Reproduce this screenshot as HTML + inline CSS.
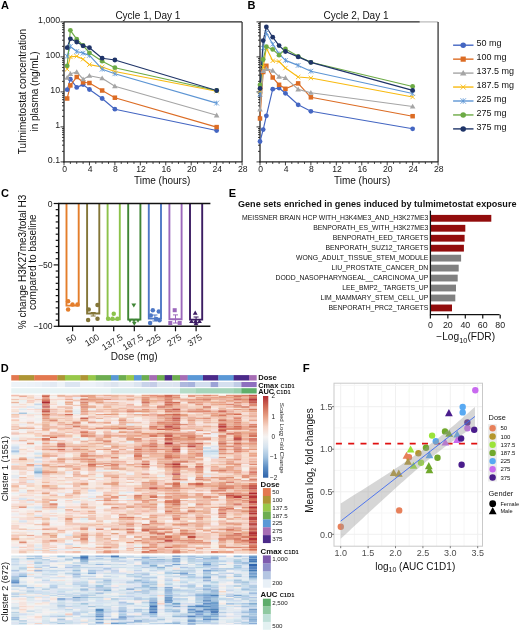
<!DOCTYPE html>
<html><head><meta charset="utf-8"><style>
html,body{margin:0;padding:0;background:#fff;overflow:hidden;}
svg{display:block;filter:blur(0.3px);}
text{font-family:"Liberation Sans",sans-serif;}
</style></head><body>
<svg width="520" height="631" viewBox="0 0 520 631" font-family="Liberation Sans, sans-serif">
<rect width="520" height="631" fill="#fff"/>
<text x="1.00" y="9.00" font-size="11" text-anchor="start" fill="#000" font-weight="bold" >A</text>
<text x="247.50" y="9.00" font-size="11" text-anchor="start" fill="#000" font-weight="bold" >B</text>
<line x1="64.00" y1="21.90" x2="64.00" y2="162.40" stroke="#262626" stroke-width="1.3" />
<line x1="63.40" y1="161.90" x2="242.08" y2="161.90" stroke="#262626" stroke-width="1.3" />
<line x1="64.00" y1="21.90" x2="242.08" y2="21.90" stroke="#262626" stroke-width="1.2" />
<line x1="242.08" y1="21.90" x2="242.08" y2="161.90" stroke="#262626" stroke-width="1.2" />
<line x1="60.50" y1="161.90" x2="64.00" y2="161.90" stroke="#262626" stroke-width="0.9" />
<line x1="62.00" y1="151.36" x2="64.00" y2="151.36" stroke="#262626" stroke-width="0.9" />
<line x1="62.00" y1="145.20" x2="64.00" y2="145.20" stroke="#262626" stroke-width="0.9" />
<line x1="62.00" y1="140.83" x2="64.00" y2="140.83" stroke="#262626" stroke-width="0.9" />
<line x1="62.00" y1="137.44" x2="64.00" y2="137.44" stroke="#262626" stroke-width="0.9" />
<line x1="62.00" y1="134.66" x2="64.00" y2="134.66" stroke="#262626" stroke-width="0.9" />
<line x1="62.00" y1="132.32" x2="64.00" y2="132.32" stroke="#262626" stroke-width="0.9" />
<line x1="62.00" y1="130.29" x2="64.00" y2="130.29" stroke="#262626" stroke-width="0.9" />
<line x1="62.00" y1="128.50" x2="64.00" y2="128.50" stroke="#262626" stroke-width="0.9" />
<line x1="60.50" y1="126.90" x2="64.00" y2="126.90" stroke="#262626" stroke-width="0.9" />
<line x1="62.00" y1="116.36" x2="64.00" y2="116.36" stroke="#262626" stroke-width="0.9" />
<line x1="62.00" y1="110.20" x2="64.00" y2="110.20" stroke="#262626" stroke-width="0.9" />
<line x1="62.00" y1="105.83" x2="64.00" y2="105.83" stroke="#262626" stroke-width="0.9" />
<line x1="62.00" y1="102.44" x2="64.00" y2="102.44" stroke="#262626" stroke-width="0.9" />
<line x1="62.00" y1="99.66" x2="64.00" y2="99.66" stroke="#262626" stroke-width="0.9" />
<line x1="62.00" y1="97.32" x2="64.00" y2="97.32" stroke="#262626" stroke-width="0.9" />
<line x1="62.00" y1="95.29" x2="64.00" y2="95.29" stroke="#262626" stroke-width="0.9" />
<line x1="62.00" y1="93.50" x2="64.00" y2="93.50" stroke="#262626" stroke-width="0.9" />
<line x1="60.50" y1="91.90" x2="64.00" y2="91.90" stroke="#262626" stroke-width="0.9" />
<line x1="62.00" y1="81.36" x2="64.00" y2="81.36" stroke="#262626" stroke-width="0.9" />
<line x1="62.00" y1="75.20" x2="64.00" y2="75.20" stroke="#262626" stroke-width="0.9" />
<line x1="62.00" y1="70.83" x2="64.00" y2="70.83" stroke="#262626" stroke-width="0.9" />
<line x1="62.00" y1="67.44" x2="64.00" y2="67.44" stroke="#262626" stroke-width="0.9" />
<line x1="62.00" y1="64.66" x2="64.00" y2="64.66" stroke="#262626" stroke-width="0.9" />
<line x1="62.00" y1="62.32" x2="64.00" y2="62.32" stroke="#262626" stroke-width="0.9" />
<line x1="62.00" y1="60.29" x2="64.00" y2="60.29" stroke="#262626" stroke-width="0.9" />
<line x1="62.00" y1="58.50" x2="64.00" y2="58.50" stroke="#262626" stroke-width="0.9" />
<line x1="60.50" y1="56.90" x2="64.00" y2="56.90" stroke="#262626" stroke-width="0.9" />
<line x1="62.00" y1="46.36" x2="64.00" y2="46.36" stroke="#262626" stroke-width="0.9" />
<line x1="62.00" y1="40.20" x2="64.00" y2="40.20" stroke="#262626" stroke-width="0.9" />
<line x1="62.00" y1="35.83" x2="64.00" y2="35.83" stroke="#262626" stroke-width="0.9" />
<line x1="62.00" y1="32.44" x2="64.00" y2="32.44" stroke="#262626" stroke-width="0.9" />
<line x1="62.00" y1="29.66" x2="64.00" y2="29.66" stroke="#262626" stroke-width="0.9" />
<line x1="62.00" y1="27.32" x2="64.00" y2="27.32" stroke="#262626" stroke-width="0.9" />
<line x1="62.00" y1="25.29" x2="64.00" y2="25.29" stroke="#262626" stroke-width="0.9" />
<line x1="62.00" y1="23.50" x2="64.00" y2="23.50" stroke="#262626" stroke-width="0.9" />
<line x1="60.50" y1="21.90" x2="64.00" y2="21.90" stroke="#262626" stroke-width="0.9" />
<line x1="64.00" y1="161.90" x2="64.00" y2="165.40" stroke="#262626" stroke-width="0.9" />
<line x1="70.36" y1="161.90" x2="70.36" y2="163.90" stroke="#262626" stroke-width="0.9" />
<line x1="76.72" y1="161.90" x2="76.72" y2="163.90" stroke="#262626" stroke-width="0.9" />
<line x1="83.08" y1="161.90" x2="83.08" y2="163.90" stroke="#262626" stroke-width="0.9" />
<line x1="89.44" y1="161.90" x2="89.44" y2="165.40" stroke="#262626" stroke-width="0.9" />
<line x1="95.80" y1="161.90" x2="95.80" y2="163.90" stroke="#262626" stroke-width="0.9" />
<line x1="102.16" y1="161.90" x2="102.16" y2="163.90" stroke="#262626" stroke-width="0.9" />
<line x1="108.52" y1="161.90" x2="108.52" y2="163.90" stroke="#262626" stroke-width="0.9" />
<line x1="114.88" y1="161.90" x2="114.88" y2="165.40" stroke="#262626" stroke-width="0.9" />
<line x1="121.24" y1="161.90" x2="121.24" y2="163.90" stroke="#262626" stroke-width="0.9" />
<line x1="127.60" y1="161.90" x2="127.60" y2="163.90" stroke="#262626" stroke-width="0.9" />
<line x1="133.96" y1="161.90" x2="133.96" y2="163.90" stroke="#262626" stroke-width="0.9" />
<line x1="140.32" y1="161.90" x2="140.32" y2="165.40" stroke="#262626" stroke-width="0.9" />
<line x1="146.68" y1="161.90" x2="146.68" y2="163.90" stroke="#262626" stroke-width="0.9" />
<line x1="153.04" y1="161.90" x2="153.04" y2="163.90" stroke="#262626" stroke-width="0.9" />
<line x1="159.40" y1="161.90" x2="159.40" y2="163.90" stroke="#262626" stroke-width="0.9" />
<line x1="165.76" y1="161.90" x2="165.76" y2="165.40" stroke="#262626" stroke-width="0.9" />
<line x1="172.12" y1="161.90" x2="172.12" y2="163.90" stroke="#262626" stroke-width="0.9" />
<line x1="178.48" y1="161.90" x2="178.48" y2="163.90" stroke="#262626" stroke-width="0.9" />
<line x1="184.84" y1="161.90" x2="184.84" y2="163.90" stroke="#262626" stroke-width="0.9" />
<line x1="191.20" y1="161.90" x2="191.20" y2="165.40" stroke="#262626" stroke-width="0.9" />
<line x1="197.56" y1="161.90" x2="197.56" y2="163.90" stroke="#262626" stroke-width="0.9" />
<line x1="203.92" y1="161.90" x2="203.92" y2="163.90" stroke="#262626" stroke-width="0.9" />
<line x1="210.28" y1="161.90" x2="210.28" y2="163.90" stroke="#262626" stroke-width="0.9" />
<line x1="216.64" y1="161.90" x2="216.64" y2="165.40" stroke="#262626" stroke-width="0.9" />
<line x1="223.00" y1="161.90" x2="223.00" y2="163.90" stroke="#262626" stroke-width="0.9" />
<line x1="229.36" y1="161.90" x2="229.36" y2="163.90" stroke="#262626" stroke-width="0.9" />
<line x1="235.72" y1="161.90" x2="235.72" y2="163.90" stroke="#262626" stroke-width="0.9" />
<line x1="242.08" y1="161.90" x2="242.08" y2="165.40" stroke="#262626" stroke-width="0.9" />
<text x="64.60" y="172.10" font-size="8.6" text-anchor="middle" fill="#222" >0</text>
<text x="90.04" y="172.10" font-size="8.6" text-anchor="middle" fill="#222" >4</text>
<text x="115.48" y="172.10" font-size="8.6" text-anchor="middle" fill="#222" >8</text>
<text x="140.92" y="172.10" font-size="8.6" text-anchor="middle" fill="#222" >12</text>
<text x="166.36" y="172.10" font-size="8.6" text-anchor="middle" fill="#222" >16</text>
<text x="191.80" y="172.10" font-size="8.6" text-anchor="middle" fill="#222" >20</text>
<text x="217.24" y="172.10" font-size="8.6" text-anchor="middle" fill="#222" >24</text>
<text x="242.68" y="172.10" font-size="8.6" text-anchor="middle" fill="#222" >28</text>
<text x="60.10" y="162.70" font-size="8.8" text-anchor="end" fill="#222" >0.1</text>
<text x="60.10" y="127.70" font-size="8.8" text-anchor="end" fill="#222" >1</text>
<text x="60.10" y="92.70" font-size="8.8" text-anchor="end" fill="#222" >10</text>
<text x="60.10" y="57.70" font-size="8.8" text-anchor="end" fill="#222" >100</text>
<text x="60.10" y="22.70" font-size="8.8" text-anchor="end" fill="#222" >1,000</text>
<text x="147.90" y="19.30" font-size="10" text-anchor="middle" fill="#111" >Cycle 1, Day 1</text>
<text x="162.10" y="184.00" font-size="10" text-anchor="middle" fill="#111" >Time (hours)</text>
<path d="M67.18 89.70L70.36 79.20L76.72 87.40L83.08 84.60L89.44 89.50L102.16 98.50L114.88 109.20L216.64 130.50" fill="none" stroke="#4466C2" stroke-width="1.15" stroke-linejoin="round"/>
<path d="M67.18 98.50L70.36 85.40L76.72 77.00L83.08 82.30L89.44 83.00L102.16 90.50L114.88 97.70L216.64 127.10" fill="none" stroke="#DC6C24" stroke-width="1.15" stroke-linejoin="round"/>
<path d="M67.18 77.70L70.36 73.80L76.72 72.00L83.08 79.20L89.44 75.70L102.16 78.20L114.88 86.20L216.64 115.30" fill="none" stroke="#A5A5A5" stroke-width="1.15" stroke-linejoin="round"/>
<path d="M67.18 69.20L70.36 56.90L76.72 56.20L83.08 59.20L89.44 64.60L102.16 67.00L114.88 71.50L216.64 91.20" fill="none" stroke="#F8BA10" stroke-width="1.15" stroke-linejoin="round"/>
<path d="M67.18 56.20L70.36 46.50L76.72 51.50L83.08 53.10L89.44 55.40L102.16 69.20L114.88 73.80L216.64 103.10" fill="none" stroke="#5D95D4" stroke-width="1.15" stroke-linejoin="round"/>
<path d="M67.18 65.80L70.36 30.30L76.72 39.20L83.08 45.50L89.44 52.80L102.16 61.20L114.88 67.70L216.64 90.50" fill="none" stroke="#6CAA45" stroke-width="1.15" stroke-linejoin="round"/>
<path d="M67.18 47.70L70.36 38.80L76.72 42.00L83.08 45.80L89.44 47.70L102.16 58.20L114.88 60.00L216.64 90.50" fill="none" stroke="#1F3468" stroke-width="1.15" stroke-linejoin="round"/>
<circle cx="67.18" cy="89.70" r="2.40" fill="#4466C2"/>
<circle cx="70.36" cy="79.20" r="2.40" fill="#4466C2"/>
<circle cx="76.72" cy="87.40" r="2.40" fill="#4466C2"/>
<circle cx="83.08" cy="84.60" r="2.40" fill="#4466C2"/>
<circle cx="89.44" cy="89.50" r="2.40" fill="#4466C2"/>
<circle cx="102.16" cy="98.50" r="2.40" fill="#4466C2"/>
<circle cx="114.88" cy="109.20" r="2.40" fill="#4466C2"/>
<circle cx="216.64" cy="130.50" r="2.40" fill="#4466C2"/>
<rect x="64.93" y="96.25" width="4.50" height="4.50" fill="#DC6C24"/>
<rect x="68.11" y="83.15" width="4.50" height="4.50" fill="#DC6C24"/>
<rect x="74.47" y="74.75" width="4.50" height="4.50" fill="#DC6C24"/>
<rect x="80.83" y="80.05" width="4.50" height="4.50" fill="#DC6C24"/>
<rect x="87.19" y="80.75" width="4.50" height="4.50" fill="#DC6C24"/>
<rect x="99.91" y="88.25" width="4.50" height="4.50" fill="#DC6C24"/>
<rect x="112.63" y="95.45" width="4.50" height="4.50" fill="#DC6C24"/>
<rect x="214.39" y="124.85" width="4.50" height="4.50" fill="#DC6C24"/>
<path d="M67.18 74.90L69.98 79.80L64.38 79.80Z" fill="#A5A5A5"/>
<path d="M70.36 71.00L73.16 75.90L67.56 75.90Z" fill="#A5A5A5"/>
<path d="M76.72 69.20L79.52 74.10L73.92 74.10Z" fill="#A5A5A5"/>
<path d="M83.08 76.40L85.88 81.30L80.28 81.30Z" fill="#A5A5A5"/>
<path d="M89.44 72.90L92.24 77.80L86.64 77.80Z" fill="#A5A5A5"/>
<path d="M102.16 75.40L104.96 80.30L99.36 80.30Z" fill="#A5A5A5"/>
<path d="M114.88 83.40L117.68 88.30L112.08 88.30Z" fill="#A5A5A5"/>
<path d="M216.64 112.50L219.44 117.40L213.84 117.40Z" fill="#A5A5A5"/>
<path d="M64.98 67.00L69.38 71.40M69.38 67.00L64.98 71.40" stroke="#F8BA10" stroke-width="0.9" fill="none"/>
<path d="M68.16 54.70L72.56 59.10M72.56 54.70L68.16 59.10" stroke="#F8BA10" stroke-width="0.9" fill="none"/>
<path d="M74.52 54.00L78.92 58.40M78.92 54.00L74.52 58.40" stroke="#F8BA10" stroke-width="0.9" fill="none"/>
<path d="M80.88 57.00L85.28 61.40M85.28 57.00L80.88 61.40" stroke="#F8BA10" stroke-width="0.9" fill="none"/>
<path d="M87.24 62.40L91.64 66.80M91.64 62.40L87.24 66.80" stroke="#F8BA10" stroke-width="0.9" fill="none"/>
<path d="M99.96 64.80L104.36 69.20M104.36 64.80L99.96 69.20" stroke="#F8BA10" stroke-width="0.9" fill="none"/>
<path d="M112.68 69.30L117.08 73.70M117.08 69.30L112.68 73.70" stroke="#F8BA10" stroke-width="0.9" fill="none"/>
<path d="M214.44 89.00L218.84 93.40M218.84 89.00L214.44 93.40" stroke="#F8BA10" stroke-width="0.9" fill="none"/>
<path d="M64.78 53.80L69.58 58.60M69.58 53.80L64.78 58.60M67.18 53.80L67.18 58.60" stroke="#5D95D4" stroke-width="0.8" fill="none"/>
<path d="M67.96 44.10L72.76 48.90M72.76 44.10L67.96 48.90M70.36 44.10L70.36 48.90" stroke="#5D95D4" stroke-width="0.8" fill="none"/>
<path d="M74.32 49.10L79.12 53.90M79.12 49.10L74.32 53.90M76.72 49.10L76.72 53.90" stroke="#5D95D4" stroke-width="0.8" fill="none"/>
<path d="M80.68 50.70L85.48 55.50M85.48 50.70L80.68 55.50M83.08 50.70L83.08 55.50" stroke="#5D95D4" stroke-width="0.8" fill="none"/>
<path d="M87.04 53.00L91.84 57.80M91.84 53.00L87.04 57.80M89.44 53.00L89.44 57.80" stroke="#5D95D4" stroke-width="0.8" fill="none"/>
<path d="M99.76 66.80L104.56 71.60M104.56 66.80L99.76 71.60M102.16 66.80L102.16 71.60" stroke="#5D95D4" stroke-width="0.8" fill="none"/>
<path d="M112.48 71.40L117.28 76.20M117.28 71.40L112.48 76.20M114.88 71.40L114.88 76.20" stroke="#5D95D4" stroke-width="0.8" fill="none"/>
<path d="M214.24 100.70L219.04 105.50M219.04 100.70L214.24 105.50M216.64 100.70L216.64 105.50" stroke="#5D95D4" stroke-width="0.8" fill="none"/>
<circle cx="67.18" cy="65.80" r="2.40" fill="#6CAA45"/>
<circle cx="70.36" cy="30.30" r="2.40" fill="#6CAA45"/>
<circle cx="76.72" cy="39.20" r="2.40" fill="#6CAA45"/>
<circle cx="83.08" cy="45.50" r="2.40" fill="#6CAA45"/>
<circle cx="89.44" cy="52.80" r="2.40" fill="#6CAA45"/>
<circle cx="102.16" cy="61.20" r="2.40" fill="#6CAA45"/>
<circle cx="114.88" cy="67.70" r="2.40" fill="#6CAA45"/>
<circle cx="216.64" cy="90.50" r="2.40" fill="#6CAA45"/>
<circle cx="67.18" cy="47.70" r="2.40" fill="#1F3468"/>
<circle cx="70.36" cy="38.80" r="2.40" fill="#1F3468"/>
<circle cx="76.72" cy="42.00" r="2.40" fill="#1F3468"/>
<circle cx="83.08" cy="45.80" r="2.40" fill="#1F3468"/>
<circle cx="89.44" cy="47.70" r="2.40" fill="#1F3468"/>
<circle cx="102.16" cy="58.20" r="2.40" fill="#1F3468"/>
<circle cx="114.88" cy="60.00" r="2.40" fill="#1F3468"/>
<circle cx="216.64" cy="90.50" r="2.40" fill="#1F3468"/>
<line x1="260.00" y1="21.90" x2="260.00" y2="162.40" stroke="#262626" stroke-width="1.3" />
<line x1="259.40" y1="161.90" x2="438.08" y2="161.90" stroke="#262626" stroke-width="1.3" />
<line x1="260.00" y1="21.90" x2="419.80" y2="21.90" stroke="#262626" stroke-width="1.2" />
<line x1="419.80" y1="21.90" x2="438.08" y2="21.90" stroke="#B8B8B8" stroke-width="1.2" />
<line x1="438.08" y1="21.90" x2="438.08" y2="161.90" stroke="#262626" stroke-width="1.2" />
<line x1="256.50" y1="161.90" x2="260.00" y2="161.90" stroke="#262626" stroke-width="0.9" />
<line x1="258.00" y1="151.36" x2="260.00" y2="151.36" stroke="#262626" stroke-width="0.9" />
<line x1="258.00" y1="145.20" x2="260.00" y2="145.20" stroke="#262626" stroke-width="0.9" />
<line x1="258.00" y1="140.83" x2="260.00" y2="140.83" stroke="#262626" stroke-width="0.9" />
<line x1="258.00" y1="137.44" x2="260.00" y2="137.44" stroke="#262626" stroke-width="0.9" />
<line x1="258.00" y1="134.66" x2="260.00" y2="134.66" stroke="#262626" stroke-width="0.9" />
<line x1="258.00" y1="132.32" x2="260.00" y2="132.32" stroke="#262626" stroke-width="0.9" />
<line x1="258.00" y1="130.29" x2="260.00" y2="130.29" stroke="#262626" stroke-width="0.9" />
<line x1="258.00" y1="128.50" x2="260.00" y2="128.50" stroke="#262626" stroke-width="0.9" />
<line x1="256.50" y1="126.90" x2="260.00" y2="126.90" stroke="#262626" stroke-width="0.9" />
<line x1="258.00" y1="116.36" x2="260.00" y2="116.36" stroke="#262626" stroke-width="0.9" />
<line x1="258.00" y1="110.20" x2="260.00" y2="110.20" stroke="#262626" stroke-width="0.9" />
<line x1="258.00" y1="105.83" x2="260.00" y2="105.83" stroke="#262626" stroke-width="0.9" />
<line x1="258.00" y1="102.44" x2="260.00" y2="102.44" stroke="#262626" stroke-width="0.9" />
<line x1="258.00" y1="99.66" x2="260.00" y2="99.66" stroke="#262626" stroke-width="0.9" />
<line x1="258.00" y1="97.32" x2="260.00" y2="97.32" stroke="#262626" stroke-width="0.9" />
<line x1="258.00" y1="95.29" x2="260.00" y2="95.29" stroke="#262626" stroke-width="0.9" />
<line x1="258.00" y1="93.50" x2="260.00" y2="93.50" stroke="#262626" stroke-width="0.9" />
<line x1="256.50" y1="91.90" x2="260.00" y2="91.90" stroke="#262626" stroke-width="0.9" />
<line x1="258.00" y1="81.36" x2="260.00" y2="81.36" stroke="#262626" stroke-width="0.9" />
<line x1="258.00" y1="75.20" x2="260.00" y2="75.20" stroke="#262626" stroke-width="0.9" />
<line x1="258.00" y1="70.83" x2="260.00" y2="70.83" stroke="#262626" stroke-width="0.9" />
<line x1="258.00" y1="67.44" x2="260.00" y2="67.44" stroke="#262626" stroke-width="0.9" />
<line x1="258.00" y1="64.66" x2="260.00" y2="64.66" stroke="#262626" stroke-width="0.9" />
<line x1="258.00" y1="62.32" x2="260.00" y2="62.32" stroke="#262626" stroke-width="0.9" />
<line x1="258.00" y1="60.29" x2="260.00" y2="60.29" stroke="#262626" stroke-width="0.9" />
<line x1="258.00" y1="58.50" x2="260.00" y2="58.50" stroke="#262626" stroke-width="0.9" />
<line x1="256.50" y1="56.90" x2="260.00" y2="56.90" stroke="#262626" stroke-width="0.9" />
<line x1="258.00" y1="46.36" x2="260.00" y2="46.36" stroke="#262626" stroke-width="0.9" />
<line x1="258.00" y1="40.20" x2="260.00" y2="40.20" stroke="#262626" stroke-width="0.9" />
<line x1="258.00" y1="35.83" x2="260.00" y2="35.83" stroke="#262626" stroke-width="0.9" />
<line x1="258.00" y1="32.44" x2="260.00" y2="32.44" stroke="#262626" stroke-width="0.9" />
<line x1="258.00" y1="29.66" x2="260.00" y2="29.66" stroke="#262626" stroke-width="0.9" />
<line x1="258.00" y1="27.32" x2="260.00" y2="27.32" stroke="#262626" stroke-width="0.9" />
<line x1="258.00" y1="25.29" x2="260.00" y2="25.29" stroke="#262626" stroke-width="0.9" />
<line x1="258.00" y1="23.50" x2="260.00" y2="23.50" stroke="#262626" stroke-width="0.9" />
<line x1="256.50" y1="21.90" x2="260.00" y2="21.90" stroke="#262626" stroke-width="0.9" />
<line x1="260.00" y1="161.90" x2="260.00" y2="165.40" stroke="#262626" stroke-width="0.9" />
<line x1="266.36" y1="161.90" x2="266.36" y2="163.90" stroke="#262626" stroke-width="0.9" />
<line x1="272.72" y1="161.90" x2="272.72" y2="163.90" stroke="#262626" stroke-width="0.9" />
<line x1="279.08" y1="161.90" x2="279.08" y2="163.90" stroke="#262626" stroke-width="0.9" />
<line x1="285.44" y1="161.90" x2="285.44" y2="165.40" stroke="#262626" stroke-width="0.9" />
<line x1="291.80" y1="161.90" x2="291.80" y2="163.90" stroke="#262626" stroke-width="0.9" />
<line x1="298.16" y1="161.90" x2="298.16" y2="163.90" stroke="#262626" stroke-width="0.9" />
<line x1="304.52" y1="161.90" x2="304.52" y2="163.90" stroke="#262626" stroke-width="0.9" />
<line x1="310.88" y1="161.90" x2="310.88" y2="165.40" stroke="#262626" stroke-width="0.9" />
<line x1="317.24" y1="161.90" x2="317.24" y2="163.90" stroke="#262626" stroke-width="0.9" />
<line x1="323.60" y1="161.90" x2="323.60" y2="163.90" stroke="#262626" stroke-width="0.9" />
<line x1="329.96" y1="161.90" x2="329.96" y2="163.90" stroke="#262626" stroke-width="0.9" />
<line x1="336.32" y1="161.90" x2="336.32" y2="165.40" stroke="#262626" stroke-width="0.9" />
<line x1="342.68" y1="161.90" x2="342.68" y2="163.90" stroke="#262626" stroke-width="0.9" />
<line x1="349.04" y1="161.90" x2="349.04" y2="163.90" stroke="#262626" stroke-width="0.9" />
<line x1="355.40" y1="161.90" x2="355.40" y2="163.90" stroke="#262626" stroke-width="0.9" />
<line x1="361.76" y1="161.90" x2="361.76" y2="165.40" stroke="#262626" stroke-width="0.9" />
<line x1="368.12" y1="161.90" x2="368.12" y2="163.90" stroke="#262626" stroke-width="0.9" />
<line x1="374.48" y1="161.90" x2="374.48" y2="163.90" stroke="#262626" stroke-width="0.9" />
<line x1="380.84" y1="161.90" x2="380.84" y2="163.90" stroke="#262626" stroke-width="0.9" />
<line x1="387.20" y1="161.90" x2="387.20" y2="165.40" stroke="#262626" stroke-width="0.9" />
<line x1="393.56" y1="161.90" x2="393.56" y2="163.90" stroke="#262626" stroke-width="0.9" />
<line x1="399.92" y1="161.90" x2="399.92" y2="163.90" stroke="#262626" stroke-width="0.9" />
<line x1="406.28" y1="161.90" x2="406.28" y2="163.90" stroke="#262626" stroke-width="0.9" />
<line x1="412.64" y1="161.90" x2="412.64" y2="165.40" stroke="#262626" stroke-width="0.9" />
<line x1="419.00" y1="161.90" x2="419.00" y2="163.90" stroke="#262626" stroke-width="0.9" />
<line x1="425.36" y1="161.90" x2="425.36" y2="163.90" stroke="#262626" stroke-width="0.9" />
<line x1="431.72" y1="161.90" x2="431.72" y2="163.90" stroke="#262626" stroke-width="0.9" />
<line x1="438.08" y1="161.90" x2="438.08" y2="165.40" stroke="#262626" stroke-width="0.9" />
<text x="260.60" y="172.10" font-size="8.6" text-anchor="middle" fill="#222" >0</text>
<text x="286.04" y="172.10" font-size="8.6" text-anchor="middle" fill="#222" >4</text>
<text x="311.48" y="172.10" font-size="8.6" text-anchor="middle" fill="#222" >8</text>
<text x="336.92" y="172.10" font-size="8.6" text-anchor="middle" fill="#222" >12</text>
<text x="362.36" y="172.10" font-size="8.6" text-anchor="middle" fill="#222" >16</text>
<text x="387.80" y="172.10" font-size="8.6" text-anchor="middle" fill="#222" >20</text>
<text x="413.24" y="172.10" font-size="8.6" text-anchor="middle" fill="#222" >24</text>
<text x="438.68" y="172.10" font-size="8.6" text-anchor="middle" fill="#222" >28</text>
<text x="356.00" y="19.30" font-size="10" text-anchor="middle" fill="#111" >Cycle 2, Day 1</text>
<text x="362.10" y="184.00" font-size="10" text-anchor="middle" fill="#111" >Time (hours)</text>
<path d="M260.00 141.50L263.18 129.60L266.36 115.80L272.72 89.20L279.08 88.00L285.44 93.30L298.16 104.80L310.88 111.30L412.64 128.80" fill="none" stroke="#4466C2" stroke-width="1.15" stroke-linejoin="round"/>
<path d="M260.00 118.50L263.18 72.00L266.36 65.80L272.72 77.50L279.08 84.80L285.44 88.80L298.16 83.40L310.88 97.30L412.64 116.20" fill="none" stroke="#DC6C24" stroke-width="1.15" stroke-linejoin="round"/>
<path d="M260.00 109.40L263.18 71.00L266.36 68.80L272.72 70.60L279.08 76.70L285.44 77.80L298.16 89.40L310.88 92.70L412.64 106.50" fill="none" stroke="#A5A5A5" stroke-width="1.15" stroke-linejoin="round"/>
<path d="M260.00 91.20L263.18 67.30L266.36 48.00L272.72 60.80L279.08 61.50L285.44 68.00L298.16 77.00L310.88 78.00L412.64 97.00" fill="none" stroke="#F8BA10" stroke-width="1.15" stroke-linejoin="round"/>
<path d="M260.00 94.60L263.18 48.00L266.36 32.70L272.72 44.20L279.08 53.80L285.44 60.40L298.16 65.40L310.88 71.20L412.64 93.50" fill="none" stroke="#5D95D4" stroke-width="1.15" stroke-linejoin="round"/>
<path d="M260.00 85.00L263.18 59.50L266.36 46.70L272.72 49.40L279.08 55.20L285.44 49.00L298.16 56.30L310.88 62.30L412.64 86.50" fill="none" stroke="#6CAA45" stroke-width="1.15" stroke-linejoin="round"/>
<path d="M260.00 88.50L263.18 40.60L266.36 27.00L272.72 37.20L279.08 45.60L285.44 51.50L298.16 56.90L310.88 62.40L412.64 90.40" fill="none" stroke="#1F3468" stroke-width="1.15" stroke-linejoin="round"/>
<circle cx="260.00" cy="141.50" r="2.40" fill="#4466C2"/>
<circle cx="263.18" cy="129.60" r="2.40" fill="#4466C2"/>
<circle cx="266.36" cy="115.80" r="2.40" fill="#4466C2"/>
<circle cx="272.72" cy="89.20" r="2.40" fill="#4466C2"/>
<circle cx="279.08" cy="88.00" r="2.40" fill="#4466C2"/>
<circle cx="285.44" cy="93.30" r="2.40" fill="#4466C2"/>
<circle cx="298.16" cy="104.80" r="2.40" fill="#4466C2"/>
<circle cx="310.88" cy="111.30" r="2.40" fill="#4466C2"/>
<circle cx="412.64" cy="128.80" r="2.40" fill="#4466C2"/>
<rect x="257.75" y="116.25" width="4.50" height="4.50" fill="#DC6C24"/>
<rect x="260.93" y="69.75" width="4.50" height="4.50" fill="#DC6C24"/>
<rect x="264.11" y="63.55" width="4.50" height="4.50" fill="#DC6C24"/>
<rect x="270.47" y="75.25" width="4.50" height="4.50" fill="#DC6C24"/>
<rect x="276.83" y="82.55" width="4.50" height="4.50" fill="#DC6C24"/>
<rect x="283.19" y="86.55" width="4.50" height="4.50" fill="#DC6C24"/>
<rect x="295.91" y="81.15" width="4.50" height="4.50" fill="#DC6C24"/>
<rect x="308.63" y="95.05" width="4.50" height="4.50" fill="#DC6C24"/>
<rect x="410.39" y="113.95" width="4.50" height="4.50" fill="#DC6C24"/>
<path d="M260.00 106.60L262.80 111.50L257.20 111.50Z" fill="#A5A5A5"/>
<path d="M263.18 68.20L265.98 73.10L260.38 73.10Z" fill="#A5A5A5"/>
<path d="M266.36 66.00L269.16 70.90L263.56 70.90Z" fill="#A5A5A5"/>
<path d="M272.72 67.80L275.52 72.70L269.92 72.70Z" fill="#A5A5A5"/>
<path d="M279.08 73.90L281.88 78.80L276.28 78.80Z" fill="#A5A5A5"/>
<path d="M285.44 75.00L288.24 79.90L282.64 79.90Z" fill="#A5A5A5"/>
<path d="M298.16 86.60L300.96 91.50L295.36 91.50Z" fill="#A5A5A5"/>
<path d="M310.88 89.90L313.68 94.80L308.08 94.80Z" fill="#A5A5A5"/>
<path d="M412.64 103.70L415.44 108.60L409.84 108.60Z" fill="#A5A5A5"/>
<path d="M257.80 89.00L262.20 93.40M262.20 89.00L257.80 93.40" stroke="#F8BA10" stroke-width="0.9" fill="none"/>
<path d="M260.98 65.10L265.38 69.50M265.38 65.10L260.98 69.50" stroke="#F8BA10" stroke-width="0.9" fill="none"/>
<path d="M264.16 45.80L268.56 50.20M268.56 45.80L264.16 50.20" stroke="#F8BA10" stroke-width="0.9" fill="none"/>
<path d="M270.52 58.60L274.92 63.00M274.92 58.60L270.52 63.00" stroke="#F8BA10" stroke-width="0.9" fill="none"/>
<path d="M276.88 59.30L281.28 63.70M281.28 59.30L276.88 63.70" stroke="#F8BA10" stroke-width="0.9" fill="none"/>
<path d="M283.24 65.80L287.64 70.20M287.64 65.80L283.24 70.20" stroke="#F8BA10" stroke-width="0.9" fill="none"/>
<path d="M295.96 74.80L300.36 79.20M300.36 74.80L295.96 79.20" stroke="#F8BA10" stroke-width="0.9" fill="none"/>
<path d="M308.68 75.80L313.08 80.20M313.08 75.80L308.68 80.20" stroke="#F8BA10" stroke-width="0.9" fill="none"/>
<path d="M410.44 94.80L414.84 99.20M414.84 94.80L410.44 99.20" stroke="#F8BA10" stroke-width="0.9" fill="none"/>
<path d="M257.60 92.20L262.40 97.00M262.40 92.20L257.60 97.00M260.00 92.20L260.00 97.00" stroke="#5D95D4" stroke-width="0.8" fill="none"/>
<path d="M260.78 45.60L265.58 50.40M265.58 45.60L260.78 50.40M263.18 45.60L263.18 50.40" stroke="#5D95D4" stroke-width="0.8" fill="none"/>
<path d="M263.96 30.30L268.76 35.10M268.76 30.30L263.96 35.10M266.36 30.30L266.36 35.10" stroke="#5D95D4" stroke-width="0.8" fill="none"/>
<path d="M270.32 41.80L275.12 46.60M275.12 41.80L270.32 46.60M272.72 41.80L272.72 46.60" stroke="#5D95D4" stroke-width="0.8" fill="none"/>
<path d="M276.68 51.40L281.48 56.20M281.48 51.40L276.68 56.20M279.08 51.40L279.08 56.20" stroke="#5D95D4" stroke-width="0.8" fill="none"/>
<path d="M283.04 58.00L287.84 62.80M287.84 58.00L283.04 62.80M285.44 58.00L285.44 62.80" stroke="#5D95D4" stroke-width="0.8" fill="none"/>
<path d="M295.76 63.00L300.56 67.80M300.56 63.00L295.76 67.80M298.16 63.00L298.16 67.80" stroke="#5D95D4" stroke-width="0.8" fill="none"/>
<path d="M308.48 68.80L313.28 73.60M313.28 68.80L308.48 73.60M310.88 68.80L310.88 73.60" stroke="#5D95D4" stroke-width="0.8" fill="none"/>
<path d="M410.24 91.10L415.04 95.90M415.04 91.10L410.24 95.90M412.64 91.10L412.64 95.90" stroke="#5D95D4" stroke-width="0.8" fill="none"/>
<circle cx="260.00" cy="85.00" r="2.40" fill="#6CAA45"/>
<circle cx="263.18" cy="59.50" r="2.40" fill="#6CAA45"/>
<circle cx="266.36" cy="46.70" r="2.40" fill="#6CAA45"/>
<circle cx="272.72" cy="49.40" r="2.40" fill="#6CAA45"/>
<circle cx="279.08" cy="55.20" r="2.40" fill="#6CAA45"/>
<circle cx="285.44" cy="49.00" r="2.40" fill="#6CAA45"/>
<circle cx="298.16" cy="56.30" r="2.40" fill="#6CAA45"/>
<circle cx="310.88" cy="62.30" r="2.40" fill="#6CAA45"/>
<circle cx="412.64" cy="86.50" r="2.40" fill="#6CAA45"/>
<circle cx="260.00" cy="88.50" r="2.40" fill="#1F3468"/>
<circle cx="263.18" cy="40.60" r="2.40" fill="#1F3468"/>
<circle cx="266.36" cy="27.00" r="2.40" fill="#1F3468"/>
<circle cx="272.72" cy="37.20" r="2.40" fill="#1F3468"/>
<circle cx="279.08" cy="45.60" r="2.40" fill="#1F3468"/>
<circle cx="285.44" cy="51.50" r="2.40" fill="#1F3468"/>
<circle cx="298.16" cy="56.90" r="2.40" fill="#1F3468"/>
<circle cx="310.88" cy="62.40" r="2.40" fill="#1F3468"/>
<circle cx="412.64" cy="90.40" r="2.40" fill="#1F3468"/>
<text transform="translate(25.6,91.5) rotate(-90)" font-size="10" text-anchor="middle" fill="#111">Tulmimetostat concentration</text>
<text transform="translate(37.7,91.5) rotate(-90)" font-size="10" text-anchor="middle" fill="#111">in plasma (ng/mL)</text>
<line x1="453.10" y1="45.20" x2="473.50" y2="45.20" stroke="#4466C2" stroke-width="1.4" />
<circle cx="463.20" cy="45.20" r="2.76" fill="#4466C2"/>
<text x="476.60" y="46.40" font-size="9" text-anchor="start" fill="#111" >50 mg</text>
<line x1="453.10" y1="59.15" x2="473.50" y2="59.15" stroke="#DC6C24" stroke-width="1.4" />
<rect x="460.61" y="56.56" width="5.17" height="5.17" fill="#DC6C24"/>
<text x="476.60" y="60.35" font-size="9" text-anchor="start" fill="#111" >100 mg</text>
<line x1="453.10" y1="73.10" x2="473.50" y2="73.10" stroke="#A5A5A5" stroke-width="1.4" />
<path d="M463.20 69.88L466.42 75.52L459.98 75.52Z" fill="#A5A5A5"/>
<text x="476.60" y="74.30" font-size="9" text-anchor="start" fill="#111" >137.5 mg</text>
<line x1="453.10" y1="87.05" x2="473.50" y2="87.05" stroke="#F8BA10" stroke-width="1.4" />
<path d="M460.67 84.52L465.73 89.58M465.73 84.52L460.67 89.58" stroke="#F8BA10" stroke-width="0.9" fill="none"/>
<text x="476.60" y="88.25" font-size="9" text-anchor="start" fill="#111" >187.5 mg</text>
<line x1="453.10" y1="101.00" x2="473.50" y2="101.00" stroke="#5D95D4" stroke-width="1.4" />
<path d="M460.44 98.24L465.96 103.76M465.96 98.24L460.44 103.76M463.20 98.24L463.20 103.76" stroke="#5D95D4" stroke-width="0.8" fill="none"/>
<text x="476.60" y="102.20" font-size="9" text-anchor="start" fill="#111" >225 mg</text>
<line x1="453.10" y1="114.95" x2="473.50" y2="114.95" stroke="#6CAA45" stroke-width="1.4" />
<circle cx="463.20" cy="114.95" r="2.76" fill="#6CAA45"/>
<text x="476.60" y="116.15" font-size="9" text-anchor="start" fill="#111" >275 mg</text>
<line x1="453.10" y1="128.90" x2="473.50" y2="128.90" stroke="#1F3468" stroke-width="1.4" />
<circle cx="463.20" cy="128.90" r="2.76" fill="#1F3468"/>
<text x="476.60" y="130.10" font-size="9" text-anchor="start" fill="#111" >375 mg</text>
<text x="0.90" y="197.00" font-size="11" text-anchor="start" fill="#000" font-weight="bold" >C</text>
<path d="M66.50 203.50V305.60H78.70V203.50" fill="none" stroke="#E47E2B" stroke-width="1.9"/>
<path d="M87.10 203.50V313.50H99.30V203.50" fill="none" stroke="#847638" stroke-width="1.9"/>
<path d="M107.60 203.50V319.40H119.80V203.50" fill="none" stroke="#8CC24A" stroke-width="1.9"/>
<path d="M128.20 203.50V319.60H140.40V203.50" fill="none" stroke="#3F8535" stroke-width="1.9"/>
<path d="M148.80 203.50V318.60H161.00V203.50" fill="none" stroke="#4E78C6" stroke-width="1.9"/>
<path d="M169.40 203.50V319.20H181.60V203.50" fill="none" stroke="#9C68BC" stroke-width="1.9"/>
<path d="M190.00 203.50V319.60H202.20V203.50" fill="none" stroke="#3C1D63" stroke-width="1.9"/>
<circle cx="68.1" cy="301.3" r="2.25" fill="#E47E2B"/>
<circle cx="72.5" cy="304.4" r="2.25" fill="#E47E2B"/>
<circle cx="77.5" cy="304.4" r="2.25" fill="#E47E2B"/>
<circle cx="68.1" cy="309.4" r="2.25" fill="#E47E2B"/>
<circle cx="97.5" cy="305" r="2.25" fill="#847638"/>
<circle cx="88.75" cy="309.4" r="2.25" fill="#847638"/>
<circle cx="88.1" cy="320" r="2.25" fill="#847638"/>
<circle cx="97.5" cy="318.75" r="2.25" fill="#847638"/>
<circle cx="113.75" cy="313.75" r="2.25" fill="#8CC24A"/>
<circle cx="108.1" cy="318.75" r="2.25" fill="#8CC24A"/>
<circle cx="117.5" cy="318.75" r="2.25" fill="#8CC24A"/>
<circle cx="112.5" cy="318.8" r="2.25" fill="#8CC24A"/>
<path d="M133.8 307.5L136.20000000000002 303.4L131.4 303.4Z" fill="#3F8535"/>
<path d="M130 322.8L132.4 318.7L127.6 318.7Z" fill="#3F8535"/>
<path d="M134 322.8L136.4 318.7L131.6 318.7Z" fill="#3F8535"/>
<path d="M138 322.8L140.4 318.7L135.6 318.7Z" fill="#3F8535"/>
<path d="M134.3 325.8L136.70000000000002 321.7L131.9 321.7Z" fill="#3F8535"/>
<circle cx="152.8" cy="310.2" r="2.25" fill="#4E78C6"/>
<circle cx="158.8" cy="311.5" r="2.25" fill="#4E78C6"/>
<circle cx="150.8" cy="315.6" r="2.25" fill="#4E78C6"/>
<circle cx="156.2" cy="318.9" r="2.25" fill="#4E78C6"/>
<circle cx="159.5" cy="320.3" r="2.25" fill="#4E78C6"/>
<circle cx="150.1" cy="323" r="2.25" fill="#4E78C6"/>
<rect x="172.7" y="308.2" width="4" height="4" fill="#9C68BC"/>
<rect x="168.3" y="321" width="4" height="4" fill="#9C68BC"/>
<rect x="177.7" y="321" width="4" height="4" fill="#9C68BC"/>
<path d="M195.2 310.59999999999997L197.6 314.7L192.79999999999998 314.7Z" fill="#3C1D63"/>
<path d="M191.5 318.9L193.9 323.0L189.1 323.0Z" fill="#3C1D63"/>
<path d="M195.5 318.9L197.9 323.0L193.1 323.0Z" fill="#3C1D63"/>
<path d="M199.5 318.9L201.9 323.0L197.1 323.0Z" fill="#3C1D63"/>
<path d="M196 321.2L198.4 325.3L193.6 325.3Z" fill="#3C1D63"/>
<line x1="93.20" y1="312.50" x2="93.20" y2="316.00" stroke="#847638" stroke-width="1.0" />
<line x1="90.70" y1="312.50" x2="95.70" y2="312.50" stroke="#847638" stroke-width="1.0" />
<line x1="90.70" y1="316.00" x2="95.70" y2="316.00" stroke="#847638" stroke-width="1.0" />
<line x1="154.90" y1="315.00" x2="154.90" y2="321.00" stroke="#4E78C6" stroke-width="1.0" />
<line x1="152.40" y1="315.00" x2="157.40" y2="315.00" stroke="#4E78C6" stroke-width="1.0" />
<line x1="152.40" y1="321.00" x2="157.40" y2="321.00" stroke="#4E78C6" stroke-width="1.0" />
<line x1="175.50" y1="314.90" x2="175.50" y2="323.00" stroke="#9C68BC" stroke-width="1.0" />
<line x1="173.00" y1="314.90" x2="178.00" y2="314.90" stroke="#9C68BC" stroke-width="1.0" />
<line x1="173.00" y1="323.00" x2="178.00" y2="323.00" stroke="#9C68BC" stroke-width="1.0" />
<line x1="196.10" y1="317.00" x2="196.10" y2="323.00" stroke="#3C1D63" stroke-width="1.0" />
<line x1="193.60" y1="317.00" x2="198.60" y2="317.00" stroke="#3C1D63" stroke-width="1.0" />
<line x1="193.60" y1="323.00" x2="198.60" y2="323.00" stroke="#3C1D63" stroke-width="1.0" />
<line x1="58.70" y1="203.50" x2="58.70" y2="327.05" stroke="#111" stroke-width="1.5" />
<line x1="57.95" y1="203.50" x2="210.40" y2="203.50" stroke="#111" stroke-width="1.5" />
<line x1="57.95" y1="326.30" x2="210.40" y2="326.30" stroke="#111" stroke-width="1.5" />
<line x1="53.70" y1="203.50" x2="58.70" y2="203.50" stroke="#111" stroke-width="1.2" />
<line x1="55.70" y1="209.64" x2="58.70" y2="209.64" stroke="#111" stroke-width="1.2" />
<line x1="55.70" y1="215.78" x2="58.70" y2="215.78" stroke="#111" stroke-width="1.2" />
<line x1="55.70" y1="221.92" x2="58.70" y2="221.92" stroke="#111" stroke-width="1.2" />
<line x1="55.70" y1="228.06" x2="58.70" y2="228.06" stroke="#111" stroke-width="1.2" />
<line x1="55.70" y1="234.20" x2="58.70" y2="234.20" stroke="#111" stroke-width="1.2" />
<line x1="55.70" y1="240.34" x2="58.70" y2="240.34" stroke="#111" stroke-width="1.2" />
<line x1="55.70" y1="246.48" x2="58.70" y2="246.48" stroke="#111" stroke-width="1.2" />
<line x1="55.70" y1="252.62" x2="58.70" y2="252.62" stroke="#111" stroke-width="1.2" />
<line x1="55.70" y1="258.76" x2="58.70" y2="258.76" stroke="#111" stroke-width="1.2" />
<line x1="53.70" y1="264.90" x2="58.70" y2="264.90" stroke="#111" stroke-width="1.2" />
<line x1="55.70" y1="271.04" x2="58.70" y2="271.04" stroke="#111" stroke-width="1.2" />
<line x1="55.70" y1="277.18" x2="58.70" y2="277.18" stroke="#111" stroke-width="1.2" />
<line x1="55.70" y1="283.32" x2="58.70" y2="283.32" stroke="#111" stroke-width="1.2" />
<line x1="55.70" y1="289.46" x2="58.70" y2="289.46" stroke="#111" stroke-width="1.2" />
<line x1="55.70" y1="295.60" x2="58.70" y2="295.60" stroke="#111" stroke-width="1.2" />
<line x1="55.70" y1="301.74" x2="58.70" y2="301.74" stroke="#111" stroke-width="1.2" />
<line x1="55.70" y1="307.88" x2="58.70" y2="307.88" stroke="#111" stroke-width="1.2" />
<line x1="55.70" y1="314.02" x2="58.70" y2="314.02" stroke="#111" stroke-width="1.2" />
<line x1="55.70" y1="320.16" x2="58.70" y2="320.16" stroke="#111" stroke-width="1.2" />
<line x1="53.70" y1="326.30" x2="58.70" y2="326.30" stroke="#111" stroke-width="1.2" />
<text x="52.60" y="206.50" font-size="8.6" text-anchor="end" fill="#222" >0</text>
<text x="52.60" y="267.90" font-size="8.6" text-anchor="end" fill="#222" >−50</text>
<text x="52.60" y="329.30" font-size="8.6" text-anchor="end" fill="#222" >−100</text>
<line x1="72.60" y1="326.30" x2="72.60" y2="331.30" stroke="#111" stroke-width="1.2" />
<text transform="translate(77.30,338.90) rotate(-32)" font-size="9" text-anchor="end" fill="#222">50</text>
<line x1="93.20" y1="326.30" x2="93.20" y2="331.30" stroke="#111" stroke-width="1.2" />
<text transform="translate(99.90,338.90) rotate(-32)" font-size="9" text-anchor="end" fill="#222">100</text>
<line x1="113.70" y1="326.30" x2="113.70" y2="331.30" stroke="#111" stroke-width="1.2" />
<text transform="translate(123.40,338.90) rotate(-32)" font-size="9" text-anchor="end" fill="#222">137.5</text>
<line x1="134.30" y1="326.30" x2="134.30" y2="331.30" stroke="#111" stroke-width="1.2" />
<text transform="translate(144.00,338.90) rotate(-32)" font-size="9" text-anchor="end" fill="#222">187.5</text>
<line x1="154.90" y1="326.30" x2="154.90" y2="331.30" stroke="#111" stroke-width="1.2" />
<text transform="translate(161.60,338.90) rotate(-32)" font-size="9" text-anchor="end" fill="#222">225</text>
<line x1="175.50" y1="326.30" x2="175.50" y2="331.30" stroke="#111" stroke-width="1.2" />
<text transform="translate(182.20,338.90) rotate(-32)" font-size="9" text-anchor="end" fill="#222">275</text>
<line x1="196.10" y1="326.30" x2="196.10" y2="331.30" stroke="#111" stroke-width="1.2" />
<text transform="translate(202.80,338.90) rotate(-32)" font-size="9" text-anchor="end" fill="#222">375</text>
<text x="134.20" y="360.00" font-size="10" text-anchor="middle" fill="#111" >Dose (mg)</text>
<text transform="translate(25.6,261.9) rotate(-90)" font-size="10" text-anchor="middle" fill="#111">% change H3K27me3/total H3</text>
<text transform="translate(35.7,262.2) rotate(-90)" font-size="10" text-anchor="middle" fill="#111">compared to baseline</text>
<text x="228.80" y="197.40" font-size="11" text-anchor="start" fill="#000" font-weight="bold" >E</text>
<text x="238.00" y="207.00" font-size="9.08" text-anchor="start" fill="#111" font-weight="bold" >Gene sets enriched in genes induced by tulmimetostat exposure</text>
<rect x="430.4" y="214.90" width="60.90" height="6.8" fill="#920C0C"/>
<text x="428.30" y="220.10" font-size="6.85" text-anchor="end" fill="#111" >MEISSNER BRAIN HCP WITH_H3K4ME3_AND_H3K27ME3</text>
<rect x="430.4" y="224.86" width="34.90" height="6.8" fill="#920C0C"/>
<text x="428.30" y="230.06" font-size="6.85" text-anchor="end" fill="#111" >BENPORATH_ES_WITH_H3K27ME3</text>
<rect x="430.4" y="234.82" width="34.20" height="6.8" fill="#920C0C"/>
<text x="428.30" y="240.02" font-size="6.85" text-anchor="end" fill="#111" >BENPORATH_EED_TARGETS</text>
<rect x="430.4" y="244.78" width="33.50" height="6.8" fill="#920C0C"/>
<text x="428.30" y="249.98" font-size="6.85" text-anchor="end" fill="#111" >BENPORATH_SUZ12_TARGETS</text>
<rect x="430.4" y="254.74" width="30.70" height="6.8" fill="#808080"/>
<text x="428.30" y="259.94" font-size="6.85" text-anchor="end" fill="#111" >WONG_ADULT_TISSUE_STEM_MODULE</text>
<rect x="430.4" y="264.70" width="28.30" height="6.8" fill="#808080"/>
<text x="428.30" y="269.90" font-size="6.85" text-anchor="end" fill="#111" >LIU_PROSTATE_CANCER_DN</text>
<rect x="430.4" y="274.66" width="27.30" height="6.8" fill="#808080"/>
<text x="428.30" y="279.86" font-size="6.85" text-anchor="end" fill="#111" >DODD_NASOPHARYNGEAL__CARCINOMA_UP</text>
<rect x="430.4" y="284.62" width="25.60" height="6.8" fill="#808080"/>
<text x="428.30" y="289.82" font-size="6.85" text-anchor="end" fill="#111" >LEE_BMP2_ TARGETS_UP</text>
<rect x="430.4" y="294.58" width="24.90" height="6.8" fill="#808080"/>
<text x="428.30" y="299.78" font-size="6.85" text-anchor="end" fill="#111" >LIM_MAMMARY_STEM_CELL_UP</text>
<rect x="430.4" y="304.54" width="21.60" height="6.8" fill="#920C0C"/>
<text x="428.30" y="309.74" font-size="6.85" text-anchor="end" fill="#111" >BENPORATH_PRC2_TARGETS</text>
<line x1="430.40" y1="210.60" x2="430.40" y2="315.40" stroke="#111" stroke-width="1.3" />
<line x1="430.40" y1="314.70" x2="499.60" y2="314.70" stroke="#111" stroke-width="1.3" />
<line x1="430.40" y1="314.70" x2="430.40" y2="318.40" stroke="#111" stroke-width="1.2" />
<text x="430.40" y="327.70" font-size="8.8" text-anchor="middle" fill="#222" >0</text>
<line x1="447.85" y1="314.70" x2="447.85" y2="318.40" stroke="#111" stroke-width="1.2" />
<text x="447.85" y="327.70" font-size="8.8" text-anchor="middle" fill="#222" >20</text>
<line x1="465.30" y1="314.70" x2="465.30" y2="318.40" stroke="#111" stroke-width="1.2" />
<text x="465.30" y="327.70" font-size="8.8" text-anchor="middle" fill="#222" >40</text>
<line x1="482.75" y1="314.70" x2="482.75" y2="318.40" stroke="#111" stroke-width="1.2" />
<text x="482.75" y="327.70" font-size="8.8" text-anchor="middle" fill="#222" >60</text>
<line x1="500.20" y1="314.70" x2="500.20" y2="318.40" stroke="#111" stroke-width="1.2" />
<text x="500.20" y="327.70" font-size="8.8" text-anchor="middle" fill="#222" >80</text>
<text x="436.2" y="339.6" font-size="10.2" fill="#111">−Log<tspan font-size="7.4" dy="3.0">10</tspan><tspan dy="-3.0">(FDR)</tspan></text>
<text x="302.80" y="372.00" font-size="11.4" text-anchor="start" fill="#000" font-weight="bold" >F</text>
<rect x="334.0" y="383.2" width="148.5" height="163.00000000000006" fill="#fff"/>
<line x1="340.70" y1="383.20" x2="340.70" y2="546.20" stroke="#EEEEEE" stroke-width="0.9" />
<line x1="354.40" y1="383.20" x2="354.40" y2="546.20" stroke="#F5F5F5" stroke-width="0.9" />
<line x1="368.10" y1="383.20" x2="368.10" y2="546.20" stroke="#EEEEEE" stroke-width="0.9" />
<line x1="381.80" y1="383.20" x2="381.80" y2="546.20" stroke="#F5F5F5" stroke-width="0.9" />
<line x1="395.50" y1="383.20" x2="395.50" y2="546.20" stroke="#EEEEEE" stroke-width="0.9" />
<line x1="409.20" y1="383.20" x2="409.20" y2="546.20" stroke="#F5F5F5" stroke-width="0.9" />
<line x1="422.90" y1="383.20" x2="422.90" y2="546.20" stroke="#EEEEEE" stroke-width="0.9" />
<line x1="436.60" y1="383.20" x2="436.60" y2="546.20" stroke="#F5F5F5" stroke-width="0.9" />
<line x1="450.30" y1="383.20" x2="450.30" y2="546.20" stroke="#EEEEEE" stroke-width="0.9" />
<line x1="464.00" y1="383.20" x2="464.00" y2="546.20" stroke="#F5F5F5" stroke-width="0.9" />
<line x1="477.70" y1="383.20" x2="477.70" y2="546.20" stroke="#EEEEEE" stroke-width="0.9" />
<line x1="334.00" y1="534.30" x2="482.50" y2="534.30" stroke="#EEEEEE" stroke-width="0.9" />
<line x1="334.00" y1="513.02" x2="482.50" y2="513.02" stroke="#F5F5F5" stroke-width="0.9" />
<line x1="334.00" y1="491.75" x2="482.50" y2="491.75" stroke="#EEEEEE" stroke-width="0.9" />
<line x1="334.00" y1="470.47" x2="482.50" y2="470.47" stroke="#F5F5F5" stroke-width="0.9" />
<line x1="334.00" y1="449.20" x2="482.50" y2="449.20" stroke="#EEEEEE" stroke-width="0.9" />
<line x1="334.00" y1="427.92" x2="482.50" y2="427.92" stroke="#F5F5F5" stroke-width="0.9" />
<line x1="334.00" y1="406.65" x2="482.50" y2="406.65" stroke="#EEEEEE" stroke-width="0.9" />
<line x1="334.00" y1="385.38" x2="482.50" y2="385.38" stroke="#F5F5F5" stroke-width="0.9" />
<line x1="335.5" y1="443.6" x2="482.5" y2="443.6" stroke="#E01010" stroke-width="1.7" stroke-dasharray="6 6.3" stroke-dashoffset="-0.4"/>
<circle cx="340.8" cy="526.7" r="3.2" fill="#E7805A"/>
<circle cx="399.2" cy="510.4" r="3.2" fill="#E7805A"/>
<path d="M393.70 469.00L397.60 476.10L389.80 476.10Z" fill="#B4962C"/>
<path d="M398.80 469.60L402.70 476.70L394.90 476.70Z" fill="#B4962C"/>
<path d="M406.50 451.70L410.40 458.80L402.60 458.80Z" fill="#E7805A"/>
<circle cx="409.0" cy="457.3" r="3.2" fill="#E7805A"/>
<path d="M408.00 457.70L411.90 464.80L404.10 464.80Z" fill="#B4962C"/>
<circle cx="418.4" cy="453.3" r="3.2" fill="#B4962C"/>
<path d="M410.60 445.50L414.50 452.60L406.70 452.60Z" fill="#9BE33A"/>
<path d="M413.50 461.70L417.40 468.80L409.60 468.80Z" fill="#9BE33A"/>
<circle cx="421.0" cy="462.8" r="3.2" fill="#9BE33A"/>
<circle cx="432.1" cy="435.6" r="3.2" fill="#9BE33A"/>
<circle cx="426.0" cy="447.7" r="3.2" fill="#70A82C"/>
<circle cx="437.5" cy="457.8" r="3.2" fill="#70A82C"/>
<path d="M428.80 462.10L432.70 469.20L424.90 469.20Z" fill="#70A82C"/>
<path d="M429.40 466.10L433.30 473.20L425.50 473.20Z" fill="#70A82C"/>
<circle cx="445.0" cy="431.4" r="3.2" fill="#70A82C"/>
<path d="M449.20 429.70L453.10 436.80L445.30 436.80Z" fill="#70A82C"/>
<path d="M429.40 451.10L433.30 458.20L425.50 458.20Z" fill="#58A9F2"/>
<circle cx="435.8" cy="441.3" r="3.2" fill="#58A9F2"/>
<path d="M457.20 430.50L461.10 437.60L453.30 437.60Z" fill="#58A9F2"/>
<circle cx="462.7" cy="406.9" r="3.2" fill="#58A9F2"/>
<circle cx="462.7" cy="412.4" r="3.2" fill="#58A9F2"/>
<path d="M445.30 438.50L449.20 445.60L441.40 445.60Z" fill="#C86AEF"/>
<path d="M457.00 435.90L460.90 443.00L453.10 443.00Z" fill="#C86AEF"/>
<circle cx="467.4" cy="428.3" r="3.2" fill="#C86AEF"/>
<circle cx="475.3" cy="390.3" r="3.2" fill="#C86AEF"/>
<path d="M448.90 409.10L452.80 416.20L445.00 416.20Z" fill="#4A1D8C"/>
<circle cx="467.4" cy="422.4" r="3.2" fill="#4A1D8C"/>
<circle cx="474.2" cy="429.8" r="3.2" fill="#4A1D8C"/>
<circle cx="461.1" cy="438.5" r="3.2" fill="#4A1D8C"/>
<circle cx="461.6" cy="464.7" r="3.2" fill="#4A1D8C"/>
<path d="M340.70 503.41L343.44 501.70L346.18 499.99L348.92 498.28L351.66 496.56L354.40 494.84L357.14 493.12L359.88 491.39L362.62 489.67L365.36 487.94L368.10 486.20L370.84 484.46L373.58 482.72L376.32 480.97L379.06 479.21L381.80 477.45L384.54 475.69L387.28 473.91L390.02 472.13L392.76 470.34L395.50 468.54L398.24 466.72L400.98 464.90L403.72 463.06L406.46 461.21L409.20 459.34L411.94 457.45L414.68 455.55L417.42 453.62L420.16 451.67L422.90 449.69L425.64 447.69L428.38 445.66L431.12 443.60L433.86 441.51L436.60 439.39L439.34 437.24L442.08 435.05L444.82 432.84L447.56 430.60L450.30 428.33L453.04 426.03L455.78 423.71L458.52 421.37L461.26 419.00L464.00 416.62L466.74 414.22L469.48 411.80L472.22 409.36L474.96 406.92L474.96 406.92L474.96 425.97L474.96 425.97L472.22 427.80L469.48 429.64L466.74 431.49L464.00 433.36L461.26 435.25L458.52 437.15L455.78 439.08L453.04 441.03L450.30 443.01L447.56 445.01L444.82 447.04L442.08 449.10L439.34 451.19L436.60 453.31L433.86 455.46L431.12 457.64L428.38 459.86L425.64 462.10L422.90 464.37L420.16 466.66L417.42 468.99L414.68 471.33L411.94 473.69L409.20 476.08L406.46 478.48L403.72 480.90L400.98 483.34L398.24 485.78L395.50 488.24L392.76 490.71L390.02 493.19L387.28 495.68L384.54 498.18L381.80 500.68L379.06 503.20L376.32 505.71L373.58 508.24L370.84 510.77L368.10 513.30L365.36 515.83L362.62 518.38L359.88 520.92L357.14 523.47L354.40 526.02L351.66 528.57L348.92 531.13L346.18 533.69L343.44 536.25L340.70 538.81Z" fill="#999999" fill-opacity="0.4"/>
<line x1="340.70" y1="521.11" x2="474.96" y2="416.45" stroke="#3F6BF0" stroke-width="0.9"/>
<rect x="334.0" y="383.2" width="148.5" height="163.00000000000006" fill="none" stroke="#C9C9C9" stroke-width="1"/>
<line x1="340.70" y1="546.20" x2="340.70" y2="548.20" stroke="#555" stroke-width="0.8" />
<text x="340.70" y="555.50" font-size="9" text-anchor="middle" fill="#4D4D4D" >1.0</text>
<line x1="368.10" y1="546.20" x2="368.10" y2="548.20" stroke="#555" stroke-width="0.8" />
<text x="368.10" y="555.50" font-size="9" text-anchor="middle" fill="#4D4D4D" >1.5</text>
<line x1="395.50" y1="546.20" x2="395.50" y2="548.20" stroke="#555" stroke-width="0.8" />
<text x="395.50" y="555.50" font-size="9" text-anchor="middle" fill="#4D4D4D" >2.0</text>
<line x1="422.90" y1="546.20" x2="422.90" y2="548.20" stroke="#555" stroke-width="0.8" />
<text x="422.90" y="555.50" font-size="9" text-anchor="middle" fill="#4D4D4D" >2.5</text>
<line x1="450.30" y1="546.20" x2="450.30" y2="548.20" stroke="#555" stroke-width="0.8" />
<text x="450.30" y="555.50" font-size="9" text-anchor="middle" fill="#4D4D4D" >3.0</text>
<line x1="477.70" y1="546.20" x2="477.70" y2="548.20" stroke="#555" stroke-width="0.8" />
<text x="477.70" y="555.50" font-size="9" text-anchor="middle" fill="#4D4D4D" >3.5</text>
<line x1="332.00" y1="534.30" x2="334.00" y2="534.30" stroke="#555" stroke-width="0.8" />
<text x="332.40" y="537.50" font-size="9" text-anchor="end" fill="#4D4D4D" >0.0</text>
<line x1="332.00" y1="491.75" x2="334.00" y2="491.75" stroke="#555" stroke-width="0.8" />
<text x="332.40" y="494.95" font-size="9" text-anchor="end" fill="#4D4D4D" >0.5</text>
<line x1="332.00" y1="449.20" x2="334.00" y2="449.20" stroke="#555" stroke-width="0.8" />
<text x="332.40" y="452.40" font-size="9" text-anchor="end" fill="#4D4D4D" >1.0</text>
<line x1="332.00" y1="406.65" x2="334.00" y2="406.65" stroke="#555" stroke-width="0.8" />
<text x="332.40" y="409.85" font-size="9" text-anchor="end" fill="#4D4D4D" >1.5</text>
<text x="415.2" y="569.6" font-size="10" text-anchor="middle" fill="#111">log<tspan font-size="7" dy="2.5">10</tspan><tspan dy="-2.5"> (AUC C1D1)</tspan></text>
<text transform="translate(313.3,460.6) rotate(-90)" font-size="10" text-anchor="middle" fill="#111">Mean log<tspan font-size="7" dy="2.5">2</tspan><tspan dy="-2.5"> fold changes</tspan></text>
<text x="488.60" y="420.00" font-size="7.4" text-anchor="start" fill="#111" >Dose</text>
<rect x="488.1" y="424.1" width="8.8" height="57.4" fill="#EBEBEB"/>
<circle cx="492.6" cy="428.30" r="3.2" fill="#E7805A"/>
<text x="500.40" y="430.40" font-size="6.0" text-anchor="start" fill="#111" >50</text>
<circle cx="492.6" cy="436.50" r="3.2" fill="#B4962C"/>
<text x="500.40" y="438.60" font-size="6.0" text-anchor="start" fill="#111" >100</text>
<circle cx="492.6" cy="444.70" r="3.2" fill="#9BE33A"/>
<text x="500.40" y="446.80" font-size="6.0" text-anchor="start" fill="#111" >137.5</text>
<circle cx="492.6" cy="452.90" r="3.2" fill="#70A82C"/>
<text x="500.40" y="455.00" font-size="6.0" text-anchor="start" fill="#111" >187.5</text>
<circle cx="492.6" cy="461.10" r="3.2" fill="#58A9F2"/>
<text x="500.40" y="463.20" font-size="6.0" text-anchor="start" fill="#111" >225</text>
<circle cx="492.6" cy="469.30" r="3.2" fill="#C86AEF"/>
<text x="500.40" y="471.40" font-size="6.0" text-anchor="start" fill="#111" >275</text>
<circle cx="492.6" cy="477.50" r="3.2" fill="#4A1D8C"/>
<text x="500.40" y="479.60" font-size="6.0" text-anchor="start" fill="#111" >375</text>
<text x="488.60" y="496.10" font-size="7.4" text-anchor="start" fill="#111" >Gender</text>
<circle cx="492.7" cy="503.7" r="3.4" fill="#000"/>
<path d="M492.7 507.0L496.6 514.2L488.8 514.2Z" fill="#000"/>
<text x="500.40" y="505.60" font-size="5.6" text-anchor="start" fill="#111" >Female</text>
<text x="500.40" y="513.40" font-size="5.6" text-anchor="start" fill="#111" >Male</text>
<text x="0.80" y="372.30" font-size="11" text-anchor="start" fill="#000" font-weight="bold" >D</text>
<rect x="11.25" y="375.1" width="7.92" height="5.4" fill="#E3784F"/>
<rect x="18.92" y="375.1" width="15.59" height="5.4" fill="#AE9535"/>
<rect x="34.26" y="375.1" width="23.26" height="5.4" fill="#E3784F"/>
<rect x="57.27" y="375.1" width="7.92" height="5.4" fill="#AE9535"/>
<rect x="64.94" y="375.1" width="15.59" height="5.4" fill="#98C84A"/>
<rect x="80.28" y="375.1" width="7.92" height="5.4" fill="#AE9535"/>
<rect x="87.95" y="375.1" width="7.92" height="5.4" fill="#98C84A"/>
<rect x="95.62" y="375.1" width="15.59" height="5.4" fill="#6DAD50"/>
<rect x="110.96" y="375.1" width="7.92" height="5.4" fill="#5A98D6"/>
<rect x="118.63" y="375.1" width="7.92" height="5.4" fill="#6DAD50"/>
<rect x="126.30" y="375.1" width="7.92" height="5.4" fill="#98C84A"/>
<rect x="133.97" y="375.1" width="7.92" height="5.4" fill="#5A98D6"/>
<rect x="141.64" y="375.1" width="7.92" height="5.4" fill="#6DAD50"/>
<rect x="149.31" y="375.1" width="7.92" height="5.4" fill="#A66DB4"/>
<rect x="156.98" y="375.1" width="7.92" height="5.4" fill="#6DAD50"/>
<rect x="164.65" y="375.1" width="7.92" height="5.4" fill="#4B2A89"/>
<rect x="172.32" y="375.1" width="7.92" height="5.4" fill="#6DAD50"/>
<rect x="179.99" y="375.1" width="7.92" height="5.4" fill="#A66DB4"/>
<rect x="187.66" y="375.1" width="15.59" height="5.4" fill="#5A98D6"/>
<rect x="203.00" y="375.1" width="15.59" height="5.4" fill="#4B2A89"/>
<rect x="218.34" y="375.1" width="15.59" height="5.4" fill="#5A98D6"/>
<rect x="233.68" y="375.1" width="15.59" height="5.4" fill="#4B2A89"/>
<rect x="249.02" y="375.1" width="7.67" height="5.4" fill="#A66DB4"/>
<rect x="11.25" y="382.0" width="15.59" height="5.1" fill="#EEF3F8"/>
<rect x="26.59" y="382.0" width="7.92" height="5.1" fill="#EDF2F8"/>
<rect x="34.26" y="382.0" width="7.92" height="5.1" fill="#EBF1F7"/>
<rect x="41.93" y="382.0" width="7.92" height="5.1" fill="#E6EDF5"/>
<rect x="49.60" y="382.0" width="7.92" height="5.1" fill="#E3EAF3"/>
<rect x="57.27" y="382.0" width="7.92" height="5.1" fill="#EEF3F8"/>
<rect x="64.94" y="382.0" width="15.59" height="5.1" fill="#DCE5F1"/>
<rect x="80.28" y="382.0" width="15.59" height="5.1" fill="#EDF2F8"/>
<rect x="95.62" y="382.0" width="7.92" height="5.1" fill="#E8EEF5"/>
<rect x="103.29" y="382.0" width="7.92" height="5.1" fill="#E2E9F2"/>
<rect x="110.96" y="382.0" width="7.92" height="5.1" fill="#DCE4EF"/>
<rect x="118.63" y="382.0" width="15.59" height="5.1" fill="#E6ECF4"/>
<rect x="133.97" y="382.0" width="7.92" height="5.1" fill="#DCE5F0"/>
<rect x="141.64" y="382.0" width="7.92" height="5.1" fill="#C8D3EA"/>
<rect x="149.31" y="382.0" width="7.92" height="5.1" fill="#C5CDE8"/>
<rect x="156.98" y="382.0" width="15.59" height="5.1" fill="#DDE5F0"/>
<rect x="172.32" y="382.0" width="7.92" height="5.1" fill="#DCE3F0"/>
<rect x="179.99" y="382.0" width="7.92" height="5.1" fill="#AEB8DE"/>
<rect x="187.66" y="382.0" width="7.92" height="5.1" fill="#A7B3DD"/>
<rect x="195.33" y="382.0" width="15.59" height="5.1" fill="#D3DEEE"/>
<rect x="210.67" y="382.0" width="7.92" height="5.1" fill="#9BA2D6"/>
<rect x="218.34" y="382.0" width="15.59" height="5.1" fill="#D5E0EF"/>
<rect x="233.68" y="382.0" width="7.92" height="5.1" fill="#C0CCE6"/>
<rect x="241.35" y="382.0" width="15.34" height="5.1" fill="#8E6FBF"/>
<rect x="11.25" y="388.2" width="99.96" height="5.3" fill="#E8F3F4"/>
<rect x="110.96" y="388.2" width="23.26" height="5.3" fill="#DAEDED"/>
<rect x="133.97" y="388.2" width="46.27" height="5.3" fill="#D8ECEC"/>
<rect x="179.99" y="388.2" width="15.59" height="5.3" fill="#B5DCC7"/>
<rect x="195.33" y="388.2" width="38.60" height="5.3" fill="#A5D5BA"/>
<rect x="233.68" y="388.2" width="7.92" height="5.3" fill="#98CFAC"/>
<rect x="241.35" y="388.2" width="15.34" height="5.3" fill="#5EAE6A"/>
<g transform="translate(11.25,0) scale(7.67,1)">
<path fill="#F0B4A2" d="M0 394.8h1.04v1.12h-1.04zM8 395.8h1.04v1.12h-1.04zM15 403.4h1.04v1.92h-1.04zM9 412.4h1.04v1.62h-1.04zM18 421.4h1.04v2.32h-1.04zM4 447.2h1.04v1.62h-1.04zM6 450.2h1.04v2.32h-1.04zM14 460.5h1.04v2.32h-1.04zM29 466.1h1.04v1.62h-1.04zM23 467.6h1.04v2.32h-1.04zM19 485.1h1.04v2.32h-1.04zM19 489.5h1.04v2.32h-1.04zM13 497.8h1.04v1.32h-1.04zM16 500.0h1.04v1.12h-1.04zM5 505.4h1.04v1.32h-1.04zM4 506.6h1.04v1.62h-1.04zM19 523.6h1.04v1.92h-1.04zM0 527.4h1.04v1.32h-1.04zM5 527.4h1.04v1.32h-1.04zM25 533.1h1.04v1.62h-1.04zM27 535.8h1.04v2.32h-1.04zM17 539.8h1.04v1.92h-1.04zM18 541.6h1.04v1.92h-1.04zM17 543.4h1.04v1.32h-1.04zM19 547.8h1.04v1.32h-1.04z"/>
<path fill="#F6DED2" d="M1 394.8h1.04v1.12h-1.04zM2 394.8h1.04v1.12h-1.04zM5 394.8h1.04v1.12h-1.04zM2 395.8h1.04v1.12h-1.04zM9 396.8h1.04v1.92h-1.04zM8 398.6h1.04v1.62h-1.04zM1 403.4h1.04v1.92h-1.04zM11 403.4h1.04v1.92h-1.04zM23 403.4h1.04v1.92h-1.04zM14 406.2h1.04v1.62h-1.04zM11 407.7h1.04v1.12h-1.04zM18 407.7h1.04v1.12h-1.04zM0 410.2h1.04v2.32h-1.04zM12 412.4h1.04v1.62h-1.04zM10 413.9h1.04v1.12h-1.04zM30 413.9h1.04v1.12h-1.04zM10 414.9h1.04v1.62h-1.04zM12 414.9h1.04v1.62h-1.04zM25 414.9h1.04v1.62h-1.04zM9 416.4h1.04v1.12h-1.04zM13 419.2h1.04v2.32h-1.04zM22 419.2h1.04v2.32h-1.04zM30 419.2h1.04v2.32h-1.04zM9 423.6h1.04v1.92h-1.04zM13 423.6h1.04v1.92h-1.04zM17 423.6h1.04v1.92h-1.04zM6 425.4h1.04v2.32h-1.04zM11 425.4h1.04v2.32h-1.04zM0 427.6h1.04v1.32h-1.04zM12 429.8h1.04v1.62h-1.04zM14 429.8h1.04v1.62h-1.04zM9 436.8h1.04v1.32h-1.04zM28 436.8h1.04v1.32h-1.04zM1 438.0h1.04v2.32h-1.04zM5 438.0h1.04v2.32h-1.04zM13 438.0h1.04v2.32h-1.04zM26 438.0h1.04v2.32h-1.04zM13 440.2h1.04v1.12h-1.04zM19 440.2h1.04v1.12h-1.04zM4 441.2h1.04v1.32h-1.04zM2 444.2h1.04v1.32h-1.04zM28 444.2h1.04v1.32h-1.04zM3 448.7h1.04v1.62h-1.04zM22 448.7h1.04v1.62h-1.04zM4 450.2h1.04v2.32h-1.04zM22 452.4h1.04v2.32h-1.04zM17 454.6h1.04v2.32h-1.04zM30 454.6h1.04v2.32h-1.04zM7 456.8h1.04v1.62h-1.04zM15 456.8h1.04v1.62h-1.04zM2 458.3h1.04v2.32h-1.04zM14 458.3h1.04v2.32h-1.04zM17 458.3h1.04v2.32h-1.04zM2 460.5h1.04v2.32h-1.04zM15 460.5h1.04v2.32h-1.04zM0 462.7h1.04v1.12h-1.04zM1 462.7h1.04v1.12h-1.04zM3 462.7h1.04v1.12h-1.04zM4 462.7h1.04v1.12h-1.04zM18 462.7h1.04v1.12h-1.04zM1 463.7h1.04v1.32h-1.04zM1 464.9h1.04v1.32h-1.04zM31 464.9h1.04v1.32h-1.04zM2 466.1h1.04v1.62h-1.04zM12 466.1h1.04v1.62h-1.04zM14 466.1h1.04v1.62h-1.04zM27 466.1h1.04v1.62h-1.04zM7 467.6h1.04v2.32h-1.04zM9 467.6h1.04v2.32h-1.04zM19 467.6h1.04v2.32h-1.04zM8 469.8h1.04v1.62h-1.04zM9 469.8h1.04v1.62h-1.04zM14 469.8h1.04v1.62h-1.04zM22 469.8h1.04v1.62h-1.04zM11 471.3h1.04v2.32h-1.04zM19 471.3h1.04v2.32h-1.04zM22 473.5h1.04v1.32h-1.04zM28 473.5h1.04v1.32h-1.04zM10 474.7h1.04v2.32h-1.04zM14 474.7h1.04v2.32h-1.04zM8 476.9h1.04v1.62h-1.04zM9 476.9h1.04v1.62h-1.04zM11 476.9h1.04v1.62h-1.04zM20 476.9h1.04v1.62h-1.04zM7 478.4h1.04v1.92h-1.04zM12 478.4h1.04v1.92h-1.04zM8 480.2h1.04v1.32h-1.04zM20 480.2h1.04v1.32h-1.04zM11 481.4h1.04v1.62h-1.04zM14 481.4h1.04v1.62h-1.04zM4 482.9h1.04v2.32h-1.04zM6 482.9h1.04v2.32h-1.04zM11 482.9h1.04v2.32h-1.04zM0 487.3h1.04v2.32h-1.04zM1 487.3h1.04v2.32h-1.04zM10 487.3h1.04v2.32h-1.04zM9 489.5h1.04v2.32h-1.04zM14 489.5h1.04v2.32h-1.04zM23 489.5h1.04v2.32h-1.04zM2 492.7h1.04v1.92h-1.04zM3 492.7h1.04v1.92h-1.04zM8 494.5h1.04v1.62h-1.04zM13 494.5h1.04v1.62h-1.04zM15 496.0h1.04v1.92h-1.04zM7 497.8h1.04v1.32h-1.04zM23 497.8h1.04v1.32h-1.04zM26 497.8h1.04v1.32h-1.04zM8 499.0h1.04v1.12h-1.04zM1 500.0h1.04v1.12h-1.04zM27 500.0h1.04v1.12h-1.04zM15 501.0h1.04v2.32h-1.04zM1 503.2h1.04v2.32h-1.04zM2 503.2h1.04v2.32h-1.04zM15 503.2h1.04v2.32h-1.04zM8 505.4h1.04v1.32h-1.04zM0 506.6h1.04v1.62h-1.04zM5 508.1h1.04v1.32h-1.04zM9 508.1h1.04v1.32h-1.04zM4 509.3h1.04v1.12h-1.04zM5 509.3h1.04v1.12h-1.04zM14 509.3h1.04v1.12h-1.04zM12 510.3h1.04v2.32h-1.04zM5 512.5h1.04v1.92h-1.04zM6 514.3h1.04v1.12h-1.04zM20 514.3h1.04v1.12h-1.04zM22 514.3h1.04v1.12h-1.04zM4 515.3h1.04v1.32h-1.04zM11 516.5h1.04v1.62h-1.04zM19 516.5h1.04v1.62h-1.04zM28 516.5h1.04v1.62h-1.04zM11 518.0h1.04v2.32h-1.04zM13 518.0h1.04v2.32h-1.04zM4 520.2h1.04v2.32h-1.04zM26 520.2h1.04v2.32h-1.04zM29 520.2h1.04v2.32h-1.04zM1 525.4h1.04v1.12h-1.04zM2 526.4h1.04v1.12h-1.04zM3 526.4h1.04v1.12h-1.04zM7 527.4h1.04v1.32h-1.04zM28 527.4h1.04v1.32h-1.04zM0 528.6h1.04v1.62h-1.04zM2 528.6h1.04v1.62h-1.04zM16 528.6h1.04v1.62h-1.04zM21 530.1h1.04v1.32h-1.04zM0 531.3h1.04v1.92h-1.04zM5 531.3h1.04v1.92h-1.04zM17 531.3h1.04v1.92h-1.04zM15 534.6h1.04v1.32h-1.04zM1 538.0h1.04v1.92h-1.04zM0 539.8h1.04v1.92h-1.04zM1 539.8h1.04v1.92h-1.04zM2 543.4h1.04v1.32h-1.04zM26 543.4h1.04v1.32h-1.04zM7 544.6h1.04v2.32h-1.04zM17 544.6h1.04v2.32h-1.04zM30 544.6h1.04v2.32h-1.04zM4 546.8h1.04v1.12h-1.04zM9 547.8h1.04v1.32h-1.04zM11 547.8h1.04v1.32h-1.04zM22 547.8h1.04v1.32h-1.04zM27 547.8h1.04v1.32h-1.04zM12 549.0h1.04v1.12h-1.04zM25 549.0h1.04v1.12h-1.04zM14 550.0h1.04v1.12h-1.04zM17 550.0h1.04v1.12h-1.04zM14 551.0h1.04v2.32h-1.04zM15 551.0h1.04v2.32h-1.04zM16 551.0h1.04v2.32h-1.04zM1 553.2h1.04v0.22h-1.04zM10 553.2h1.04v0.22h-1.04zM2 574.0h1.04v1.62h-1.04zM1 593.6h1.04v1.32h-1.04zM3 615.4h1.04v1.92h-1.04z"/>
<path fill="#F6EAE4" d="M3 394.8h1.04v1.12h-1.04zM16 394.8h1.04v1.12h-1.04zM22 396.8h1.04v1.92h-1.04zM5 400.1h1.04v1.62h-1.04zM22 401.6h1.04v1.92h-1.04zM8 403.4h1.04v1.92h-1.04zM10 403.4h1.04v1.92h-1.04zM1 405.2h1.04v1.12h-1.04zM2 405.2h1.04v1.12h-1.04zM6 405.2h1.04v1.12h-1.04zM26 407.7h1.04v1.12h-1.04zM23 412.4h1.04v1.62h-1.04zM8 413.9h1.04v1.12h-1.04zM15 417.4h1.04v1.92h-1.04zM9 421.4h1.04v2.32h-1.04zM2 423.6h1.04v1.92h-1.04zM12 423.6h1.04v1.92h-1.04zM1 425.4h1.04v2.32h-1.04zM17 425.4h1.04v2.32h-1.04zM2 428.8h1.04v1.12h-1.04zM11 429.8h1.04v1.62h-1.04zM22 429.8h1.04v1.62h-1.04zM11 431.3h1.04v1.62h-1.04zM7 432.8h1.04v1.92h-1.04zM2 436.8h1.04v1.32h-1.04zM26 441.2h1.04v1.32h-1.04zM8 442.4h1.04v1.92h-1.04zM26 444.2h1.04v1.32h-1.04zM30 447.2h1.04v1.62h-1.04zM1 450.2h1.04v2.32h-1.04zM7 452.4h1.04v2.32h-1.04zM25 456.8h1.04v1.62h-1.04zM25 460.5h1.04v2.32h-1.04zM22 462.7h1.04v1.12h-1.04zM25 462.7h1.04v1.12h-1.04zM18 463.7h1.04v1.32h-1.04zM25 463.7h1.04v1.32h-1.04zM18 466.1h1.04v1.62h-1.04zM25 467.6h1.04v2.32h-1.04zM6 469.8h1.04v1.62h-1.04zM18 469.8h1.04v1.62h-1.04zM25 469.8h1.04v1.62h-1.04zM30 469.8h1.04v1.62h-1.04zM14 471.3h1.04v2.32h-1.04zM26 471.3h1.04v2.32h-1.04zM9 473.5h1.04v1.32h-1.04zM5 474.7h1.04v2.32h-1.04zM6 478.4h1.04v1.92h-1.04zM19 478.4h1.04v1.92h-1.04zM3 480.2h1.04v1.32h-1.04zM3 481.4h1.04v1.62h-1.04zM10 481.4h1.04v1.62h-1.04zM3 482.9h1.04v2.32h-1.04zM10 482.9h1.04v2.32h-1.04zM16 482.9h1.04v2.32h-1.04zM10 485.1h1.04v2.32h-1.04zM6 489.5h1.04v2.32h-1.04zM12 489.5h1.04v2.32h-1.04zM5 491.7h1.04v1.12h-1.04zM1 492.7h1.04v1.92h-1.04zM11 494.5h1.04v1.62h-1.04zM0 496.0h1.04v1.92h-1.04zM1 496.0h1.04v1.92h-1.04zM2 496.0h1.04v1.92h-1.04zM27 496.0h1.04v1.92h-1.04zM3 497.8h1.04v1.32h-1.04zM8 497.8h1.04v1.32h-1.04zM14 497.8h1.04v1.32h-1.04zM9 499.0h1.04v1.12h-1.04zM19 499.0h1.04v1.12h-1.04zM7 503.2h1.04v2.32h-1.04zM11 503.2h1.04v2.32h-1.04zM2 505.4h1.04v1.32h-1.04zM22 505.4h1.04v1.32h-1.04zM27 505.4h1.04v1.32h-1.04zM11 512.5h1.04v1.92h-1.04zM23 514.3h1.04v1.12h-1.04zM8 515.3h1.04v1.32h-1.04zM20 516.5h1.04v1.62h-1.04zM26 516.5h1.04v1.62h-1.04zM2 520.2h1.04v2.32h-1.04zM6 520.2h1.04v2.32h-1.04zM13 520.2h1.04v2.32h-1.04zM16 520.2h1.04v2.32h-1.04zM0 523.6h1.04v1.92h-1.04zM2 523.6h1.04v1.92h-1.04zM8 525.4h1.04v1.12h-1.04zM10 526.4h1.04v1.12h-1.04zM13 526.4h1.04v1.12h-1.04zM1 527.4h1.04v1.32h-1.04zM12 528.6h1.04v1.62h-1.04zM21 528.6h1.04v1.62h-1.04zM7 530.1h1.04v1.32h-1.04zM30 530.1h1.04v1.32h-1.04zM2 531.3h1.04v1.92h-1.04zM13 531.3h1.04v1.92h-1.04zM0 533.1h1.04v1.62h-1.04zM16 534.6h1.04v1.32h-1.04zM10 535.8h1.04v2.32h-1.04zM3 538.0h1.04v1.92h-1.04zM8 538.0h1.04v1.92h-1.04zM14 541.6h1.04v1.92h-1.04zM26 541.6h1.04v1.92h-1.04zM11 544.6h1.04v2.32h-1.04zM14 544.6h1.04v2.32h-1.04zM24 544.6h1.04v2.32h-1.04zM3 546.8h1.04v1.12h-1.04zM10 546.8h1.04v1.12h-1.04zM8 547.8h1.04v1.32h-1.04zM8 549.0h1.04v1.12h-1.04zM0 550.0h1.04v1.12h-1.04zM25 550.0h1.04v1.12h-1.04zM26 550.0h1.04v1.12h-1.04zM0 551.0h1.04v2.32h-1.04zM9 551.0h1.04v2.32h-1.04zM13 553.2h1.04v0.22h-1.04zM4 555.4h1.04v1.62h-1.04zM1 578.5h1.04v1.12h-1.04zM5 579.5h1.04v1.92h-1.04zM10 581.3h1.04v2.32h-1.04zM7 583.5h1.04v1.32h-1.04zM27 583.5h1.04v1.32h-1.04zM3 584.7h1.04v2.32h-1.04zM19 584.7h1.04v2.32h-1.04zM3 593.6h1.04v1.32h-1.04zM14 593.6h1.04v1.32h-1.04zM2 594.8h1.04v1.12h-1.04zM5 596.8h1.04v1.32h-1.04zM0 598.0h1.04v2.32h-1.04zM12 598.0h1.04v2.32h-1.04zM19 600.2h1.04v1.32h-1.04zM19 601.4h1.04v1.62h-1.04zM4 602.9h1.04v1.92h-1.04zM27 602.9h1.04v1.92h-1.04zM29 604.7h1.04v1.12h-1.04zM2 607.2h1.04v1.62h-1.04zM7 607.2h1.04v1.62h-1.04zM1 610.5h1.04v1.32h-1.04zM1 611.7h1.04v1.62h-1.04zM28 617.2h1.04v1.32h-1.04zM12 620.2h1.04v1.62h-1.04zM13 620.2h1.04v1.62h-1.04zM2 623.9h1.04v0.62h-1.04zM4 623.9h1.04v0.62h-1.04z"/>
<path fill="#DE9078" d="M4 394.8h1.04v1.12h-1.04zM29 394.8h1.04v1.12h-1.04zM9 395.8h1.04v1.12h-1.04zM21 396.8h1.04v1.92h-1.04zM12 398.6h1.04v1.62h-1.04zM24 398.6h1.04v1.62h-1.04zM23 401.6h1.04v1.92h-1.04zM4 403.4h1.04v1.92h-1.04zM20 417.4h1.04v1.92h-1.04zM25 417.4h1.04v1.92h-1.04zM20 421.4h1.04v2.32h-1.04zM21 421.4h1.04v2.32h-1.04zM22 423.6h1.04v1.92h-1.04zM21 425.4h1.04v2.32h-1.04zM16 427.6h1.04v1.32h-1.04zM29 431.3h1.04v1.62h-1.04zM22 434.6h1.04v2.32h-1.04zM16 438.0h1.04v2.32h-1.04zM21 438.0h1.04v2.32h-1.04zM22 440.2h1.04v1.12h-1.04zM22 442.4h1.04v1.92h-1.04zM24 447.2h1.04v1.62h-1.04zM19 448.7h1.04v1.62h-1.04zM16 452.4h1.04v2.32h-1.04zM27 452.4h1.04v2.32h-1.04zM29 463.7h1.04v1.32h-1.04zM13 464.9h1.04v1.32h-1.04zM21 469.8h1.04v1.62h-1.04zM8 473.5h1.04v1.32h-1.04zM24 476.9h1.04v1.62h-1.04zM27 485.1h1.04v2.32h-1.04zM30 487.3h1.04v2.32h-1.04zM16 496.0h1.04v1.92h-1.04zM30 497.8h1.04v1.32h-1.04zM12 500.0h1.04v1.12h-1.04zM30 500.0h1.04v1.12h-1.04zM13 506.6h1.04v1.62h-1.04zM27 506.6h1.04v1.62h-1.04zM30 506.6h1.04v1.62h-1.04zM18 509.3h1.04v1.12h-1.04zM24 516.5h1.04v1.62h-1.04zM18 520.2h1.04v2.32h-1.04zM31 530.1h1.04v1.32h-1.04zM4 533.1h1.04v1.62h-1.04zM18 533.1h1.04v1.62h-1.04zM18 535.8h1.04v2.32h-1.04zM28 538.0h1.04v1.92h-1.04zM16 539.8h1.04v1.92h-1.04zM22 539.8h1.04v1.92h-1.04zM19 541.6h1.04v1.92h-1.04zM23 541.6h1.04v1.92h-1.04zM31 543.4h1.04v1.32h-1.04zM21 550.0h1.04v1.12h-1.04zM31 550.0h1.04v1.12h-1.04z"/>
<path fill="#EAB49C" d="M6 394.8h1.04v1.12h-1.04zM13 394.8h1.04v1.12h-1.04zM7 395.8h1.04v1.12h-1.04zM13 395.8h1.04v1.12h-1.04zM18 396.8h1.04v1.92h-1.04zM21 398.6h1.04v1.62h-1.04zM26 398.6h1.04v1.62h-1.04zM24 400.1h1.04v1.62h-1.04zM0 401.6h1.04v1.92h-1.04zM13 401.6h1.04v1.92h-1.04zM7 403.4h1.04v1.92h-1.04zM17 403.4h1.04v1.92h-1.04zM29 403.4h1.04v1.92h-1.04zM12 405.2h1.04v1.12h-1.04zM7 406.2h1.04v1.62h-1.04zM22 406.2h1.04v1.62h-1.04zM13 408.7h1.04v1.62h-1.04zM19 408.7h1.04v1.62h-1.04zM30 408.7h1.04v1.62h-1.04zM22 410.2h1.04v2.32h-1.04zM9 413.9h1.04v1.12h-1.04zM7 414.9h1.04v1.62h-1.04zM31 414.9h1.04v1.62h-1.04zM15 416.4h1.04v1.12h-1.04zM18 416.4h1.04v1.12h-1.04zM25 416.4h1.04v1.12h-1.04zM11 417.4h1.04v1.92h-1.04zM19 417.4h1.04v1.92h-1.04zM23 417.4h1.04v1.92h-1.04zM4 419.2h1.04v2.32h-1.04zM6 421.4h1.04v2.32h-1.04zM25 421.4h1.04v2.32h-1.04zM4 423.6h1.04v1.92h-1.04zM28 423.6h1.04v1.92h-1.04zM4 425.4h1.04v2.32h-1.04zM15 427.6h1.04v1.32h-1.04zM23 427.6h1.04v1.32h-1.04zM0 428.8h1.04v1.12h-1.04zM5 434.6h1.04v2.32h-1.04zM22 436.8h1.04v1.32h-1.04zM15 440.2h1.04v1.12h-1.04zM14 441.2h1.04v1.32h-1.04zM10 444.2h1.04v1.32h-1.04zM4 445.4h1.04v1.92h-1.04zM31 445.4h1.04v1.92h-1.04zM17 447.2h1.04v1.62h-1.04zM23 454.6h1.04v2.32h-1.04zM17 456.8h1.04v1.62h-1.04zM23 458.3h1.04v2.32h-1.04zM19 460.5h1.04v2.32h-1.04zM20 460.5h1.04v2.32h-1.04zM13 462.7h1.04v1.12h-1.04zM17 464.9h1.04v1.32h-1.04zM24 464.9h1.04v1.32h-1.04zM29 464.9h1.04v1.32h-1.04zM14 467.6h1.04v2.32h-1.04zM27 467.6h1.04v2.32h-1.04zM10 473.5h1.04v1.32h-1.04zM12 474.7h1.04v2.32h-1.04zM13 474.7h1.04v2.32h-1.04zM31 474.7h1.04v2.32h-1.04zM29 482.9h1.04v2.32h-1.04zM17 485.1h1.04v2.32h-1.04zM23 487.3h1.04v2.32h-1.04zM22 492.7h1.04v1.92h-1.04zM26 492.7h1.04v1.92h-1.04zM27 494.5h1.04v1.62h-1.04zM23 496.0h1.04v1.92h-1.04zM24 496.0h1.04v1.92h-1.04zM30 496.0h1.04v1.92h-1.04zM25 497.8h1.04v1.32h-1.04zM13 500.0h1.04v1.12h-1.04zM22 500.0h1.04v1.12h-1.04zM9 503.2h1.04v2.32h-1.04zM13 503.2h1.04v2.32h-1.04zM18 505.4h1.04v1.32h-1.04zM12 509.3h1.04v1.12h-1.04zM16 509.3h1.04v1.12h-1.04zM25 510.3h1.04v2.32h-1.04zM25 512.5h1.04v1.92h-1.04zM19 514.3h1.04v1.12h-1.04zM22 516.5h1.04v1.62h-1.04zM14 518.0h1.04v2.32h-1.04zM28 518.0h1.04v2.32h-1.04zM7 522.4h1.04v1.32h-1.04zM13 522.4h1.04v1.32h-1.04zM14 523.6h1.04v1.92h-1.04zM0 525.4h1.04v1.12h-1.04zM12 525.4h1.04v1.12h-1.04zM16 525.4h1.04v1.12h-1.04zM20 527.4h1.04v1.32h-1.04zM23 527.4h1.04v1.32h-1.04zM14 528.6h1.04v1.62h-1.04zM21 533.1h1.04v1.62h-1.04zM27 533.1h1.04v1.62h-1.04zM28 533.1h1.04v1.62h-1.04zM12 534.6h1.04v1.32h-1.04zM20 534.6h1.04v1.32h-1.04zM5 535.8h1.04v2.32h-1.04zM8 535.8h1.04v2.32h-1.04zM12 538.0h1.04v1.92h-1.04zM20 543.4h1.04v1.32h-1.04zM24 543.4h1.04v1.32h-1.04zM13 546.8h1.04v1.12h-1.04zM21 549.0h1.04v1.12h-1.04zM12 550.0h1.04v1.12h-1.04zM19 551.0h1.04v2.32h-1.04zM22 551.0h1.04v2.32h-1.04z"/>
<path fill="#F6D2C6" d="M7 394.8h1.04v1.12h-1.04zM12 395.8h1.04v1.12h-1.04zM10 401.6h1.04v1.92h-1.04zM28 405.2h1.04v1.12h-1.04zM30 405.2h1.04v1.12h-1.04zM0 406.2h1.04v1.62h-1.04zM15 407.7h1.04v1.12h-1.04zM13 414.9h1.04v1.62h-1.04zM10 417.4h1.04v1.92h-1.04zM28 417.4h1.04v1.92h-1.04zM22 425.4h1.04v2.32h-1.04zM7 428.8h1.04v1.12h-1.04zM8 428.8h1.04v1.12h-1.04zM12 428.8h1.04v1.12h-1.04zM17 428.8h1.04v1.12h-1.04zM18 429.8h1.04v1.62h-1.04zM8 431.3h1.04v1.62h-1.04zM22 431.3h1.04v1.62h-1.04zM7 436.8h1.04v1.32h-1.04zM2 438.0h1.04v2.32h-1.04zM8 440.2h1.04v1.12h-1.04zM7 441.2h1.04v1.32h-1.04zM14 450.2h1.04v2.32h-1.04zM6 452.4h1.04v2.32h-1.04zM0 458.3h1.04v2.32h-1.04zM26 458.3h1.04v2.32h-1.04zM4 460.5h1.04v2.32h-1.04zM26 460.5h1.04v2.32h-1.04zM29 460.5h1.04v2.32h-1.04zM6 464.9h1.04v1.32h-1.04zM16 464.9h1.04v1.32h-1.04zM17 469.8h1.04v1.62h-1.04zM4 474.7h1.04v2.32h-1.04zM17 474.7h1.04v2.32h-1.04zM22 474.7h1.04v2.32h-1.04zM5 476.9h1.04v1.62h-1.04zM14 476.9h1.04v1.62h-1.04zM31 476.9h1.04v1.62h-1.04zM8 478.4h1.04v1.92h-1.04zM5 480.2h1.04v1.32h-1.04zM19 481.4h1.04v1.62h-1.04zM1 482.9h1.04v2.32h-1.04zM19 482.9h1.04v2.32h-1.04zM14 485.1h1.04v2.32h-1.04zM24 487.3h1.04v2.32h-1.04zM25 489.5h1.04v2.32h-1.04zM25 492.7h1.04v1.92h-1.04zM23 494.5h1.04v1.62h-1.04zM12 496.0h1.04v1.92h-1.04zM19 497.8h1.04v1.32h-1.04zM7 500.0h1.04v1.12h-1.04zM12 501.0h1.04v2.32h-1.04zM14 505.4h1.04v1.32h-1.04zM10 508.1h1.04v1.32h-1.04zM16 508.1h1.04v1.32h-1.04zM13 510.3h1.04v2.32h-1.04zM22 510.3h1.04v2.32h-1.04zM7 512.5h1.04v1.92h-1.04zM15 514.3h1.04v1.12h-1.04zM21 520.2h1.04v2.32h-1.04zM9 522.4h1.04v1.32h-1.04zM29 525.4h1.04v1.12h-1.04zM0 526.4h1.04v1.12h-1.04zM23 526.4h1.04v1.12h-1.04zM4 527.4h1.04v1.32h-1.04zM8 527.4h1.04v1.32h-1.04zM8 528.6h1.04v1.62h-1.04zM12 530.1h1.04v1.32h-1.04zM8 531.3h1.04v1.92h-1.04zM11 531.3h1.04v1.92h-1.04zM24 531.3h1.04v1.92h-1.04zM3 535.8h1.04v2.32h-1.04zM15 538.0h1.04v1.92h-1.04zM12 539.8h1.04v1.92h-1.04zM4 544.6h1.04v2.32h-1.04zM19 544.6h1.04v2.32h-1.04zM7 546.8h1.04v1.12h-1.04zM4 547.8h1.04v1.32h-1.04zM7 547.8h1.04v1.32h-1.04zM18 547.8h1.04v1.32h-1.04zM20 547.8h1.04v1.32h-1.04zM11 549.0h1.04v1.12h-1.04zM24 549.0h1.04v1.12h-1.04zM7 551.0h1.04v2.32h-1.04zM19 602.9h1.04v1.92h-1.04zM3 617.2h1.04v1.32h-1.04zM3 622.7h1.04v1.32h-1.04z"/>
<path fill="#F0C6B4" d="M8 394.8h1.04v1.12h-1.04zM11 396.8h1.04v1.92h-1.04zM13 396.8h1.04v1.92h-1.04zM16 396.8h1.04v1.92h-1.04zM0 398.6h1.04v1.62h-1.04zM3 398.6h1.04v1.62h-1.04zM8 400.1h1.04v1.62h-1.04zM27 400.1h1.04v1.62h-1.04zM12 403.4h1.04v1.92h-1.04zM25 405.2h1.04v1.12h-1.04zM23 406.2h1.04v1.62h-1.04zM24 406.2h1.04v1.62h-1.04zM13 407.7h1.04v1.12h-1.04zM11 408.7h1.04v1.62h-1.04zM25 408.7h1.04v1.62h-1.04zM20 412.4h1.04v1.62h-1.04zM15 413.9h1.04v1.12h-1.04zM24 413.9h1.04v1.12h-1.04zM28 414.9h1.04v1.62h-1.04zM30 414.9h1.04v1.62h-1.04zM6 417.4h1.04v1.92h-1.04zM22 417.4h1.04v1.92h-1.04zM7 419.2h1.04v2.32h-1.04zM2 421.4h1.04v2.32h-1.04zM26 421.4h1.04v2.32h-1.04zM0 425.4h1.04v2.32h-1.04zM16 425.4h1.04v2.32h-1.04zM24 425.4h1.04v2.32h-1.04zM26 425.4h1.04v2.32h-1.04zM17 427.6h1.04v1.32h-1.04zM16 428.8h1.04v1.12h-1.04zM22 428.8h1.04v1.12h-1.04zM16 429.8h1.04v1.62h-1.04zM2 431.3h1.04v1.62h-1.04zM6 432.8h1.04v1.92h-1.04zM10 436.8h1.04v1.32h-1.04zM30 436.8h1.04v1.32h-1.04zM9 440.2h1.04v1.12h-1.04zM10 447.2h1.04v1.62h-1.04zM15 450.2h1.04v2.32h-1.04zM15 452.4h1.04v2.32h-1.04zM1 456.8h1.04v1.62h-1.04zM18 456.8h1.04v1.62h-1.04zM19 456.8h1.04v1.62h-1.04zM21 458.3h1.04v2.32h-1.04zM11 460.5h1.04v2.32h-1.04zM7 462.7h1.04v1.12h-1.04zM8 462.7h1.04v1.12h-1.04zM12 463.7h1.04v1.32h-1.04zM14 463.7h1.04v1.32h-1.04zM19 463.7h1.04v1.32h-1.04zM22 464.9h1.04v1.32h-1.04zM4 466.1h1.04v1.62h-1.04zM0 467.6h1.04v2.32h-1.04zM12 467.6h1.04v2.32h-1.04zM17 467.6h1.04v2.32h-1.04zM20 471.3h1.04v2.32h-1.04zM1 473.5h1.04v1.32h-1.04zM14 473.5h1.04v1.32h-1.04zM28 474.7h1.04v2.32h-1.04zM15 476.9h1.04v1.62h-1.04zM10 478.4h1.04v1.92h-1.04zM6 480.2h1.04v1.32h-1.04zM26 480.2h1.04v1.32h-1.04zM15 481.4h1.04v1.62h-1.04zM29 481.4h1.04v1.62h-1.04zM13 485.1h1.04v2.32h-1.04zM4 487.3h1.04v2.32h-1.04zM18 489.5h1.04v2.32h-1.04zM18 492.7h1.04v1.92h-1.04zM23 492.7h1.04v1.92h-1.04zM20 494.5h1.04v1.62h-1.04zM11 496.0h1.04v1.92h-1.04zM24 497.8h1.04v1.32h-1.04zM17 499.0h1.04v1.12h-1.04zM24 499.0h1.04v1.12h-1.04zM30 499.0h1.04v1.12h-1.04zM4 500.0h1.04v1.12h-1.04zM24 501.0h1.04v2.32h-1.04zM4 503.2h1.04v2.32h-1.04zM27 503.2h1.04v2.32h-1.04zM0 505.4h1.04v1.32h-1.04zM1 505.4h1.04v1.32h-1.04zM4 505.4h1.04v1.32h-1.04zM9 505.4h1.04v1.32h-1.04zM14 506.6h1.04v1.62h-1.04zM20 508.1h1.04v1.32h-1.04zM22 508.1h1.04v1.32h-1.04zM30 509.3h1.04v1.12h-1.04zM23 512.5h1.04v1.92h-1.04zM16 514.3h1.04v1.12h-1.04zM26 514.3h1.04v1.12h-1.04zM20 515.3h1.04v1.32h-1.04zM22 515.3h1.04v1.32h-1.04zM10 516.5h1.04v1.62h-1.04zM18 518.0h1.04v2.32h-1.04zM11 520.2h1.04v2.32h-1.04zM14 520.2h1.04v2.32h-1.04zM3 523.6h1.04v1.92h-1.04zM9 523.6h1.04v1.92h-1.04zM10 523.6h1.04v1.92h-1.04zM23 523.6h1.04v1.92h-1.04zM10 525.4h1.04v1.12h-1.04zM14 525.4h1.04v1.12h-1.04zM9 526.4h1.04v1.12h-1.04zM14 527.4h1.04v1.32h-1.04zM24 527.4h1.04v1.32h-1.04zM1 528.6h1.04v1.62h-1.04zM16 531.3h1.04v1.92h-1.04zM0 534.6h1.04v1.32h-1.04zM4 534.6h1.04v1.32h-1.04zM17 534.6h1.04v1.32h-1.04zM25 534.6h1.04v1.32h-1.04zM14 535.8h1.04v2.32h-1.04zM25 535.8h1.04v2.32h-1.04zM25 538.0h1.04v1.92h-1.04zM8 539.8h1.04v1.92h-1.04zM9 543.4h1.04v1.32h-1.04zM19 543.4h1.04v1.32h-1.04zM21 543.4h1.04v1.32h-1.04zM15 550.0h1.04v1.12h-1.04zM1 551.0h1.04v2.32h-1.04zM11 551.0h1.04v2.32h-1.04zM24 551.0h1.04v2.32h-1.04zM31 551.0h1.04v2.32h-1.04z"/>
<path fill="#EAA28A" d="M9 394.8h1.04v1.12h-1.04zM23 394.8h1.04v1.12h-1.04zM10 395.8h1.04v1.12h-1.04zM30 395.8h1.04v1.12h-1.04zM4 396.8h1.04v1.92h-1.04zM26 396.8h1.04v1.92h-1.04zM23 398.6h1.04v1.62h-1.04zM19 400.1h1.04v1.62h-1.04zM24 401.6h1.04v1.92h-1.04zM27 401.6h1.04v1.92h-1.04zM21 403.4h1.04v1.92h-1.04zM16 406.2h1.04v1.62h-1.04zM21 407.7h1.04v1.12h-1.04zM26 412.4h1.04v1.62h-1.04zM29 412.4h1.04v1.62h-1.04zM12 416.4h1.04v1.12h-1.04zM24 417.4h1.04v1.92h-1.04zM9 427.6h1.04v1.32h-1.04zM4 428.8h1.04v1.12h-1.04zM10 428.8h1.04v1.12h-1.04zM31 429.8h1.04v1.62h-1.04zM18 432.8h1.04v1.92h-1.04zM25 432.8h1.04v1.92h-1.04zM16 434.6h1.04v2.32h-1.04zM20 436.8h1.04v1.32h-1.04zM17 440.2h1.04v1.12h-1.04zM23 441.2h1.04v1.32h-1.04zM4 442.4h1.04v1.92h-1.04zM24 445.4h1.04v1.92h-1.04zM29 445.4h1.04v1.92h-1.04zM18 447.2h1.04v1.62h-1.04zM4 448.7h1.04v1.62h-1.04zM23 448.7h1.04v1.62h-1.04zM30 448.7h1.04v1.62h-1.04zM13 452.4h1.04v2.32h-1.04zM28 452.4h1.04v2.32h-1.04zM31 454.6h1.04v2.32h-1.04zM16 456.8h1.04v1.62h-1.04zM16 458.3h1.04v2.32h-1.04zM20 458.3h1.04v2.32h-1.04zM2 463.7h1.04v1.32h-1.04zM20 464.9h1.04v1.32h-1.04zM26 466.1h1.04v1.62h-1.04zM29 471.3h1.04v2.32h-1.04zM22 478.4h1.04v1.92h-1.04zM29 478.4h1.04v1.92h-1.04zM13 481.4h1.04v1.62h-1.04zM22 487.3h1.04v2.32h-1.04zM29 491.7h1.04v1.12h-1.04zM20 492.7h1.04v1.92h-1.04zM22 496.0h1.04v1.92h-1.04zM5 500.0h1.04v1.12h-1.04zM28 500.0h1.04v1.12h-1.04zM18 506.6h1.04v1.62h-1.04zM27 508.1h1.04v1.32h-1.04zM21 516.5h1.04v1.62h-1.04zM29 516.5h1.04v1.62h-1.04zM4 523.6h1.04v1.92h-1.04zM21 527.4h1.04v1.32h-1.04zM4 528.6h1.04v1.62h-1.04zM30 533.1h1.04v1.62h-1.04zM29 535.8h1.04v2.32h-1.04zM20 538.0h1.04v1.92h-1.04zM30 541.6h1.04v1.92h-1.04zM23 543.4h1.04v1.32h-1.04zM25 546.8h1.04v1.12h-1.04zM28 551.0h1.04v2.32h-1.04z"/>
<path fill="#E4A284" d="M10 394.8h1.04v1.12h-1.04zM27 396.8h1.04v1.92h-1.04zM29 396.8h1.04v1.92h-1.04zM27 407.7h1.04v1.12h-1.04zM31 410.2h1.04v2.32h-1.04zM13 413.9h1.04v1.12h-1.04zM22 413.9h1.04v1.12h-1.04zM20 414.9h1.04v1.62h-1.04zM19 423.6h1.04v1.92h-1.04zM21 428.8h1.04v1.12h-1.04zM27 431.3h1.04v1.62h-1.04zM20 441.2h1.04v1.32h-1.04zM9 445.4h1.04v1.92h-1.04zM13 445.4h1.04v1.92h-1.04zM8 458.3h1.04v2.32h-1.04zM10 462.7h1.04v1.12h-1.04zM4 464.9h1.04v1.32h-1.04zM5 466.1h1.04v1.62h-1.04zM11 466.1h1.04v1.62h-1.04zM29 473.5h1.04v1.32h-1.04zM21 474.7h1.04v2.32h-1.04zM21 476.9h1.04v1.62h-1.04zM27 481.4h1.04v1.62h-1.04zM13 482.9h1.04v2.32h-1.04zM26 485.1h1.04v2.32h-1.04zM21 489.5h1.04v2.32h-1.04zM4 492.7h1.04v1.92h-1.04zM22 494.5h1.04v1.62h-1.04zM18 499.0h1.04v1.12h-1.04zM28 505.4h1.04v1.32h-1.04zM15 506.6h1.04v1.62h-1.04zM23 506.6h1.04v1.62h-1.04zM21 512.5h1.04v1.92h-1.04zM25 522.4h1.04v1.32h-1.04zM22 531.3h1.04v1.92h-1.04zM13 533.1h1.04v1.62h-1.04zM5 534.6h1.04v1.32h-1.04zM27 534.6h1.04v1.32h-1.04zM13 543.4h1.04v1.32h-1.04zM27 544.6h1.04v2.32h-1.04zM24 553.2h1.04v0.22h-1.04z"/>
<path fill="#F0BAA2" d="M11 394.8h1.04v1.12h-1.04zM19 398.6h1.04v1.62h-1.04zM25 401.6h1.04v1.92h-1.04zM8 405.2h1.04v1.12h-1.04zM10 405.2h1.04v1.12h-1.04zM18 406.2h1.04v1.62h-1.04zM24 407.7h1.04v1.12h-1.04zM12 408.7h1.04v1.62h-1.04zM27 408.7h1.04v1.62h-1.04zM18 410.2h1.04v2.32h-1.04zM30 410.2h1.04v2.32h-1.04zM27 412.4h1.04v1.62h-1.04zM14 417.4h1.04v1.92h-1.04zM27 417.4h1.04v1.92h-1.04zM11 421.4h1.04v2.32h-1.04zM15 421.4h1.04v2.32h-1.04zM23 421.4h1.04v2.32h-1.04zM12 425.4h1.04v2.32h-1.04zM10 427.6h1.04v1.32h-1.04zM6 428.8h1.04v1.12h-1.04zM4 429.8h1.04v1.62h-1.04zM26 431.3h1.04v1.62h-1.04zM16 432.8h1.04v1.92h-1.04zM17 434.6h1.04v2.32h-1.04zM21 434.6h1.04v2.32h-1.04zM30 434.6h1.04v2.32h-1.04zM10 442.4h1.04v1.92h-1.04zM7 444.2h1.04v1.32h-1.04zM16 444.2h1.04v1.32h-1.04zM19 445.4h1.04v1.92h-1.04zM18 454.6h1.04v2.32h-1.04zM19 454.6h1.04v2.32h-1.04zM9 456.8h1.04v1.62h-1.04zM16 463.7h1.04v1.32h-1.04zM27 463.7h1.04v1.32h-1.04zM19 466.1h1.04v1.62h-1.04zM20 467.6h1.04v2.32h-1.04zM22 467.6h1.04v2.32h-1.04zM4 469.8h1.04v1.62h-1.04zM27 471.3h1.04v2.32h-1.04zM9 474.7h1.04v2.32h-1.04zM24 474.7h1.04v2.32h-1.04zM1 476.9h1.04v1.62h-1.04zM28 478.4h1.04v1.92h-1.04zM28 480.2h1.04v1.32h-1.04zM29 480.2h1.04v1.32h-1.04zM4 481.4h1.04v1.62h-1.04zM24 481.4h1.04v1.62h-1.04zM26 482.9h1.04v2.32h-1.04zM30 482.9h1.04v2.32h-1.04zM0 485.1h1.04v2.32h-1.04zM8 489.5h1.04v2.32h-1.04zM16 489.5h1.04v2.32h-1.04zM26 491.7h1.04v1.12h-1.04zM17 494.5h1.04v1.62h-1.04zM22 497.8h1.04v1.32h-1.04zM26 500.0h1.04v1.12h-1.04zM4 501.0h1.04v2.32h-1.04zM17 503.2h1.04v2.32h-1.04zM21 506.6h1.04v1.62h-1.04zM25 508.1h1.04v1.32h-1.04zM30 508.1h1.04v1.32h-1.04zM24 514.3h1.04v1.12h-1.04zM17 518.0h1.04v2.32h-1.04zM20 522.4h1.04v1.32h-1.04zM11 523.6h1.04v1.92h-1.04zM18 523.6h1.04v1.92h-1.04zM19 525.4h1.04v1.12h-1.04zM22 528.6h1.04v1.62h-1.04zM27 531.3h1.04v1.92h-1.04zM11 533.1h1.04v1.62h-1.04zM13 539.8h1.04v1.92h-1.04zM18 539.8h1.04v1.92h-1.04zM22 543.4h1.04v1.32h-1.04zM24 546.8h1.04v1.12h-1.04zM17 547.8h1.04v1.32h-1.04zM30 550.0h1.04v1.12h-1.04z"/>
<path fill="#EAA890" d="M12 394.8h1.04v1.12h-1.04zM19 394.8h1.04v1.12h-1.04zM18 395.8h1.04v1.12h-1.04zM19 396.8h1.04v1.92h-1.04zM24 396.8h1.04v1.92h-1.04zM7 398.6h1.04v1.62h-1.04zM25 400.1h1.04v1.62h-1.04zM30 400.1h1.04v1.62h-1.04zM30 401.6h1.04v1.92h-1.04zM17 406.2h1.04v1.62h-1.04zM28 406.2h1.04v1.62h-1.04zM19 407.7h1.04v1.12h-1.04zM15 408.7h1.04v1.62h-1.04zM11 413.9h1.04v1.12h-1.04zM17 413.9h1.04v1.12h-1.04zM17 414.9h1.04v1.62h-1.04zM28 416.4h1.04v1.12h-1.04zM31 419.2h1.04v2.32h-1.04zM12 421.4h1.04v2.32h-1.04zM27 421.4h1.04v2.32h-1.04zM19 425.4h1.04v2.32h-1.04zM30 425.4h1.04v2.32h-1.04zM7 427.6h1.04v1.32h-1.04zM30 427.6h1.04v1.32h-1.04zM9 432.8h1.04v1.92h-1.04zM23 432.8h1.04v1.92h-1.04zM30 432.8h1.04v1.92h-1.04zM6 434.6h1.04v2.32h-1.04zM14 434.6h1.04v2.32h-1.04zM24 434.6h1.04v2.32h-1.04zM15 436.8h1.04v1.32h-1.04zM27 438.0h1.04v2.32h-1.04zM30 438.0h1.04v2.32h-1.04zM5 440.2h1.04v1.12h-1.04zM18 441.2h1.04v1.32h-1.04zM29 441.2h1.04v1.32h-1.04zM30 444.2h1.04v1.32h-1.04zM22 445.4h1.04v1.92h-1.04zM20 447.2h1.04v1.62h-1.04zM11 448.7h1.04v1.62h-1.04zM10 450.2h1.04v2.32h-1.04zM17 450.2h1.04v2.32h-1.04zM30 450.2h1.04v2.32h-1.04zM18 452.4h1.04v2.32h-1.04zM21 452.4h1.04v2.32h-1.04zM6 460.5h1.04v2.32h-1.04zM28 460.5h1.04v2.32h-1.04zM11 463.7h1.04v1.32h-1.04zM15 463.7h1.04v1.32h-1.04zM2 464.9h1.04v1.32h-1.04zM13 466.1h1.04v1.62h-1.04zM16 466.1h1.04v1.62h-1.04zM8 467.6h1.04v2.32h-1.04zM28 467.6h1.04v2.32h-1.04zM28 469.8h1.04v1.62h-1.04zM4 473.5h1.04v1.32h-1.04zM25 478.4h1.04v1.92h-1.04zM25 485.1h1.04v2.32h-1.04zM29 485.1h1.04v2.32h-1.04zM16 487.3h1.04v2.32h-1.04zM17 487.3h1.04v2.32h-1.04zM29 489.5h1.04v2.32h-1.04zM24 492.7h1.04v1.92h-1.04zM30 492.7h1.04v1.92h-1.04zM21 494.5h1.04v1.62h-1.04zM24 494.5h1.04v1.62h-1.04zM26 496.0h1.04v1.92h-1.04zM12 497.8h1.04v1.32h-1.04zM21 497.8h1.04v1.32h-1.04zM12 499.0h1.04v1.12h-1.04zM18 500.0h1.04v1.12h-1.04zM17 501.0h1.04v2.32h-1.04zM30 501.0h1.04v2.32h-1.04zM12 503.2h1.04v2.32h-1.04zM9 506.6h1.04v1.62h-1.04zM17 506.6h1.04v1.62h-1.04zM26 506.6h1.04v1.62h-1.04zM28 506.6h1.04v1.62h-1.04zM21 509.3h1.04v1.12h-1.04zM23 509.3h1.04v1.12h-1.04zM20 512.5h1.04v1.92h-1.04zM18 514.3h1.04v1.12h-1.04zM31 514.3h1.04v1.12h-1.04zM7 515.3h1.04v1.32h-1.04zM15 518.0h1.04v2.32h-1.04zM24 518.0h1.04v2.32h-1.04zM21 525.4h1.04v1.12h-1.04zM26 525.4h1.04v1.12h-1.04zM27 525.4h1.04v1.12h-1.04zM11 526.4h1.04v1.12h-1.04zM24 528.6h1.04v1.62h-1.04zM6 530.1h1.04v1.32h-1.04zM19 531.3h1.04v1.92h-1.04zM26 531.3h1.04v1.92h-1.04zM11 534.6h1.04v1.32h-1.04zM21 534.6h1.04v1.32h-1.04zM9 535.8h1.04v2.32h-1.04zM23 538.0h1.04v1.92h-1.04zM18 544.6h1.04v2.32h-1.04zM22 544.6h1.04v2.32h-1.04zM24 547.8h1.04v1.32h-1.04zM29 553.2h1.04v0.22h-1.04z"/>
<path fill="#F0C0AE" d="M14 394.8h1.04v1.12h-1.04zM15 394.8h1.04v1.12h-1.04zM25 395.8h1.04v1.12h-1.04zM28 395.8h1.04v1.12h-1.04zM11 400.1h1.04v1.62h-1.04zM22 400.1h1.04v1.62h-1.04zM12 401.6h1.04v1.92h-1.04zM13 403.4h1.04v1.92h-1.04zM14 405.2h1.04v1.12h-1.04zM26 405.2h1.04v1.12h-1.04zM15 406.2h1.04v1.62h-1.04zM27 406.2h1.04v1.62h-1.04zM31 406.2h1.04v1.62h-1.04zM20 407.7h1.04v1.12h-1.04zM30 407.7h1.04v1.12h-1.04zM28 408.7h1.04v1.62h-1.04zM10 410.2h1.04v2.32h-1.04zM5 412.4h1.04v1.62h-1.04zM5 413.9h1.04v1.12h-1.04zM31 413.9h1.04v1.12h-1.04zM22 416.4h1.04v1.12h-1.04zM24 416.4h1.04v1.12h-1.04zM30 416.4h1.04v1.12h-1.04zM19 419.2h1.04v2.32h-1.04zM16 421.4h1.04v2.32h-1.04zM8 423.6h1.04v1.92h-1.04zM5 425.4h1.04v2.32h-1.04zM5 427.6h1.04v1.32h-1.04zM24 427.6h1.04v1.32h-1.04zM23 428.8h1.04v1.12h-1.04zM5 431.3h1.04v1.62h-1.04zM7 431.3h1.04v1.62h-1.04zM12 432.8h1.04v1.92h-1.04zM15 432.8h1.04v1.92h-1.04zM11 436.8h1.04v1.32h-1.04zM24 436.8h1.04v1.32h-1.04zM18 438.0h1.04v2.32h-1.04zM4 444.2h1.04v1.32h-1.04zM8 444.2h1.04v1.32h-1.04zM14 444.2h1.04v1.32h-1.04zM30 445.4h1.04v1.92h-1.04zM7 450.2h1.04v2.32h-1.04zM8 450.2h1.04v2.32h-1.04zM24 450.2h1.04v2.32h-1.04zM14 452.4h1.04v2.32h-1.04zM29 452.4h1.04v2.32h-1.04zM8 456.8h1.04v1.62h-1.04zM7 458.3h1.04v2.32h-1.04zM27 460.5h1.04v2.32h-1.04zM8 463.7h1.04v1.32h-1.04zM9 464.9h1.04v1.32h-1.04zM19 464.9h1.04v1.32h-1.04zM0 466.1h1.04v1.62h-1.04zM31 466.1h1.04v1.62h-1.04zM10 469.8h1.04v1.62h-1.04zM8 471.3h1.04v2.32h-1.04zM13 473.5h1.04v1.32h-1.04zM8 474.7h1.04v2.32h-1.04zM15 478.4h1.04v1.92h-1.04zM9 480.2h1.04v1.32h-1.04zM22 480.2h1.04v1.32h-1.04zM8 482.9h1.04v2.32h-1.04zM8 485.1h1.04v2.32h-1.04zM23 485.1h1.04v2.32h-1.04zM6 487.3h1.04v2.32h-1.04zM9 487.3h1.04v2.32h-1.04zM2 489.5h1.04v2.32h-1.04zM24 489.5h1.04v2.32h-1.04zM13 491.7h1.04v1.12h-1.04zM20 491.7h1.04v1.12h-1.04zM30 491.7h1.04v1.12h-1.04zM19 496.0h1.04v1.92h-1.04zM25 499.0h1.04v1.12h-1.04zM25 501.0h1.04v2.32h-1.04zM30 503.2h1.04v2.32h-1.04zM16 505.4h1.04v1.32h-1.04zM24 505.4h1.04v1.32h-1.04zM30 505.4h1.04v1.32h-1.04zM16 506.6h1.04v1.62h-1.04zM25 506.6h1.04v1.62h-1.04zM14 508.1h1.04v1.32h-1.04zM18 508.1h1.04v1.32h-1.04zM3 510.3h1.04v2.32h-1.04zM8 510.3h1.04v2.32h-1.04zM16 512.5h1.04v1.92h-1.04zM24 512.5h1.04v1.92h-1.04zM21 514.3h1.04v1.12h-1.04zM16 516.5h1.04v1.62h-1.04zM10 518.0h1.04v2.32h-1.04zM30 518.0h1.04v2.32h-1.04zM7 520.2h1.04v2.32h-1.04zM22 520.2h1.04v2.32h-1.04zM24 520.2h1.04v2.32h-1.04zM8 522.4h1.04v1.32h-1.04zM25 523.6h1.04v1.92h-1.04zM4 525.4h1.04v1.12h-1.04zM17 525.4h1.04v1.12h-1.04zM22 526.4h1.04v1.12h-1.04zM29 526.4h1.04v1.12h-1.04zM17 527.4h1.04v1.32h-1.04zM25 528.6h1.04v1.62h-1.04zM15 533.1h1.04v1.62h-1.04zM14 534.6h1.04v1.32h-1.04zM23 534.6h1.04v1.32h-1.04zM11 535.8h1.04v2.32h-1.04zM4 539.8h1.04v1.92h-1.04zM19 539.8h1.04v1.92h-1.04zM4 541.6h1.04v1.92h-1.04zM9 541.6h1.04v1.92h-1.04zM12 541.6h1.04v1.92h-1.04zM27 543.4h1.04v1.32h-1.04zM13 544.6h1.04v2.32h-1.04zM20 544.6h1.04v2.32h-1.04zM5 546.8h1.04v1.12h-1.04zM20 549.0h1.04v1.12h-1.04zM22 549.0h1.04v1.12h-1.04zM13 550.0h1.04v1.12h-1.04zM29 550.0h1.04v1.12h-1.04zM8 551.0h1.04v2.32h-1.04zM20 551.0h1.04v2.32h-1.04zM5 553.2h1.04v0.22h-1.04zM11 553.2h1.04v0.22h-1.04zM28 553.2h1.04v0.22h-1.04z"/>
<path fill="#E49678" d="M17 394.8h1.04v1.12h-1.04zM26 394.8h1.04v1.12h-1.04zM9 405.2h1.04v1.12h-1.04zM19 405.2h1.04v1.12h-1.04zM16 410.2h1.04v2.32h-1.04zM12 413.9h1.04v1.12h-1.04zM4 414.9h1.04v1.62h-1.04zM17 432.8h1.04v1.92h-1.04zM27 440.2h1.04v1.12h-1.04zM27 445.4h1.04v1.92h-1.04zM31 448.7h1.04v1.62h-1.04zM20 450.2h1.04v2.32h-1.04zM1 458.3h1.04v2.32h-1.04zM19 462.7h1.04v1.12h-1.04zM28 466.1h1.04v1.62h-1.04zM30 476.9h1.04v1.62h-1.04zM25 515.3h1.04v1.32h-1.04zM7 518.0h1.04v2.32h-1.04zM15 526.4h1.04v1.12h-1.04zM22 534.6h1.04v1.32h-1.04zM15 541.6h1.04v1.92h-1.04zM24 541.6h1.04v1.92h-1.04zM29 541.6h1.04v1.92h-1.04z"/>
<path fill="#E49078" d="M18 394.8h1.04v1.12h-1.04zM16 440.2h1.04v1.12h-1.04zM29 492.7h1.04v1.92h-1.04zM29 539.8h1.04v1.92h-1.04z"/>
<path fill="#D26C54" d="M20 394.8h1.04v1.12h-1.04zM21 401.6h1.04v1.92h-1.04zM29 413.9h1.04v1.12h-1.04zM29 416.4h1.04v1.12h-1.04zM29 425.4h1.04v2.32h-1.04zM5 436.8h1.04v1.32h-1.04zM29 442.4h1.04v1.92h-1.04zM21 444.2h1.04v1.32h-1.04zM6 448.7h1.04v1.62h-1.04zM16 448.7h1.04v1.62h-1.04zM21 482.9h1.04v2.32h-1.04zM20 535.8h1.04v2.32h-1.04zM31 549.0h1.04v1.12h-1.04z"/>
<path fill="#DE846C" d="M21 394.8h1.04v1.12h-1.04zM25 394.8h1.04v1.12h-1.04zM23 395.8h1.04v1.12h-1.04zM25 410.2h1.04v2.32h-1.04zM4 416.4h1.04v1.12h-1.04zM31 416.4h1.04v1.12h-1.04zM29 417.4h1.04v1.92h-1.04zM19 421.4h1.04v2.32h-1.04zM29 421.4h1.04v2.32h-1.04zM31 423.6h1.04v1.92h-1.04zM18 427.6h1.04v1.32h-1.04zM20 427.6h1.04v1.32h-1.04zM28 427.6h1.04v1.32h-1.04zM15 428.8h1.04v1.12h-1.04zM9 434.6h1.04v2.32h-1.04zM18 440.2h1.04v1.12h-1.04zM29 450.2h1.04v2.32h-1.04zM21 456.8h1.04v1.62h-1.04zM10 458.3h1.04v2.32h-1.04zM13 463.7h1.04v1.32h-1.04zM23 482.9h1.04v2.32h-1.04zM31 482.9h1.04v2.32h-1.04zM31 489.5h1.04v2.32h-1.04zM14 516.5h1.04v1.62h-1.04zM21 518.0h1.04v2.32h-1.04zM29 527.4h1.04v1.32h-1.04zM19 528.6h1.04v1.62h-1.04zM25 543.4h1.04v1.32h-1.04zM26 551.0h1.04v2.32h-1.04zM21 553.2h1.04v0.22h-1.04z"/>
<path fill="#F6DED8" d="M22 394.8h1.04v1.12h-1.04zM7 400.1h1.04v1.62h-1.04zM12 400.1h1.04v1.62h-1.04zM11 405.2h1.04v1.12h-1.04zM28 407.7h1.04v1.12h-1.04zM2 408.7h1.04v1.62h-1.04zM6 412.4h1.04v1.62h-1.04zM30 412.4h1.04v1.62h-1.04zM2 414.9h1.04v1.62h-1.04zM12 417.4h1.04v1.92h-1.04zM10 419.2h1.04v2.32h-1.04zM17 419.2h1.04v2.32h-1.04zM5 423.6h1.04v1.92h-1.04zM24 423.6h1.04v1.92h-1.04zM25 423.6h1.04v1.92h-1.04zM2 425.4h1.04v2.32h-1.04zM26 428.8h1.04v1.12h-1.04zM15 429.8h1.04v1.62h-1.04zM17 429.8h1.04v1.62h-1.04zM25 440.2h1.04v1.12h-1.04zM13 441.2h1.04v1.32h-1.04zM3 445.4h1.04v1.92h-1.04zM22 447.2h1.04v1.62h-1.04zM2 450.2h1.04v2.32h-1.04zM5 450.2h1.04v2.32h-1.04zM6 454.6h1.04v2.32h-1.04zM4 458.3h1.04v2.32h-1.04zM11 458.3h1.04v2.32h-1.04zM12 458.3h1.04v2.32h-1.04zM18 460.5h1.04v2.32h-1.04zM3 463.7h1.04v1.32h-1.04zM6 463.7h1.04v1.32h-1.04zM25 466.1h1.04v1.62h-1.04zM30 466.1h1.04v1.62h-1.04zM17 471.3h1.04v2.32h-1.04zM26 474.7h1.04v2.32h-1.04zM0 480.2h1.04v1.32h-1.04zM5 481.4h1.04v1.62h-1.04zM16 481.4h1.04v1.62h-1.04zM5 482.9h1.04v2.32h-1.04zM15 487.3h1.04v2.32h-1.04zM4 489.5h1.04v2.32h-1.04zM15 489.5h1.04v2.32h-1.04zM17 491.7h1.04v1.12h-1.04zM2 494.5h1.04v1.62h-1.04zM0 497.8h1.04v1.32h-1.04zM10 497.8h1.04v1.32h-1.04zM11 497.8h1.04v1.32h-1.04zM18 497.8h1.04v1.32h-1.04zM0 500.0h1.04v1.12h-1.04zM3 500.0h1.04v1.12h-1.04zM1 501.0h1.04v2.32h-1.04zM9 501.0h1.04v2.32h-1.04zM16 501.0h1.04v2.32h-1.04zM22 501.0h1.04v2.32h-1.04zM0 503.2h1.04v2.32h-1.04zM7 505.4h1.04v1.32h-1.04zM13 505.4h1.04v1.32h-1.04zM12 508.1h1.04v1.32h-1.04zM19 509.3h1.04v1.12h-1.04zM24 509.3h1.04v1.12h-1.04zM0 510.3h1.04v2.32h-1.04zM8 512.5h1.04v1.92h-1.04zM17 512.5h1.04v1.92h-1.04zM7 514.3h1.04v1.12h-1.04zM25 514.3h1.04v1.12h-1.04zM23 515.3h1.04v1.32h-1.04zM6 516.5h1.04v1.62h-1.04zM1 518.0h1.04v2.32h-1.04zM3 518.0h1.04v2.32h-1.04zM0 522.4h1.04v1.32h-1.04zM7 525.4h1.04v1.12h-1.04zM4 526.4h1.04v1.12h-1.04zM7 526.4h1.04v1.12h-1.04zM11 527.4h1.04v1.32h-1.04zM6 528.6h1.04v1.62h-1.04zM27 530.1h1.04v1.32h-1.04zM1 533.1h1.04v1.62h-1.04zM10 533.1h1.04v1.62h-1.04zM12 533.1h1.04v1.62h-1.04zM14 533.1h1.04v1.62h-1.04zM13 534.6h1.04v1.32h-1.04zM26 535.8h1.04v2.32h-1.04zM5 541.6h1.04v1.92h-1.04zM10 541.6h1.04v1.92h-1.04zM15 543.4h1.04v1.32h-1.04zM5 544.6h1.04v2.32h-1.04zM2 546.8h1.04v1.12h-1.04zM1 549.0h1.04v1.12h-1.04zM3 553.2h1.04v0.22h-1.04zM2 563.9h1.04v1.12h-1.04zM21 579.5h1.04v1.92h-1.04z"/>
<path fill="#E49C84" d="M24 394.8h1.04v1.12h-1.04zM27 395.8h1.04v1.12h-1.04zM10 398.6h1.04v1.62h-1.04zM20 400.1h1.04v1.62h-1.04zM29 408.7h1.04v1.62h-1.04zM9 410.2h1.04v2.32h-1.04zM28 412.4h1.04v1.62h-1.04zM19 413.9h1.04v1.12h-1.04zM27 413.9h1.04v1.12h-1.04zM10 416.4h1.04v1.12h-1.04zM19 416.4h1.04v1.12h-1.04zM23 419.2h1.04v2.32h-1.04zM10 421.4h1.04v2.32h-1.04zM7 423.6h1.04v1.92h-1.04zM29 423.6h1.04v1.92h-1.04zM28 425.4h1.04v2.32h-1.04zM12 427.6h1.04v1.32h-1.04zM30 428.8h1.04v1.12h-1.04zM31 428.8h1.04v1.12h-1.04zM16 431.3h1.04v1.62h-1.04zM22 432.8h1.04v1.92h-1.04zM4 434.6h1.04v2.32h-1.04zM10 434.6h1.04v2.32h-1.04zM12 434.6h1.04v2.32h-1.04zM24 438.0h1.04v2.32h-1.04zM9 441.2h1.04v1.32h-1.04zM2 442.4h1.04v1.92h-1.04zM12 444.2h1.04v1.32h-1.04zM27 447.2h1.04v1.62h-1.04zM20 448.7h1.04v1.62h-1.04zM18 450.2h1.04v2.32h-1.04zM10 454.6h1.04v2.32h-1.04zM23 456.8h1.04v1.62h-1.04zM27 456.8h1.04v1.62h-1.04zM17 462.7h1.04v1.12h-1.04zM24 463.7h1.04v1.32h-1.04zM6 466.1h1.04v1.62h-1.04zM13 467.6h1.04v2.32h-1.04zM31 467.6h1.04v2.32h-1.04zM24 469.8h1.04v1.62h-1.04zM13 476.9h1.04v1.62h-1.04zM27 476.9h1.04v1.62h-1.04zM27 478.4h1.04v1.92h-1.04zM17 481.4h1.04v1.62h-1.04zM18 482.9h1.04v2.32h-1.04zM20 482.9h1.04v2.32h-1.04zM27 482.9h1.04v2.32h-1.04zM21 492.7h1.04v1.92h-1.04zM15 505.4h1.04v1.32h-1.04zM20 505.4h1.04v1.32h-1.04zM21 508.1h1.04v1.32h-1.04zM22 512.5h1.04v1.92h-1.04zM24 522.4h1.04v1.32h-1.04zM29 522.4h1.04v1.32h-1.04zM15 525.4h1.04v1.12h-1.04zM20 528.6h1.04v1.62h-1.04zM9 533.1h1.04v1.62h-1.04zM18 538.0h1.04v1.92h-1.04zM21 538.0h1.04v1.92h-1.04zM25 541.6h1.04v1.92h-1.04zM30 543.4h1.04v1.32h-1.04zM31 547.8h1.04v1.32h-1.04zM30 549.0h1.04v1.12h-1.04zM18 551.0h1.04v2.32h-1.04z"/>
<path fill="#F6E4D8" d="M27 394.8h1.04v1.12h-1.04zM1 398.6h1.04v1.62h-1.04zM2 398.6h1.04v1.62h-1.04zM5 401.6h1.04v1.92h-1.04zM16 405.2h1.04v1.12h-1.04zM5 406.2h1.04v1.62h-1.04zM6 407.7h1.04v1.12h-1.04zM0 408.7h1.04v1.62h-1.04zM17 412.4h1.04v1.62h-1.04zM19 412.4h1.04v1.62h-1.04zM2 413.9h1.04v1.12h-1.04zM8 417.4h1.04v1.92h-1.04zM1 421.4h1.04v2.32h-1.04zM16 423.6h1.04v1.92h-1.04zM5 428.8h1.04v1.12h-1.04zM28 429.8h1.04v1.62h-1.04zM4 431.3h1.04v1.62h-1.04zM19 436.8h1.04v1.32h-1.04zM2 441.2h1.04v1.32h-1.04zM11 441.2h1.04v1.32h-1.04zM14 454.6h1.04v2.32h-1.04zM5 458.3h1.04v2.32h-1.04zM23 464.9h1.04v1.32h-1.04zM30 464.9h1.04v1.32h-1.04zM7 473.5h1.04v1.32h-1.04zM2 474.7h1.04v2.32h-1.04zM23 474.7h1.04v2.32h-1.04zM10 476.9h1.04v1.62h-1.04zM29 476.9h1.04v1.62h-1.04zM5 478.4h1.04v1.92h-1.04zM17 478.4h1.04v1.92h-1.04zM17 480.2h1.04v1.32h-1.04zM23 481.4h1.04v1.62h-1.04zM3 485.1h1.04v2.32h-1.04zM9 485.1h1.04v2.32h-1.04zM3 487.3h1.04v2.32h-1.04zM16 491.7h1.04v1.12h-1.04zM19 491.7h1.04v1.12h-1.04zM9 492.7h1.04v1.92h-1.04zM9 500.0h1.04v1.12h-1.04zM11 505.4h1.04v1.32h-1.04zM23 505.4h1.04v1.32h-1.04zM9 509.3h1.04v1.12h-1.04zM11 514.3h1.04v1.12h-1.04zM17 514.3h1.04v1.12h-1.04zM2 515.3h1.04v1.32h-1.04zM6 515.3h1.04v1.32h-1.04zM1 516.5h1.04v1.62h-1.04zM27 518.0h1.04v2.32h-1.04zM28 520.2h1.04v2.32h-1.04zM12 522.4h1.04v1.32h-1.04zM25 527.4h1.04v1.32h-1.04zM24 530.1h1.04v1.32h-1.04zM1 531.3h1.04v1.92h-1.04zM4 531.3h1.04v1.92h-1.04zM10 531.3h1.04v1.92h-1.04zM20 533.1h1.04v1.62h-1.04zM5 538.0h1.04v1.92h-1.04zM16 538.0h1.04v1.92h-1.04zM3 541.6h1.04v1.92h-1.04zM4 549.0h1.04v1.12h-1.04zM2 551.0h1.04v2.32h-1.04zM0 553.2h1.04v0.22h-1.04zM26 553.2h1.04v0.22h-1.04zM3 567.9h1.04v1.92h-1.04zM12 571.5h1.04v1.12h-1.04zM19 583.5h1.04v1.32h-1.04zM16 589.6h1.04v1.62h-1.04zM27 593.6h1.04v1.32h-1.04zM3 596.8h1.04v1.32h-1.04zM3 602.9h1.04v1.92h-1.04zM28 604.7h1.04v1.12h-1.04zM9 620.2h1.04v1.62h-1.04z"/>
<path fill="#E4967E" d="M28 394.8h1.04v1.12h-1.04zM1 395.8h1.04v1.12h-1.04zM17 396.8h1.04v1.92h-1.04zM24 403.4h1.04v1.92h-1.04zM17 405.2h1.04v1.12h-1.04zM9 407.7h1.04v1.12h-1.04zM14 407.7h1.04v1.12h-1.04zM17 408.7h1.04v1.62h-1.04zM24 408.7h1.04v1.62h-1.04zM28 413.9h1.04v1.12h-1.04zM26 416.4h1.04v1.12h-1.04zM4 417.4h1.04v1.92h-1.04zM14 419.2h1.04v2.32h-1.04zM20 419.2h1.04v2.32h-1.04zM29 419.2h1.04v2.32h-1.04zM27 427.6h1.04v1.32h-1.04zM21 429.8h1.04v1.62h-1.04zM24 429.8h1.04v1.62h-1.04zM21 432.8h1.04v1.92h-1.04zM27 436.8h1.04v1.32h-1.04zM25 438.0h1.04v2.32h-1.04zM23 440.2h1.04v1.12h-1.04zM28 440.2h1.04v1.12h-1.04zM16 441.2h1.04v1.32h-1.04zM31 442.4h1.04v1.92h-1.04zM17 444.2h1.04v1.32h-1.04zM17 445.4h1.04v1.92h-1.04zM13 447.2h1.04v1.62h-1.04zM16 447.2h1.04v1.62h-1.04zM12 448.7h1.04v1.62h-1.04zM24 448.7h1.04v1.62h-1.04zM13 450.2h1.04v2.32h-1.04zM16 450.2h1.04v2.32h-1.04zM9 452.4h1.04v2.32h-1.04zM20 452.4h1.04v2.32h-1.04zM24 454.6h1.04v2.32h-1.04zM9 458.3h1.04v2.32h-1.04zM29 458.3h1.04v2.32h-1.04zM17 460.5h1.04v2.32h-1.04zM11 462.7h1.04v1.12h-1.04zM24 462.7h1.04v1.12h-1.04zM12 464.9h1.04v1.32h-1.04zM10 466.1h1.04v1.62h-1.04zM21 467.6h1.04v2.32h-1.04zM24 467.6h1.04v2.32h-1.04zM4 471.3h1.04v2.32h-1.04zM21 471.3h1.04v2.32h-1.04zM20 473.5h1.04v1.32h-1.04zM30 474.7h1.04v2.32h-1.04zM21 481.4h1.04v1.62h-1.04zM21 487.3h1.04v2.32h-1.04zM18 494.5h1.04v1.62h-1.04zM13 496.0h1.04v1.92h-1.04zM20 496.0h1.04v1.92h-1.04zM21 499.0h1.04v1.12h-1.04zM29 499.0h1.04v1.12h-1.04zM17 500.0h1.04v1.12h-1.04zM24 503.2h1.04v2.32h-1.04zM17 505.4h1.04v1.32h-1.04zM1 506.6h1.04v1.62h-1.04zM18 515.3h1.04v1.32h-1.04zM27 516.5h1.04v1.62h-1.04zM19 522.4h1.04v1.32h-1.04zM27 522.4h1.04v1.32h-1.04zM30 522.4h1.04v1.32h-1.04zM15 523.6h1.04v1.92h-1.04zM19 527.4h1.04v1.32h-1.04zM9 528.6h1.04v1.62h-1.04zM28 530.1h1.04v1.32h-1.04zM2 534.6h1.04v1.32h-1.04zM28 535.8h1.04v2.32h-1.04zM5 539.8h1.04v1.92h-1.04zM21 539.8h1.04v1.92h-1.04zM23 539.8h1.04v1.92h-1.04zM24 539.8h1.04v1.92h-1.04zM27 539.8h1.04v1.92h-1.04zM18 546.8h1.04v1.12h-1.04zM21 546.8h1.04v1.12h-1.04zM27 546.8h1.04v1.12h-1.04zM12 551.0h1.04v2.32h-1.04zM30 553.2h1.04v0.22h-1.04z"/>
<path fill="#D87E66" d="M30 394.8h1.04v1.12h-1.04zM9 398.6h1.04v1.62h-1.04zM9 406.2h1.04v1.62h-1.04zM20 410.2h1.04v2.32h-1.04zM8 425.4h1.04v2.32h-1.04zM18 425.4h1.04v2.32h-1.04zM19 432.8h1.04v1.92h-1.04zM29 440.2h1.04v1.12h-1.04zM23 442.4h1.04v1.92h-1.04zM27 444.2h1.04v1.32h-1.04zM21 445.4h1.04v1.92h-1.04zM20 454.6h1.04v2.32h-1.04zM12 462.7h1.04v1.12h-1.04zM28 462.7h1.04v1.12h-1.04zM27 469.8h1.04v1.62h-1.04zM31 478.4h1.04v1.92h-1.04zM30 480.2h1.04v1.32h-1.04zM16 494.5h1.04v1.62h-1.04zM31 503.2h1.04v2.32h-1.04zM20 510.3h1.04v2.32h-1.04zM15 516.5h1.04v1.62h-1.04zM17 523.6h1.04v1.92h-1.04zM28 526.4h1.04v1.12h-1.04zM30 535.8h1.04v2.32h-1.04zM29 538.0h1.04v1.92h-1.04zM31 544.6h1.04v2.32h-1.04zM17 546.8h1.04v1.12h-1.04zM17 551.0h1.04v2.32h-1.04zM21 551.0h1.04v2.32h-1.04z"/>
<path fill="#BA4242" d="M31 394.8h1.04v1.12h-1.04zM4 406.2h1.04v1.62h-1.04zM31 501.0h1.04v2.32h-1.04zM31 518.0h1.04v2.32h-1.04zM31 525.4h1.04v1.12h-1.04z"/>
<path fill="#F6D8CC" d="M0 395.8h1.04v1.12h-1.04zM14 396.8h1.04v1.92h-1.04zM15 396.8h1.04v1.92h-1.04zM23 396.8h1.04v1.92h-1.04zM5 398.6h1.04v1.62h-1.04zM6 398.6h1.04v1.62h-1.04zM16 398.6h1.04v1.62h-1.04zM15 400.1h1.04v1.62h-1.04zM21 400.1h1.04v1.62h-1.04zM14 401.6h1.04v1.92h-1.04zM5 403.4h1.04v1.92h-1.04zM14 403.4h1.04v1.92h-1.04zM19 403.4h1.04v1.92h-1.04zM1 406.2h1.04v1.62h-1.04zM10 407.7h1.04v1.12h-1.04zM3 408.7h1.04v1.62h-1.04zM6 408.7h1.04v1.62h-1.04zM7 408.7h1.04v1.62h-1.04zM22 408.7h1.04v1.62h-1.04zM7 412.4h1.04v1.62h-1.04zM15 412.4h1.04v1.62h-1.04zM22 412.4h1.04v1.62h-1.04zM24 412.4h1.04v1.62h-1.04zM14 413.9h1.04v1.12h-1.04zM11 414.9h1.04v1.62h-1.04zM15 414.9h1.04v1.62h-1.04zM6 416.4h1.04v1.12h-1.04zM11 416.4h1.04v1.12h-1.04zM17 416.4h1.04v1.12h-1.04zM17 417.4h1.04v1.92h-1.04zM30 417.4h1.04v1.92h-1.04zM8 419.2h1.04v2.32h-1.04zM12 419.2h1.04v2.32h-1.04zM15 419.2h1.04v2.32h-1.04zM0 423.6h1.04v1.92h-1.04zM11 423.6h1.04v1.92h-1.04zM10 425.4h1.04v2.32h-1.04zM3 427.6h1.04v1.32h-1.04zM8 427.6h1.04v1.32h-1.04zM26 427.6h1.04v1.32h-1.04zM9 428.8h1.04v1.12h-1.04zM25 428.8h1.04v1.12h-1.04zM3 429.8h1.04v1.62h-1.04zM30 429.8h1.04v1.62h-1.04zM0 431.3h1.04v1.62h-1.04zM6 431.3h1.04v1.62h-1.04zM1 432.8h1.04v1.92h-1.04zM14 432.8h1.04v1.92h-1.04zM24 432.8h1.04v1.92h-1.04zM18 436.8h1.04v1.32h-1.04zM26 436.8h1.04v1.32h-1.04zM8 438.0h1.04v2.32h-1.04zM10 438.0h1.04v2.32h-1.04zM17 438.0h1.04v2.32h-1.04zM3 440.2h1.04v1.12h-1.04zM26 440.2h1.04v1.12h-1.04zM28 441.2h1.04v1.32h-1.04zM30 441.2h1.04v1.32h-1.04zM19 442.4h1.04v1.92h-1.04zM15 445.4h1.04v1.92h-1.04zM3 447.2h1.04v1.62h-1.04zM7 447.2h1.04v1.62h-1.04zM28 447.2h1.04v1.62h-1.04zM28 450.2h1.04v2.32h-1.04zM31 450.2h1.04v2.32h-1.04zM8 452.4h1.04v2.32h-1.04zM12 452.4h1.04v2.32h-1.04zM6 456.8h1.04v1.62h-1.04zM24 456.8h1.04v1.62h-1.04zM31 456.8h1.04v1.62h-1.04zM13 458.3h1.04v2.32h-1.04zM15 458.3h1.04v2.32h-1.04zM30 458.3h1.04v2.32h-1.04zM0 460.5h1.04v2.32h-1.04zM8 460.5h1.04v2.32h-1.04zM16 460.5h1.04v2.32h-1.04zM24 460.5h1.04v2.32h-1.04zM30 460.5h1.04v2.32h-1.04zM5 462.7h1.04v1.12h-1.04zM9 463.7h1.04v1.32h-1.04zM0 464.9h1.04v1.32h-1.04zM5 464.9h1.04v1.32h-1.04zM25 464.9h1.04v1.32h-1.04zM27 464.9h1.04v1.32h-1.04zM28 464.9h1.04v1.32h-1.04zM15 466.1h1.04v1.62h-1.04zM23 466.1h1.04v1.62h-1.04zM16 467.6h1.04v2.32h-1.04zM2 469.8h1.04v1.62h-1.04zM1 471.3h1.04v2.32h-1.04zM10 471.3h1.04v2.32h-1.04zM19 473.5h1.04v1.32h-1.04zM23 473.5h1.04v1.32h-1.04zM27 473.5h1.04v1.32h-1.04zM15 474.7h1.04v2.32h-1.04zM18 474.7h1.04v2.32h-1.04zM20 474.7h1.04v2.32h-1.04zM4 476.9h1.04v1.62h-1.04zM12 476.9h1.04v1.62h-1.04zM22 476.9h1.04v1.62h-1.04zM1 478.4h1.04v1.92h-1.04zM2 478.4h1.04v1.92h-1.04zM4 478.4h1.04v1.92h-1.04zM16 478.4h1.04v1.92h-1.04zM20 478.4h1.04v1.92h-1.04zM26 478.4h1.04v1.92h-1.04zM1 480.2h1.04v1.32h-1.04zM7 480.2h1.04v1.32h-1.04zM12 480.2h1.04v1.32h-1.04zM14 480.2h1.04v1.32h-1.04zM16 480.2h1.04v1.32h-1.04zM20 481.4h1.04v1.62h-1.04zM30 481.4h1.04v1.62h-1.04zM31 481.4h1.04v1.62h-1.04zM0 482.9h1.04v2.32h-1.04zM2 482.9h1.04v2.32h-1.04zM7 482.9h1.04v2.32h-1.04zM15 485.1h1.04v2.32h-1.04zM20 485.1h1.04v2.32h-1.04zM7 487.3h1.04v2.32h-1.04zM8 487.3h1.04v2.32h-1.04zM12 487.3h1.04v2.32h-1.04zM3 489.5h1.04v2.32h-1.04zM5 489.5h1.04v2.32h-1.04zM7 492.7h1.04v1.92h-1.04zM1 494.5h1.04v1.62h-1.04zM15 494.5h1.04v1.62h-1.04zM26 494.5h1.04v1.62h-1.04zM8 496.0h1.04v1.92h-1.04zM2 499.0h1.04v1.12h-1.04zM20 499.0h1.04v1.12h-1.04zM27 499.0h1.04v1.12h-1.04zM14 500.0h1.04v1.12h-1.04zM13 501.0h1.04v2.32h-1.04zM26 503.2h1.04v2.32h-1.04zM10 505.4h1.04v1.32h-1.04zM7 506.6h1.04v1.62h-1.04zM8 506.6h1.04v1.62h-1.04zM22 506.6h1.04v1.62h-1.04zM29 506.6h1.04v1.62h-1.04zM0 508.1h1.04v1.32h-1.04zM4 508.1h1.04v1.32h-1.04zM24 508.1h1.04v1.32h-1.04zM13 509.3h1.04v1.12h-1.04zM26 509.3h1.04v1.12h-1.04zM9 510.3h1.04v2.32h-1.04zM18 512.5h1.04v1.92h-1.04zM19 512.5h1.04v1.92h-1.04zM1 514.3h1.04v1.12h-1.04zM4 514.3h1.04v1.12h-1.04zM12 514.3h1.04v1.12h-1.04zM27 514.3h1.04v1.12h-1.04zM28 514.3h1.04v1.12h-1.04zM30 514.3h1.04v1.12h-1.04zM12 515.3h1.04v1.32h-1.04zM17 515.3h1.04v1.32h-1.04zM30 515.3h1.04v1.32h-1.04zM2 516.5h1.04v1.62h-1.04zM4 516.5h1.04v1.62h-1.04zM12 516.5h1.04v1.62h-1.04zM2 518.0h1.04v2.32h-1.04zM12 518.0h1.04v2.32h-1.04zM19 518.0h1.04v2.32h-1.04zM20 518.0h1.04v2.32h-1.04zM30 520.2h1.04v2.32h-1.04zM2 522.4h1.04v1.32h-1.04zM12 523.6h1.04v1.92h-1.04zM13 523.6h1.04v1.92h-1.04zM16 523.6h1.04v1.92h-1.04zM20 523.6h1.04v1.92h-1.04zM30 523.6h1.04v1.92h-1.04zM11 525.4h1.04v1.12h-1.04zM20 525.4h1.04v1.12h-1.04zM30 525.4h1.04v1.12h-1.04zM5 526.4h1.04v1.12h-1.04zM6 526.4h1.04v1.12h-1.04zM16 526.4h1.04v1.12h-1.04zM19 526.4h1.04v1.12h-1.04zM26 526.4h1.04v1.12h-1.04zM27 526.4h1.04v1.12h-1.04zM22 527.4h1.04v1.32h-1.04zM27 527.4h1.04v1.32h-1.04zM3 528.6h1.04v1.62h-1.04zM7 528.6h1.04v1.62h-1.04zM19 530.1h1.04v1.32h-1.04zM12 531.3h1.04v1.92h-1.04zM21 531.3h1.04v1.92h-1.04zM26 533.1h1.04v1.62h-1.04zM26 534.6h1.04v1.32h-1.04zM7 535.8h1.04v2.32h-1.04zM12 535.8h1.04v2.32h-1.04zM17 535.8h1.04v2.32h-1.04zM22 535.8h1.04v2.32h-1.04zM4 538.0h1.04v1.92h-1.04zM7 538.0h1.04v1.92h-1.04zM26 538.0h1.04v1.92h-1.04zM15 539.8h1.04v1.92h-1.04zM25 539.8h1.04v1.92h-1.04zM6 541.6h1.04v1.92h-1.04zM11 541.6h1.04v1.92h-1.04zM13 541.6h1.04v1.92h-1.04zM28 543.4h1.04v1.32h-1.04zM2 544.6h1.04v2.32h-1.04zM23 544.6h1.04v2.32h-1.04zM25 544.6h1.04v2.32h-1.04zM28 544.6h1.04v2.32h-1.04zM9 546.8h1.04v1.12h-1.04zM10 547.8h1.04v1.32h-1.04zM13 547.8h1.04v1.32h-1.04zM29 547.8h1.04v1.32h-1.04zM2 549.0h1.04v1.12h-1.04zM5 549.0h1.04v1.12h-1.04zM23 549.0h1.04v1.12h-1.04zM26 549.0h1.04v1.12h-1.04zM27 549.0h1.04v1.12h-1.04zM1 550.0h1.04v1.12h-1.04zM3 550.0h1.04v1.12h-1.04zM4 551.0h1.04v2.32h-1.04zM5 551.0h1.04v2.32h-1.04zM25 551.0h1.04v2.32h-1.04zM29 551.0h1.04v2.32h-1.04zM15 553.2h1.04v0.22h-1.04zM22 553.2h1.04v0.22h-1.04zM25 553.2h1.04v0.22h-1.04zM2 569.7h1.04v1.92h-1.04zM19 594.8h1.04v1.12h-1.04zM1 605.7h1.04v1.62h-1.04zM1 608.7h1.04v1.92h-1.04zM12 622.7h1.04v1.32h-1.04z"/>
<path fill="#F6F0F0" d="M3 395.8h1.04v1.12h-1.04zM8 401.6h1.04v1.92h-1.04zM8 406.2h1.04v1.62h-1.04zM0 407.7h1.04v1.12h-1.04zM2 407.7h1.04v1.12h-1.04zM8 407.7h1.04v1.12h-1.04zM1 410.2h1.04v2.32h-1.04zM2 410.2h1.04v2.32h-1.04zM11 412.4h1.04v1.62h-1.04zM0 417.4h1.04v1.92h-1.04zM2 417.4h1.04v1.92h-1.04zM1 419.2h1.04v2.32h-1.04zM3 421.4h1.04v2.32h-1.04zM3 425.4h1.04v2.32h-1.04zM3 428.8h1.04v1.12h-1.04zM0 429.8h1.04v1.62h-1.04zM5 429.8h1.04v1.62h-1.04zM23 429.8h1.04v1.62h-1.04zM1 431.3h1.04v1.62h-1.04zM25 431.3h1.04v1.62h-1.04zM0 434.6h1.04v2.32h-1.04zM25 434.6h1.04v2.32h-1.04zM0 442.4h1.04v1.92h-1.04zM1 442.4h1.04v1.92h-1.04zM12 445.4h1.04v1.92h-1.04zM25 445.4h1.04v1.92h-1.04zM1 447.2h1.04v1.62h-1.04zM2 448.7h1.04v1.62h-1.04zM11 450.2h1.04v2.32h-1.04zM22 450.2h1.04v2.32h-1.04zM2 454.6h1.04v2.32h-1.04zM5 456.8h1.04v1.62h-1.04zM3 458.3h1.04v2.32h-1.04zM25 458.3h1.04v2.32h-1.04zM18 467.6h1.04v2.32h-1.04zM0 469.8h1.04v1.62h-1.04zM2 471.3h1.04v2.32h-1.04zM9 471.3h1.04v2.32h-1.04zM2 473.5h1.04v1.32h-1.04zM1 474.7h1.04v2.32h-1.04zM7 474.7h1.04v2.32h-1.04zM23 478.4h1.04v1.92h-1.04zM10 480.2h1.04v1.32h-1.04zM15 480.2h1.04v1.32h-1.04zM0 481.4h1.04v1.62h-1.04zM1 485.1h1.04v2.32h-1.04zM7 485.1h1.04v2.32h-1.04zM25 491.7h1.04v1.12h-1.04zM15 492.7h1.04v1.92h-1.04zM0 494.5h1.04v1.62h-1.04zM9 494.5h1.04v1.62h-1.04zM14 499.0h1.04v1.12h-1.04zM6 500.0h1.04v1.12h-1.04zM0 501.0h1.04v2.32h-1.04zM11 501.0h1.04v2.32h-1.04zM14 501.0h1.04v2.32h-1.04zM6 503.2h1.04v2.32h-1.04zM19 505.4h1.04v1.32h-1.04zM12 506.6h1.04v1.62h-1.04zM11 508.1h1.04v1.32h-1.04zM29 508.1h1.04v1.32h-1.04zM0 509.3h1.04v1.12h-1.04zM1 509.3h1.04v1.12h-1.04zM19 510.3h1.04v2.32h-1.04zM0 515.3h1.04v1.32h-1.04zM1 515.3h1.04v1.32h-1.04zM9 515.3h1.04v1.32h-1.04zM13 515.3h1.04v1.32h-1.04zM13 516.5h1.04v1.62h-1.04zM5 520.2h1.04v2.32h-1.04zM8 520.2h1.04v2.32h-1.04zM10 520.2h1.04v2.32h-1.04zM17 520.2h1.04v2.32h-1.04zM20 520.2h1.04v2.32h-1.04zM3 522.4h1.04v1.32h-1.04zM6 522.4h1.04v1.32h-1.04zM6 523.6h1.04v1.92h-1.04zM3 527.4h1.04v1.32h-1.04zM0 530.1h1.04v1.32h-1.04zM1 530.1h1.04v1.32h-1.04zM16 530.1h1.04v1.32h-1.04zM7 531.3h1.04v1.92h-1.04zM6 535.8h1.04v2.32h-1.04zM15 535.8h1.04v2.32h-1.04zM13 538.0h1.04v1.92h-1.04zM7 541.6h1.04v1.92h-1.04zM10 543.4h1.04v1.32h-1.04zM1 544.6h1.04v2.32h-1.04zM6 544.6h1.04v2.32h-1.04zM6 546.8h1.04v1.12h-1.04zM0 547.8h1.04v1.32h-1.04zM5 547.8h1.04v1.32h-1.04zM14 547.8h1.04v1.32h-1.04zM0 549.0h1.04v1.12h-1.04zM10 550.0h1.04v1.12h-1.04zM2 553.2h1.04v0.22h-1.04zM6 553.2h1.04v0.22h-1.04zM14 553.2h1.04v0.22h-1.04zM1 556.9h1.04v1.12h-1.04zM4 557.9h1.04v1.32h-1.04zM15 557.9h1.04v1.32h-1.04zM5 559.1h1.04v1.32h-1.04zM5 562.1h1.04v1.92h-1.04zM16 562.1h1.04v1.92h-1.04zM22 562.1h1.04v1.92h-1.04zM2 564.9h1.04v1.92h-1.04zM9 569.7h1.04v1.92h-1.04zM14 569.7h1.04v1.92h-1.04zM16 571.5h1.04v1.12h-1.04zM18 571.5h1.04v1.12h-1.04zM28 571.5h1.04v1.12h-1.04zM11 574.0h1.04v1.62h-1.04zM28 574.0h1.04v1.62h-1.04zM7 575.5h1.04v1.62h-1.04zM19 575.5h1.04v1.62h-1.04zM2 577.0h1.04v1.62h-1.04zM19 577.0h1.04v1.62h-1.04zM3 578.5h1.04v1.12h-1.04zM21 578.5h1.04v1.12h-1.04zM2 579.5h1.04v1.92h-1.04zM3 579.5h1.04v1.92h-1.04zM10 579.5h1.04v1.92h-1.04zM28 581.3h1.04v2.32h-1.04zM4 583.5h1.04v1.32h-1.04zM28 583.5h1.04v1.32h-1.04zM29 583.5h1.04v1.32h-1.04zM21 586.9h1.04v1.62h-1.04zM1 588.4h1.04v1.32h-1.04zM3 588.4h1.04v1.32h-1.04zM13 588.4h1.04v1.32h-1.04zM0 589.6h1.04v1.62h-1.04zM27 589.6h1.04v1.62h-1.04zM11 591.1h1.04v1.62h-1.04zM10 595.8h1.04v1.12h-1.04zM1 596.8h1.04v1.32h-1.04zM3 598.0h1.04v2.32h-1.04zM14 600.2h1.04v1.32h-1.04zM0 601.4h1.04v1.62h-1.04zM27 601.4h1.04v1.62h-1.04zM3 604.7h1.04v1.12h-1.04zM10 604.7h1.04v1.12h-1.04zM17 607.2h1.04v1.62h-1.04zM29 607.2h1.04v1.62h-1.04zM4 611.7h1.04v1.62h-1.04zM3 613.2h1.04v2.32h-1.04zM28 613.2h1.04v2.32h-1.04zM6 617.2h1.04v1.32h-1.04zM12 617.2h1.04v1.32h-1.04zM1 618.4h1.04v1.92h-1.04zM5 618.4h1.04v1.92h-1.04zM7 618.4h1.04v1.92h-1.04zM3 620.2h1.04v1.62h-1.04zM28 622.7h1.04v1.32h-1.04z"/>
<path fill="#CC6654" d="M4 395.8h1.04v1.12h-1.04zM20 395.8h1.04v1.12h-1.04zM9 417.4h1.04v1.92h-1.04zM24 442.4h1.04v1.92h-1.04zM23 444.2h1.04v1.32h-1.04zM31 497.8h1.04v1.32h-1.04zM31 509.3h1.04v1.12h-1.04zM17 530.1h1.04v1.32h-1.04z"/>
<path fill="#F0F0F0" d="M5 395.8h1.04v1.12h-1.04zM1 401.6h1.04v1.92h-1.04zM6 401.6h1.04v1.92h-1.04zM0 403.4h1.04v1.92h-1.04zM6 403.4h1.04v1.92h-1.04zM0 405.2h1.04v1.12h-1.04zM3 412.4h1.04v1.62h-1.04zM16 412.4h1.04v1.62h-1.04zM3 414.9h1.04v1.62h-1.04zM1 417.4h1.04v1.92h-1.04zM3 417.4h1.04v1.92h-1.04zM3 419.2h1.04v2.32h-1.04zM11 419.2h1.04v2.32h-1.04zM1 429.8h1.04v1.62h-1.04zM26 434.6h1.04v2.32h-1.04zM8 441.2h1.04v1.32h-1.04zM25 441.2h1.04v1.32h-1.04zM26 442.4h1.04v1.92h-1.04zM3 450.2h1.04v2.32h-1.04zM2 452.4h1.04v2.32h-1.04zM13 469.8h1.04v1.62h-1.04zM0 471.3h1.04v2.32h-1.04zM25 471.3h1.04v2.32h-1.04zM23 476.9h1.04v1.62h-1.04zM11 478.4h1.04v1.92h-1.04zM7 481.4h1.04v1.62h-1.04zM6 485.1h1.04v2.32h-1.04zM10 491.7h1.04v1.12h-1.04zM11 491.7h1.04v1.12h-1.04zM11 492.7h1.04v1.92h-1.04zM3 494.5h1.04v1.62h-1.04zM6 494.5h1.04v1.62h-1.04zM10 494.5h1.04v1.62h-1.04zM19 494.5h1.04v1.62h-1.04zM6 499.0h1.04v1.12h-1.04zM23 499.0h1.04v1.12h-1.04zM10 500.0h1.04v1.12h-1.04zM5 501.0h1.04v2.32h-1.04zM6 501.0h1.04v2.32h-1.04zM19 503.2h1.04v2.32h-1.04zM23 503.2h1.04v2.32h-1.04zM6 505.4h1.04v1.32h-1.04zM11 506.6h1.04v1.62h-1.04zM2 508.1h1.04v1.32h-1.04zM8 509.3h1.04v1.12h-1.04zM0 512.5h1.04v1.92h-1.04zM3 514.3h1.04v1.12h-1.04zM5 514.3h1.04v1.12h-1.04zM16 515.3h1.04v1.32h-1.04zM5 516.5h1.04v1.62h-1.04zM0 518.0h1.04v2.32h-1.04zM26 518.0h1.04v2.32h-1.04zM3 520.2h1.04v2.32h-1.04zM12 520.2h1.04v2.32h-1.04zM5 523.6h1.04v1.92h-1.04zM3 525.4h1.04v1.12h-1.04zM12 527.4h1.04v1.32h-1.04zM3 530.1h1.04v1.32h-1.04zM8 530.1h1.04v1.32h-1.04zM3 531.3h1.04v1.92h-1.04zM6 533.1h1.04v1.62h-1.04zM7 533.1h1.04v1.62h-1.04zM6 534.6h1.04v1.32h-1.04zM10 539.8h1.04v1.92h-1.04zM3 543.4h1.04v1.32h-1.04zM10 544.6h1.04v2.32h-1.04zM26 547.8h1.04v1.32h-1.04zM14 549.0h1.04v1.12h-1.04zM7 550.0h1.04v1.12h-1.04zM3 551.0h1.04v2.32h-1.04zM8 553.2h1.04v0.22h-1.04zM6 557.9h1.04v1.32h-1.04zM8 559.1h1.04v1.32h-1.04zM8 560.3h1.04v1.92h-1.04zM10 560.3h1.04v1.92h-1.04zM12 560.3h1.04v1.92h-1.04zM1 562.1h1.04v1.92h-1.04zM14 562.1h1.04v1.92h-1.04zM5 563.9h1.04v1.12h-1.04zM23 563.9h1.04v1.12h-1.04zM5 564.9h1.04v1.92h-1.04zM12 564.9h1.04v1.92h-1.04zM27 564.9h1.04v1.92h-1.04zM6 566.7h1.04v1.32h-1.04zM27 566.7h1.04v1.32h-1.04zM5 567.9h1.04v1.92h-1.04zM14 567.9h1.04v1.92h-1.04zM28 569.7h1.04v1.92h-1.04zM7 571.5h1.04v1.12h-1.04zM21 571.5h1.04v1.12h-1.04zM9 574.0h1.04v1.62h-1.04zM18 574.0h1.04v1.62h-1.04zM21 574.0h1.04v1.62h-1.04zM5 575.5h1.04v1.62h-1.04zM11 575.5h1.04v1.62h-1.04zM14 575.5h1.04v1.62h-1.04zM2 578.5h1.04v1.12h-1.04zM7 578.5h1.04v1.12h-1.04zM19 581.3h1.04v2.32h-1.04zM11 583.5h1.04v1.32h-1.04zM22 583.5h1.04v1.32h-1.04zM24 584.7h1.04v2.32h-1.04zM6 586.9h1.04v1.62h-1.04zM7 586.9h1.04v1.62h-1.04zM1 591.1h1.04v1.62h-1.04zM19 591.1h1.04v1.62h-1.04zM30 591.1h1.04v1.62h-1.04zM13 592.6h1.04v1.12h-1.04zM28 592.6h1.04v1.12h-1.04zM2 593.6h1.04v1.32h-1.04zM13 593.6h1.04v1.32h-1.04zM6 594.8h1.04v1.12h-1.04zM13 594.8h1.04v1.12h-1.04zM27 595.8h1.04v1.12h-1.04zM31 595.8h1.04v1.12h-1.04zM13 596.8h1.04v1.32h-1.04zM19 596.8h1.04v1.32h-1.04zM22 596.8h1.04v1.32h-1.04zM23 596.8h1.04v1.32h-1.04zM23 598.0h1.04v2.32h-1.04zM5 600.2h1.04v1.32h-1.04zM3 601.4h1.04v1.62h-1.04zM23 601.4h1.04v1.62h-1.04zM2 604.7h1.04v1.12h-1.04zM13 605.7h1.04v1.62h-1.04zM19 605.7h1.04v1.62h-1.04zM10 607.2h1.04v1.62h-1.04zM2 608.7h1.04v1.92h-1.04zM4 608.7h1.04v1.92h-1.04zM8 608.7h1.04v1.92h-1.04zM0 610.5h1.04v1.32h-1.04zM4 610.5h1.04v1.32h-1.04zM2 611.7h1.04v1.62h-1.04zM10 611.7h1.04v1.62h-1.04zM4 613.2h1.04v2.32h-1.04zM15 613.2h1.04v2.32h-1.04zM8 615.4h1.04v1.92h-1.04zM27 617.2h1.04v1.32h-1.04zM9 618.4h1.04v1.92h-1.04zM2 620.2h1.04v1.62h-1.04zM5 620.2h1.04v1.62h-1.04zM2 622.7h1.04v1.32h-1.04zM17 622.7h1.04v1.32h-1.04z"/>
<path fill="#EAAE96" d="M6 395.8h1.04v1.12h-1.04zM21 395.8h1.04v1.12h-1.04zM25 396.8h1.04v1.92h-1.04zM22 398.6h1.04v1.62h-1.04zM23 400.1h1.04v1.62h-1.04zM26 403.4h1.04v1.92h-1.04zM21 406.2h1.04v1.62h-1.04zM4 407.7h1.04v1.12h-1.04zM7 407.7h1.04v1.12h-1.04zM13 410.2h1.04v2.32h-1.04zM26 410.2h1.04v2.32h-1.04zM4 412.4h1.04v1.62h-1.04zM21 412.4h1.04v1.62h-1.04zM16 413.9h1.04v1.12h-1.04zM26 413.9h1.04v1.12h-1.04zM28 419.2h1.04v2.32h-1.04zM14 421.4h1.04v2.32h-1.04zM28 421.4h1.04v2.32h-1.04zM9 425.4h1.04v2.32h-1.04zM15 425.4h1.04v2.32h-1.04zM25 425.4h1.04v2.32h-1.04zM2 427.6h1.04v1.32h-1.04zM4 427.6h1.04v1.32h-1.04zM20 429.8h1.04v1.62h-1.04zM31 431.3h1.04v1.62h-1.04zM10 432.8h1.04v1.92h-1.04zM13 434.6h1.04v2.32h-1.04zM15 434.6h1.04v2.32h-1.04zM19 434.6h1.04v2.32h-1.04zM11 438.0h1.04v2.32h-1.04zM11 442.4h1.04v1.92h-1.04zM28 442.4h1.04v1.92h-1.04zM13 444.2h1.04v1.32h-1.04zM5 445.4h1.04v1.92h-1.04zM7 445.4h1.04v1.92h-1.04zM8 445.4h1.04v1.92h-1.04zM31 447.2h1.04v1.62h-1.04zM14 448.7h1.04v1.62h-1.04zM17 448.7h1.04v1.62h-1.04zM28 448.7h1.04v1.62h-1.04zM23 450.2h1.04v2.32h-1.04zM27 450.2h1.04v2.32h-1.04zM19 452.4h1.04v2.32h-1.04zM11 454.6h1.04v2.32h-1.04zM19 458.3h1.04v2.32h-1.04zM28 458.3h1.04v2.32h-1.04zM9 460.5h1.04v2.32h-1.04zM13 460.5h1.04v2.32h-1.04zM31 460.5h1.04v2.32h-1.04zM4 463.7h1.04v1.32h-1.04zM7 466.1h1.04v1.62h-1.04zM17 476.9h1.04v1.62h-1.04zM12 482.9h1.04v2.32h-1.04zM25 482.9h1.04v2.32h-1.04zM29 487.3h1.04v2.32h-1.04zM20 489.5h1.04v2.32h-1.04zM8 491.7h1.04v1.12h-1.04zM18 491.7h1.04v1.12h-1.04zM8 492.7h1.04v1.92h-1.04zM21 496.0h1.04v1.92h-1.04zM20 497.8h1.04v1.32h-1.04zM29 497.8h1.04v1.32h-1.04zM26 499.0h1.04v1.12h-1.04zM28 499.0h1.04v1.12h-1.04zM29 500.0h1.04v1.12h-1.04zM28 501.0h1.04v2.32h-1.04zM16 503.2h1.04v2.32h-1.04zM25 503.2h1.04v2.32h-1.04zM28 503.2h1.04v2.32h-1.04zM5 506.6h1.04v1.62h-1.04zM20 509.3h1.04v1.12h-1.04zM28 509.3h1.04v1.12h-1.04zM10 510.3h1.04v2.32h-1.04zM24 515.3h1.04v1.32h-1.04zM4 522.4h1.04v1.32h-1.04zM24 523.6h1.04v1.92h-1.04zM28 523.6h1.04v1.92h-1.04zM13 525.4h1.04v1.12h-1.04zM22 525.4h1.04v1.12h-1.04zM23 525.4h1.04v1.12h-1.04zM24 525.4h1.04v1.12h-1.04zM20 526.4h1.04v1.12h-1.04zM24 526.4h1.04v1.12h-1.04zM18 527.4h1.04v1.32h-1.04zM29 528.6h1.04v1.62h-1.04zM23 530.1h1.04v1.32h-1.04zM28 531.3h1.04v1.92h-1.04zM30 534.6h1.04v1.32h-1.04zM16 535.8h1.04v2.32h-1.04zM19 535.8h1.04v2.32h-1.04zM17 538.0h1.04v1.92h-1.04zM9 539.8h1.04v1.92h-1.04zM22 541.6h1.04v1.92h-1.04zM27 541.6h1.04v1.92h-1.04zM29 543.4h1.04v1.32h-1.04zM8 546.8h1.04v1.12h-1.04zM11 546.8h1.04v1.12h-1.04zM22 546.8h1.04v1.12h-1.04zM19 549.0h1.04v1.12h-1.04zM23 550.0h1.04v1.12h-1.04zM12 553.2h1.04v0.22h-1.04zM18 553.2h1.04v0.22h-1.04z"/>
<path fill="#F6D8D2" d="M11 395.8h1.04v1.12h-1.04zM16 407.7h1.04v1.12h-1.04zM26 408.7h1.04v1.62h-1.04zM31 421.4h1.04v2.32h-1.04zM14 464.9h1.04v1.32h-1.04zM11 480.2h1.04v1.32h-1.04zM7 510.3h1.04v2.32h-1.04zM14 510.3h1.04v2.32h-1.04zM10 527.4h1.04v1.32h-1.04zM15 544.6h1.04v2.32h-1.04zM10 549.0h1.04v1.12h-1.04z"/>
<path fill="#F6D2C0" d="M14 395.8h1.04v1.12h-1.04zM24 395.8h1.04v1.12h-1.04zM2 396.8h1.04v1.92h-1.04zM2 401.6h1.04v1.92h-1.04zM18 403.4h1.04v1.92h-1.04zM11 406.2h1.04v1.62h-1.04zM13 406.2h1.04v1.62h-1.04zM12 407.7h1.04v1.12h-1.04zM14 408.7h1.04v1.62h-1.04zM19 410.2h1.04v2.32h-1.04zM23 413.9h1.04v1.12h-1.04zM0 414.9h1.04v1.62h-1.04zM29 414.9h1.04v1.62h-1.04zM14 416.4h1.04v1.12h-1.04zM31 417.4h1.04v1.92h-1.04zM25 427.6h1.04v1.32h-1.04zM6 429.8h1.04v1.62h-1.04zM29 429.8h1.04v1.62h-1.04zM17 431.3h1.04v1.62h-1.04zM3 434.6h1.04v2.32h-1.04zM28 434.6h1.04v2.32h-1.04zM12 438.0h1.04v2.32h-1.04zM5 444.2h1.04v1.32h-1.04zM11 444.2h1.04v1.32h-1.04zM11 447.2h1.04v1.62h-1.04zM12 450.2h1.04v2.32h-1.04zM27 454.6h1.04v2.32h-1.04zM12 456.8h1.04v1.62h-1.04zM23 462.7h1.04v1.12h-1.04zM7 463.7h1.04v1.32h-1.04zM26 464.9h1.04v1.32h-1.04zM4 467.6h1.04v2.32h-1.04zM5 469.8h1.04v1.62h-1.04zM7 469.8h1.04v1.62h-1.04zM16 471.3h1.04v2.32h-1.04zM16 473.5h1.04v1.32h-1.04zM18 473.5h1.04v1.32h-1.04zM16 474.7h1.04v2.32h-1.04zM27 474.7h1.04v2.32h-1.04zM29 474.7h1.04v2.32h-1.04zM18 478.4h1.04v1.92h-1.04zM4 480.2h1.04v1.32h-1.04zM24 480.2h1.04v1.32h-1.04zM8 481.4h1.04v1.62h-1.04zM2 485.1h1.04v2.32h-1.04zM16 485.1h1.04v2.32h-1.04zM22 485.1h1.04v2.32h-1.04zM0 489.5h1.04v2.32h-1.04zM13 489.5h1.04v2.32h-1.04zM13 492.7h1.04v1.92h-1.04zM4 497.8h1.04v1.32h-1.04zM19 501.0h1.04v2.32h-1.04zM23 501.0h1.04v2.32h-1.04zM25 505.4h1.04v1.32h-1.04zM2 512.5h1.04v1.92h-1.04zM28 512.5h1.04v1.92h-1.04zM16 518.0h1.04v2.32h-1.04zM23 518.0h1.04v2.32h-1.04zM8 526.4h1.04v1.12h-1.04zM23 528.6h1.04v1.62h-1.04zM14 530.1h1.04v1.32h-1.04zM20 530.1h1.04v1.32h-1.04zM14 538.0h1.04v1.92h-1.04zM14 539.8h1.04v1.92h-1.04zM16 541.6h1.04v1.92h-1.04zM28 541.6h1.04v1.92h-1.04zM12 544.6h1.04v2.32h-1.04zM15 549.0h1.04v1.12h-1.04zM27 550.0h1.04v1.12h-1.04zM23 551.0h1.04v2.32h-1.04zM2 566.7h1.04v1.32h-1.04zM15 571.5h1.04v1.12h-1.04z"/>
<path fill="#EAB4A2" d="M15 395.8h1.04v1.12h-1.04zM30 396.8h1.04v1.92h-1.04zM15 405.2h1.04v1.12h-1.04zM25 412.4h1.04v1.62h-1.04zM7 416.4h1.04v1.12h-1.04zM14 423.6h1.04v1.92h-1.04zM23 423.6h1.04v1.92h-1.04zM15 431.3h1.04v1.62h-1.04zM25 436.8h1.04v1.32h-1.04zM10 440.2h1.04v1.12h-1.04zM30 440.2h1.04v1.12h-1.04zM22 444.2h1.04v1.32h-1.04zM8 447.2h1.04v1.62h-1.04zM19 447.2h1.04v1.62h-1.04zM23 447.2h1.04v1.62h-1.04zM17 452.4h1.04v2.32h-1.04zM5 454.6h1.04v2.32h-1.04zM23 460.5h1.04v2.32h-1.04zM31 469.8h1.04v1.62h-1.04zM17 482.9h1.04v2.32h-1.04zM12 491.7h1.04v1.12h-1.04zM21 491.7h1.04v1.12h-1.04zM24 500.0h1.04v1.12h-1.04zM24 506.6h1.04v1.62h-1.04zM13 508.1h1.04v1.32h-1.04zM25 509.3h1.04v1.12h-1.04zM29 510.3h1.04v2.32h-1.04zM14 522.4h1.04v1.32h-1.04zM26 528.6h1.04v1.62h-1.04zM30 528.6h1.04v1.62h-1.04zM13 551.0h1.04v2.32h-1.04z"/>
<path fill="#F6D8C6" d="M16 395.8h1.04v1.12h-1.04zM26 400.1h1.04v1.62h-1.04zM23 405.2h1.04v1.12h-1.04zM26 406.2h1.04v1.62h-1.04zM29 407.7h1.04v1.12h-1.04zM6 410.2h1.04v2.32h-1.04zM10 412.4h1.04v1.62h-1.04zM16 416.4h1.04v1.12h-1.04zM6 419.2h1.04v2.32h-1.04zM26 419.2h1.04v2.32h-1.04zM5 421.4h1.04v2.32h-1.04zM7 421.4h1.04v2.32h-1.04zM3 423.6h1.04v1.92h-1.04zM11 428.8h1.04v1.12h-1.04zM7 429.8h1.04v1.62h-1.04zM19 429.8h1.04v1.62h-1.04zM2 432.8h1.04v1.92h-1.04zM16 436.8h1.04v1.32h-1.04zM14 440.2h1.04v1.12h-1.04zM10 441.2h1.04v1.32h-1.04zM5 442.4h1.04v1.92h-1.04zM9 442.4h1.04v1.92h-1.04zM25 444.2h1.04v1.32h-1.04zM1 448.7h1.04v1.62h-1.04zM10 448.7h1.04v1.62h-1.04zM30 452.4h1.04v2.32h-1.04zM8 454.6h1.04v2.32h-1.04zM28 454.6h1.04v2.32h-1.04zM30 456.8h1.04v1.62h-1.04zM1 460.5h1.04v2.32h-1.04zM9 462.7h1.04v1.12h-1.04zM23 463.7h1.04v1.32h-1.04zM8 464.9h1.04v1.32h-1.04zM15 467.6h1.04v2.32h-1.04zM16 469.8h1.04v1.62h-1.04zM13 471.3h1.04v2.32h-1.04zM23 471.3h1.04v2.32h-1.04zM19 476.9h1.04v1.62h-1.04zM21 480.2h1.04v1.32h-1.04zM12 481.4h1.04v1.62h-1.04zM22 482.9h1.04v2.32h-1.04zM2 491.7h1.04v1.12h-1.04zM6 491.7h1.04v1.12h-1.04zM9 491.7h1.04v1.12h-1.04zM4 496.0h1.04v1.92h-1.04zM5 496.0h1.04v1.92h-1.04zM6 496.0h1.04v1.92h-1.04zM3 501.0h1.04v2.32h-1.04zM26 505.4h1.04v1.32h-1.04zM17 508.1h1.04v1.32h-1.04zM14 512.5h1.04v1.92h-1.04zM2 514.3h1.04v1.12h-1.04zM15 515.3h1.04v1.32h-1.04zM28 515.3h1.04v1.32h-1.04zM29 515.3h1.04v1.32h-1.04zM22 518.0h1.04v2.32h-1.04zM25 518.0h1.04v2.32h-1.04zM19 520.2h1.04v2.32h-1.04zM1 522.4h1.04v1.32h-1.04zM10 522.4h1.04v1.32h-1.04zM11 522.4h1.04v1.32h-1.04zM21 522.4h1.04v1.32h-1.04zM9 530.1h1.04v1.32h-1.04zM15 530.1h1.04v1.32h-1.04zM9 531.3h1.04v1.92h-1.04zM4 535.8h1.04v2.32h-1.04zM2 538.0h1.04v1.92h-1.04zM6 538.0h1.04v1.92h-1.04zM24 538.0h1.04v1.92h-1.04zM16 543.4h1.04v1.32h-1.04zM28 547.8h1.04v1.32h-1.04zM2 550.0h1.04v1.12h-1.04zM22 550.0h1.04v1.12h-1.04zM30 551.0h1.04v2.32h-1.04zM19 553.2h1.04v0.22h-1.04zM3 571.5h1.04v1.12h-1.04zM27 591.1h1.04v1.62h-1.04z"/>
<path fill="#F0C0A8" d="M17 395.8h1.04v1.12h-1.04zM18 401.6h1.04v1.92h-1.04zM24 405.2h1.04v1.12h-1.04zM13 412.4h1.04v1.62h-1.04zM6 414.9h1.04v1.62h-1.04zM4 421.4h1.04v2.32h-1.04zM30 421.4h1.04v2.32h-1.04zM14 425.4h1.04v2.32h-1.04zM14 428.8h1.04v1.12h-1.04zM24 428.8h1.04v1.12h-1.04zM19 431.3h1.04v1.62h-1.04zM7 434.6h1.04v2.32h-1.04zM17 441.2h1.04v1.32h-1.04zM12 442.4h1.04v1.92h-1.04zM15 444.2h1.04v1.32h-1.04zM10 445.4h1.04v1.92h-1.04zM14 445.4h1.04v1.92h-1.04zM12 447.2h1.04v1.62h-1.04zM9 450.2h1.04v2.32h-1.04zM4 452.4h1.04v2.32h-1.04zM22 458.3h1.04v2.32h-1.04zM15 464.9h1.04v1.32h-1.04zM20 469.8h1.04v1.62h-1.04zM30 473.5h1.04v1.32h-1.04zM18 476.9h1.04v1.62h-1.04zM22 491.7h1.04v1.12h-1.04zM28 491.7h1.04v1.12h-1.04zM17 497.8h1.04v1.32h-1.04zM5 499.0h1.04v1.12h-1.04zM29 501.0h1.04v2.32h-1.04zM10 512.5h1.04v1.92h-1.04zM30 512.5h1.04v1.92h-1.04zM3 516.5h1.04v1.62h-1.04zM22 522.4h1.04v1.32h-1.04zM27 523.6h1.04v1.92h-1.04zM18 530.1h1.04v1.32h-1.04zM22 538.0h1.04v1.92h-1.04zM19 546.8h1.04v1.12h-1.04zM16 553.2h1.04v0.22h-1.04z"/>
<path fill="#DE8A72" d="M19 395.8h1.04v1.12h-1.04zM31 395.8h1.04v1.12h-1.04zM20 396.8h1.04v1.92h-1.04zM4 398.6h1.04v1.62h-1.04zM29 401.6h1.04v1.92h-1.04zM28 403.4h1.04v1.92h-1.04zM31 403.4h1.04v1.92h-1.04zM31 405.2h1.04v1.12h-1.04zM15 410.2h1.04v2.32h-1.04zM21 410.2h1.04v2.32h-1.04zM23 410.2h1.04v2.32h-1.04zM24 410.2h1.04v2.32h-1.04zM19 414.9h1.04v1.62h-1.04zM23 416.4h1.04v1.12h-1.04zM5 419.2h1.04v2.32h-1.04zM8 421.4h1.04v2.32h-1.04zM20 423.6h1.04v1.92h-1.04zM11 427.6h1.04v1.32h-1.04zM13 427.6h1.04v1.32h-1.04zM28 428.8h1.04v1.12h-1.04zM29 428.8h1.04v1.12h-1.04zM29 432.8h1.04v1.92h-1.04zM31 432.8h1.04v1.92h-1.04zM23 434.6h1.04v2.32h-1.04zM27 434.6h1.04v2.32h-1.04zM21 436.8h1.04v1.32h-1.04zM4 440.2h1.04v1.12h-1.04zM11 440.2h1.04v1.12h-1.04zM12 440.2h1.04v1.12h-1.04zM12 441.2h1.04v1.32h-1.04zM21 441.2h1.04v1.32h-1.04zM31 441.2h1.04v1.32h-1.04zM6 442.4h1.04v1.92h-1.04zM18 442.4h1.04v1.92h-1.04zM24 444.2h1.04v1.32h-1.04zM20 445.4h1.04v1.92h-1.04zM28 445.4h1.04v1.92h-1.04zM5 448.7h1.04v1.62h-1.04zM8 448.7h1.04v1.62h-1.04zM18 448.7h1.04v1.62h-1.04zM24 452.4h1.04v2.32h-1.04zM9 454.6h1.04v2.32h-1.04zM13 456.8h1.04v1.62h-1.04zM21 460.5h1.04v2.32h-1.04zM31 463.7h1.04v1.32h-1.04zM17 466.1h1.04v1.62h-1.04zM20 466.1h1.04v1.62h-1.04zM26 469.8h1.04v1.62h-1.04zM17 473.5h1.04v1.32h-1.04zM31 480.2h1.04v1.32h-1.04zM28 485.1h1.04v2.32h-1.04zM30 485.1h1.04v2.32h-1.04zM20 487.3h1.04v2.32h-1.04zM28 487.3h1.04v2.32h-1.04zM26 489.5h1.04v2.32h-1.04zM27 489.5h1.04v2.32h-1.04zM27 492.7h1.04v1.92h-1.04zM25 496.0h1.04v1.92h-1.04zM20 500.0h1.04v1.12h-1.04zM5 503.2h1.04v2.32h-1.04zM31 505.4h1.04v1.32h-1.04zM14 514.3h1.04v1.12h-1.04zM21 515.3h1.04v1.32h-1.04zM27 515.3h1.04v1.32h-1.04zM18 522.4h1.04v1.32h-1.04zM28 522.4h1.04v1.32h-1.04zM22 523.6h1.04v1.92h-1.04zM9 527.4h1.04v1.32h-1.04zM11 528.6h1.04v1.62h-1.04zM22 530.1h1.04v1.32h-1.04zM15 531.3h1.04v1.92h-1.04zM20 531.3h1.04v1.92h-1.04zM9 534.6h1.04v1.32h-1.04zM9 538.0h1.04v1.92h-1.04zM19 538.0h1.04v1.92h-1.04zM27 538.0h1.04v1.92h-1.04zM1 541.6h1.04v1.92h-1.04zM18 543.4h1.04v1.32h-1.04zM28 546.8h1.04v1.12h-1.04zM29 546.8h1.04v1.12h-1.04zM30 546.8h1.04v1.12h-1.04z"/>
<path fill="#F6F0EA" d="M22 395.8h1.04v1.12h-1.04zM0 396.8h1.04v1.92h-1.04zM5 396.8h1.04v1.92h-1.04zM6 400.1h1.04v1.62h-1.04zM3 401.6h1.04v1.92h-1.04zM2 403.4h1.04v1.92h-1.04zM16 403.4h1.04v1.92h-1.04zM14 412.4h1.04v1.62h-1.04zM14 414.9h1.04v1.62h-1.04zM1 416.4h1.04v1.12h-1.04zM3 416.4h1.04v1.12h-1.04zM13 417.4h1.04v1.92h-1.04zM16 417.4h1.04v1.92h-1.04zM11 432.8h1.04v1.92h-1.04zM1 434.6h1.04v2.32h-1.04zM2 434.6h1.04v2.32h-1.04zM1 445.4h1.04v1.92h-1.04zM0 454.6h1.04v2.32h-1.04zM1 454.6h1.04v2.32h-1.04zM7 454.6h1.04v2.32h-1.04zM0 456.8h1.04v1.62h-1.04zM14 456.8h1.04v1.62h-1.04zM6 467.6h1.04v2.32h-1.04zM30 467.6h1.04v2.32h-1.04zM19 469.8h1.04v1.62h-1.04zM18 471.3h1.04v2.32h-1.04zM0 473.5h1.04v1.32h-1.04zM30 478.4h1.04v1.92h-1.04zM15 482.9h1.04v2.32h-1.04zM2 487.3h1.04v2.32h-1.04zM3 499.0h1.04v1.12h-1.04zM22 499.0h1.04v1.12h-1.04zM8 500.0h1.04v1.12h-1.04zM12 505.4h1.04v1.32h-1.04zM26 508.1h1.04v1.32h-1.04zM2 509.3h1.04v1.12h-1.04zM22 509.3h1.04v1.12h-1.04zM1 510.3h1.04v2.32h-1.04zM4 510.3h1.04v2.32h-1.04zM6 512.5h1.04v1.92h-1.04zM9 514.3h1.04v1.12h-1.04zM13 514.3h1.04v1.12h-1.04zM17 516.5h1.04v1.62h-1.04zM23 520.2h1.04v2.32h-1.04zM17 522.4h1.04v1.32h-1.04zM2 525.4h1.04v1.12h-1.04zM1 526.4h1.04v1.12h-1.04zM16 527.4h1.04v1.32h-1.04zM5 530.1h1.04v1.32h-1.04zM13 530.1h1.04v1.32h-1.04zM2 533.1h1.04v1.62h-1.04zM1 535.8h1.04v2.32h-1.04zM2 539.8h1.04v1.92h-1.04zM0 541.6h1.04v1.92h-1.04zM14 543.4h1.04v1.32h-1.04zM9 544.6h1.04v2.32h-1.04zM26 544.6h1.04v2.32h-1.04zM1 547.8h1.04v1.32h-1.04zM28 549.0h1.04v1.12h-1.04zM16 550.0h1.04v1.12h-1.04zM10 551.0h1.04v2.32h-1.04zM5 556.9h1.04v1.12h-1.04zM6 562.1h1.04v1.92h-1.04zM7 562.1h1.04v1.92h-1.04zM6 564.9h1.04v1.92h-1.04zM2 567.9h1.04v1.92h-1.04zM2 571.5h1.04v1.12h-1.04zM19 572.5h1.04v1.62h-1.04zM11 577.0h1.04v1.62h-1.04zM19 579.5h1.04v1.92h-1.04zM2 581.3h1.04v2.32h-1.04zM3 583.5h1.04v1.32h-1.04zM27 586.9h1.04v1.62h-1.04zM29 586.9h1.04v1.62h-1.04zM0 591.1h1.04v1.62h-1.04zM12 593.6h1.04v1.32h-1.04zM28 596.8h1.04v1.32h-1.04zM1 600.2h1.04v1.32h-1.04zM15 600.2h1.04v1.32h-1.04zM5 611.7h1.04v1.62h-1.04zM13 613.2h1.04v2.32h-1.04zM2 617.2h1.04v1.32h-1.04zM7 617.2h1.04v1.32h-1.04zM9 623.9h1.04v0.62h-1.04z"/>
<path fill="#F6CCBA" d="M26 395.8h1.04v1.12h-1.04zM18 398.6h1.04v1.62h-1.04zM22 403.4h1.04v1.92h-1.04zM27 405.2h1.04v1.12h-1.04zM17 407.7h1.04v1.12h-1.04zM12 410.2h1.04v2.32h-1.04zM23 414.9h1.04v1.62h-1.04zM7 417.4h1.04v1.92h-1.04zM26 417.4h1.04v1.92h-1.04zM0 419.2h1.04v2.32h-1.04zM18 431.3h1.04v1.62h-1.04zM3 432.8h1.04v1.92h-1.04zM3 438.0h1.04v2.32h-1.04zM24 441.2h1.04v1.32h-1.04zM16 442.4h1.04v1.92h-1.04zM14 447.2h1.04v1.62h-1.04zM19 450.2h1.04v2.32h-1.04zM5 452.4h1.04v2.32h-1.04zM18 458.3h1.04v2.32h-1.04zM1 466.1h1.04v1.62h-1.04zM9 466.1h1.04v1.62h-1.04zM12 471.3h1.04v2.32h-1.04zM13 478.4h1.04v1.92h-1.04zM22 489.5h1.04v2.32h-1.04zM7 496.0h1.04v1.92h-1.04zM23 508.1h1.04v1.32h-1.04zM17 509.3h1.04v1.12h-1.04zM8 516.5h1.04v1.62h-1.04zM7 523.6h1.04v1.92h-1.04zM28 525.4h1.04v1.12h-1.04zM6 531.3h1.04v1.92h-1.04zM29 531.3h1.04v1.92h-1.04zM17 533.1h1.04v1.62h-1.04zM6 539.8h1.04v1.92h-1.04zM21 547.8h1.04v1.32h-1.04zM30 547.8h1.04v1.32h-1.04zM29 549.0h1.04v1.12h-1.04z"/>
<path fill="#D87866" d="M29 395.8h1.04v1.12h-1.04zM28 432.8h1.04v1.92h-1.04zM31 438.0h1.04v2.32h-1.04zM31 471.3h1.04v2.32h-1.04zM28 496.0h1.04v1.92h-1.04zM31 526.4h1.04v1.12h-1.04z"/>
<path fill="#F6E4DE" d="M1 396.8h1.04v1.92h-1.04zM6 396.8h1.04v1.92h-1.04zM3 400.1h1.04v1.62h-1.04zM14 400.1h1.04v1.62h-1.04zM16 400.1h1.04v1.62h-1.04zM15 401.6h1.04v1.92h-1.04zM7 405.2h1.04v1.12h-1.04zM18 405.2h1.04v1.12h-1.04zM5 407.7h1.04v1.12h-1.04zM3 410.2h1.04v2.32h-1.04zM1 413.9h1.04v1.12h-1.04zM3 413.9h1.04v1.12h-1.04zM8 414.9h1.04v1.62h-1.04zM9 414.9h1.04v1.62h-1.04zM2 416.4h1.04v1.12h-1.04zM5 416.4h1.04v1.12h-1.04zM17 421.4h1.04v2.32h-1.04zM22 421.4h1.04v2.32h-1.04zM24 421.4h1.04v2.32h-1.04zM10 423.6h1.04v1.92h-1.04zM26 423.6h1.04v1.92h-1.04zM2 429.8h1.04v1.62h-1.04zM26 429.8h1.04v1.62h-1.04zM3 431.3h1.04v1.62h-1.04zM13 431.3h1.04v1.62h-1.04zM4 432.8h1.04v1.92h-1.04zM1 436.8h1.04v1.32h-1.04zM4 436.8h1.04v1.32h-1.04zM13 436.8h1.04v1.32h-1.04zM7 438.0h1.04v2.32h-1.04zM14 438.0h1.04v2.32h-1.04zM2 440.2h1.04v1.12h-1.04zM7 440.2h1.04v1.12h-1.04zM14 442.4h1.04v1.92h-1.04zM15 442.4h1.04v1.92h-1.04zM1 444.2h1.04v1.32h-1.04zM2 447.2h1.04v1.62h-1.04zM13 448.7h1.04v1.62h-1.04zM1 452.4h1.04v2.32h-1.04zM11 452.4h1.04v2.32h-1.04zM28 456.8h1.04v1.62h-1.04zM7 460.5h1.04v2.32h-1.04zM15 462.7h1.04v1.12h-1.04zM26 462.7h1.04v1.12h-1.04zM11 464.9h1.04v1.32h-1.04zM2 467.6h1.04v2.32h-1.04zM11 467.6h1.04v2.32h-1.04zM1 469.8h1.04v1.62h-1.04zM11 473.5h1.04v1.32h-1.04zM6 474.7h1.04v2.32h-1.04zM2 476.9h1.04v1.62h-1.04zM6 476.9h1.04v1.62h-1.04zM0 478.4h1.04v1.92h-1.04zM3 478.4h1.04v1.92h-1.04zM14 478.4h1.04v1.92h-1.04zM23 480.2h1.04v1.32h-1.04zM14 482.9h1.04v2.32h-1.04zM11 485.1h1.04v2.32h-1.04zM12 485.1h1.04v2.32h-1.04zM14 487.3h1.04v2.32h-1.04zM11 489.5h1.04v2.32h-1.04zM3 491.7h1.04v1.12h-1.04zM23 491.7h1.04v1.12h-1.04zM5 492.7h1.04v1.92h-1.04zM16 492.7h1.04v1.92h-1.04zM4 494.5h1.04v1.62h-1.04zM3 496.0h1.04v1.92h-1.04zM9 496.0h1.04v1.92h-1.04zM5 497.8h1.04v1.32h-1.04zM6 497.8h1.04v1.32h-1.04zM15 497.8h1.04v1.32h-1.04zM27 497.8h1.04v1.32h-1.04zM13 499.0h1.04v1.12h-1.04zM7 501.0h1.04v2.32h-1.04zM10 501.0h1.04v2.32h-1.04zM26 501.0h1.04v2.32h-1.04zM27 501.0h1.04v2.32h-1.04zM10 503.2h1.04v2.32h-1.04zM19 506.6h1.04v1.62h-1.04zM6 508.1h1.04v1.32h-1.04zM8 508.1h1.04v1.32h-1.04zM15 508.1h1.04v1.32h-1.04zM19 508.1h1.04v1.32h-1.04zM10 509.3h1.04v1.12h-1.04zM11 509.3h1.04v1.12h-1.04zM15 509.3h1.04v1.12h-1.04zM2 510.3h1.04v2.32h-1.04zM1 512.5h1.04v1.92h-1.04zM4 512.5h1.04v1.92h-1.04zM12 512.5h1.04v1.92h-1.04zM26 512.5h1.04v1.92h-1.04zM8 514.3h1.04v1.12h-1.04zM10 514.3h1.04v1.12h-1.04zM11 515.3h1.04v1.32h-1.04zM0 516.5h1.04v1.62h-1.04zM6 518.0h1.04v2.32h-1.04zM8 518.0h1.04v2.32h-1.04zM26 522.4h1.04v1.32h-1.04zM5 525.4h1.04v1.12h-1.04zM6 525.4h1.04v1.12h-1.04zM21 526.4h1.04v1.12h-1.04zM25 526.4h1.04v1.12h-1.04zM6 527.4h1.04v1.32h-1.04zM15 527.4h1.04v1.32h-1.04zM4 530.1h1.04v1.32h-1.04zM11 530.1h1.04v1.32h-1.04zM26 530.1h1.04v1.32h-1.04zM14 531.3h1.04v1.92h-1.04zM25 531.3h1.04v1.92h-1.04zM3 534.6h1.04v1.32h-1.04zM2 535.8h1.04v2.32h-1.04zM13 535.8h1.04v2.32h-1.04zM3 539.8h1.04v1.92h-1.04zM2 541.6h1.04v1.92h-1.04zM0 543.4h1.04v1.32h-1.04zM1 543.4h1.04v1.32h-1.04zM8 543.4h1.04v1.32h-1.04zM15 546.8h1.04v1.12h-1.04zM2 547.8h1.04v1.32h-1.04zM23 547.8h1.04v1.32h-1.04zM25 547.8h1.04v1.32h-1.04zM9 549.0h1.04v1.12h-1.04zM16 549.0h1.04v1.12h-1.04zM11 550.0h1.04v1.12h-1.04zM24 550.0h1.04v1.12h-1.04zM28 550.0h1.04v1.12h-1.04zM6 551.0h1.04v2.32h-1.04zM4 553.2h1.04v0.22h-1.04zM7 553.2h1.04v0.22h-1.04zM9 553.2h1.04v0.22h-1.04zM27 553.2h1.04v0.22h-1.04zM2 560.3h1.04v1.92h-1.04zM21 567.9h1.04v1.92h-1.04zM14 571.5h1.04v1.12h-1.04zM6 575.5h1.04v1.62h-1.04zM6 579.5h1.04v1.92h-1.04zM14 583.5h1.04v1.32h-1.04zM10 588.4h1.04v1.32h-1.04zM4 594.8h1.04v1.12h-1.04zM1 598.0h1.04v2.32h-1.04zM5 598.0h1.04v2.32h-1.04zM16 600.2h1.04v1.32h-1.04zM17 600.2h1.04v1.32h-1.04zM1 601.4h1.04v1.62h-1.04zM4 601.4h1.04v1.62h-1.04zM1 602.9h1.04v1.92h-1.04zM1 604.7h1.04v1.12h-1.04zM22 604.7h1.04v1.12h-1.04zM2 605.7h1.04v1.62h-1.04zM1 607.2h1.04v1.62h-1.04z"/>
<path fill="#F6EAEA" d="M3 396.8h1.04v1.92h-1.04zM13 400.1h1.04v1.62h-1.04zM16 401.6h1.04v1.92h-1.04zM5 405.2h1.04v1.12h-1.04zM1 414.9h1.04v1.62h-1.04zM8 416.4h1.04v1.12h-1.04zM2 419.2h1.04v2.32h-1.04zM16 419.2h1.04v2.32h-1.04zM13 421.4h1.04v2.32h-1.04zM10 429.8h1.04v1.62h-1.04zM24 431.3h1.04v1.62h-1.04zM6 438.0h1.04v2.32h-1.04zM0 441.2h1.04v1.32h-1.04zM3 444.2h1.04v1.32h-1.04zM15 448.7h1.04v1.62h-1.04zM15 454.6h1.04v2.32h-1.04zM30 463.7h1.04v1.32h-1.04zM15 471.3h1.04v2.32h-1.04zM9 478.4h1.04v1.92h-1.04zM7 489.5h1.04v2.32h-1.04zM0 491.7h1.04v1.12h-1.04zM24 491.7h1.04v1.12h-1.04zM0 499.0h1.04v1.12h-1.04zM19 500.0h1.04v1.12h-1.04zM3 503.2h1.04v2.32h-1.04zM8 503.2h1.04v2.32h-1.04zM1 508.1h1.04v1.32h-1.04zM7 508.1h1.04v1.32h-1.04zM11 510.3h1.04v2.32h-1.04zM26 510.3h1.04v2.32h-1.04zM3 512.5h1.04v1.92h-1.04zM26 515.3h1.04v1.32h-1.04zM5 522.4h1.04v1.32h-1.04zM1 523.6h1.04v1.92h-1.04zM26 523.6h1.04v1.92h-1.04zM10 530.1h1.04v1.32h-1.04zM10 538.0h1.04v1.92h-1.04zM8 541.6h1.04v1.92h-1.04zM5 543.4h1.04v1.32h-1.04zM0 544.6h1.04v2.32h-1.04zM6 547.8h1.04v1.32h-1.04zM13 549.0h1.04v1.12h-1.04zM6 550.0h1.04v1.12h-1.04zM28 555.4h1.04v1.62h-1.04zM28 562.1h1.04v1.92h-1.04zM16 563.9h1.04v1.12h-1.04zM19 571.5h1.04v1.12h-1.04zM13 584.7h1.04v2.32h-1.04zM19 595.8h1.04v1.12h-1.04zM16 601.4h1.04v1.62h-1.04zM19 607.2h1.04v1.62h-1.04zM16 613.2h1.04v2.32h-1.04zM2 615.4h1.04v1.92h-1.04zM3 618.4h1.04v1.92h-1.04zM9 622.7h1.04v1.32h-1.04z"/>
<path fill="#F6CCC0" d="M7 396.8h1.04v1.92h-1.04zM2 400.1h1.04v1.62h-1.04zM19 401.6h1.04v1.92h-1.04zM28 401.6h1.04v1.92h-1.04zM25 403.4h1.04v1.92h-1.04zM30 403.4h1.04v1.92h-1.04zM18 417.4h1.04v1.92h-1.04zM8 429.8h1.04v1.62h-1.04zM9 429.8h1.04v1.62h-1.04zM8 432.8h1.04v1.92h-1.04zM13 432.8h1.04v1.92h-1.04zM6 436.8h1.04v1.32h-1.04zM19 438.0h1.04v2.32h-1.04zM0 440.2h1.04v1.12h-1.04zM6 441.2h1.04v1.32h-1.04zM4 456.8h1.04v1.62h-1.04zM22 463.7h1.04v1.32h-1.04zM18 464.9h1.04v1.32h-1.04zM30 471.3h1.04v2.32h-1.04zM9 481.4h1.04v1.62h-1.04zM13 487.3h1.04v2.32h-1.04zM27 491.7h1.04v1.12h-1.04zM12 492.7h1.04v1.92h-1.04zM25 494.5h1.04v1.62h-1.04zM2 500.0h1.04v1.12h-1.04zM15 500.0h1.04v1.12h-1.04zM23 500.0h1.04v1.12h-1.04zM16 510.3h1.04v2.32h-1.04zM9 512.5h1.04v1.92h-1.04zM13 512.5h1.04v1.92h-1.04zM5 515.3h1.04v1.32h-1.04zM23 516.5h1.04v1.62h-1.04zM30 516.5h1.04v1.62h-1.04zM15 520.2h1.04v2.32h-1.04zM30 526.4h1.04v1.12h-1.04zM8 533.1h1.04v1.62h-1.04zM16 533.1h1.04v1.62h-1.04zM0 535.8h1.04v2.32h-1.04zM1 546.8h1.04v1.12h-1.04zM23 553.2h1.04v0.22h-1.04zM7 613.2h1.04v2.32h-1.04z"/>
<path fill="#EAEAF0" d="M8 396.8h1.04v1.92h-1.04zM0 412.4h1.04v1.62h-1.04zM1 423.6h1.04v1.92h-1.04zM26 432.8h1.04v1.92h-1.04zM1 441.2h1.04v1.32h-1.04zM5 441.2h1.04v1.32h-1.04zM26 447.2h1.04v1.62h-1.04zM3 466.1h1.04v1.62h-1.04zM7 471.3h1.04v2.32h-1.04zM3 476.9h1.04v1.62h-1.04zM7 491.7h1.04v1.12h-1.04zM6 492.7h1.04v1.92h-1.04zM10 492.7h1.04v1.92h-1.04zM2 497.8h1.04v1.32h-1.04zM5 510.3h1.04v2.32h-1.04zM0 514.3h1.04v1.12h-1.04zM10 528.6h1.04v1.62h-1.04zM2 530.1h1.04v1.32h-1.04zM1 560.3h1.04v1.92h-1.04zM2 562.1h1.04v1.92h-1.04zM11 564.9h1.04v1.92h-1.04zM1 571.5h1.04v1.12h-1.04zM24 571.5h1.04v1.12h-1.04zM7 577.0h1.04v1.62h-1.04zM10 577.0h1.04v1.62h-1.04zM26 577.0h1.04v1.62h-1.04zM15 578.5h1.04v1.12h-1.04zM7 581.3h1.04v2.32h-1.04zM27 584.7h1.04v2.32h-1.04zM28 591.1h1.04v1.62h-1.04zM6 592.6h1.04v1.12h-1.04zM8 593.6h1.04v1.32h-1.04zM4 595.8h1.04v1.12h-1.04zM0 596.8h1.04v1.32h-1.04zM4 598.0h1.04v2.32h-1.04zM2 601.4h1.04v1.62h-1.04zM5 601.4h1.04v1.62h-1.04zM15 607.2h1.04v1.62h-1.04zM21 607.2h1.04v1.62h-1.04zM22 608.7h1.04v1.92h-1.04zM6 610.5h1.04v1.32h-1.04zM19 611.7h1.04v1.62h-1.04zM5 617.2h1.04v1.32h-1.04zM13 617.2h1.04v1.32h-1.04zM2 618.4h1.04v1.92h-1.04zM20 620.2h1.04v1.62h-1.04zM27 621.7h1.04v1.12h-1.04zM16 622.7h1.04v1.32h-1.04zM20 623.9h1.04v0.62h-1.04zM27 623.9h1.04v0.62h-1.04z"/>
<path fill="#EAA88A" d="M10 396.8h1.04v1.92h-1.04zM15 398.6h1.04v1.62h-1.04zM10 400.1h1.04v1.62h-1.04zM7 401.6h1.04v1.92h-1.04zM26 401.6h1.04v1.92h-1.04zM21 405.2h1.04v1.12h-1.04zM25 407.7h1.04v1.12h-1.04zM9 408.7h1.04v1.62h-1.04zM9 419.2h1.04v2.32h-1.04zM13 428.8h1.04v1.12h-1.04zM18 428.8h1.04v1.12h-1.04zM1 440.2h1.04v1.12h-1.04zM19 444.2h1.04v1.32h-1.04zM31 452.4h1.04v2.32h-1.04zM4 454.6h1.04v2.32h-1.04zM24 458.3h1.04v2.32h-1.04zM28 463.7h1.04v1.32h-1.04zM29 469.8h1.04v1.62h-1.04zM12 494.5h1.04v1.62h-1.04zM20 503.2h1.04v2.32h-1.04zM21 510.3h1.04v2.32h-1.04zM27 510.3h1.04v2.32h-1.04zM18 516.5h1.04v1.62h-1.04zM25 530.1h1.04v1.32h-1.04zM21 535.8h1.04v2.32h-1.04zM27 551.0h1.04v2.32h-1.04z"/>
<path fill="#F0C6BA" d="M12 396.8h1.04v1.92h-1.04zM31 407.7h1.04v1.12h-1.04zM5 410.2h1.04v2.32h-1.04zM18 412.4h1.04v1.62h-1.04zM5 414.9h1.04v1.62h-1.04zM7 425.4h1.04v2.32h-1.04zM0 432.8h1.04v1.92h-1.04zM11 434.6h1.04v2.32h-1.04zM14 436.8h1.04v1.32h-1.04zM7 448.7h1.04v1.62h-1.04zM10 452.4h1.04v2.32h-1.04zM29 467.6h1.04v2.32h-1.04zM1 481.4h1.04v1.62h-1.04zM8 523.6h1.04v1.92h-1.04zM14 526.4h1.04v1.12h-1.04z"/>
<path fill="#EAA284" d="M28 396.8h1.04v1.92h-1.04zM27 403.4h1.04v1.92h-1.04zM12 406.2h1.04v1.62h-1.04zM7 410.2h1.04v2.32h-1.04zM12 436.8h1.04v1.32h-1.04zM30 442.4h1.04v1.92h-1.04zM23 452.4h1.04v2.32h-1.04zM29 462.7h1.04v1.12h-1.04zM18 480.2h1.04v1.32h-1.04zM4 485.1h1.04v2.32h-1.04zM19 487.3h1.04v2.32h-1.04zM16 497.8h1.04v1.32h-1.04zM7 509.3h1.04v1.12h-1.04z"/>
<path fill="#D87860" d="M31 396.8h1.04v1.92h-1.04zM4 400.1h1.04v1.62h-1.04zM31 408.7h1.04v1.62h-1.04zM20 413.9h1.04v1.12h-1.04zM27 414.9h1.04v1.62h-1.04zM29 427.6h1.04v1.32h-1.04zM9 431.3h1.04v1.62h-1.04zM18 434.6h1.04v2.32h-1.04zM4 438.0h1.04v2.32h-1.04zM29 444.2h1.04v1.32h-1.04zM27 448.7h1.04v1.62h-1.04zM16 454.6h1.04v2.32h-1.04zM31 473.5h1.04v1.32h-1.04zM28 492.7h1.04v1.92h-1.04zM20 501.0h1.04v2.32h-1.04zM28 508.1h1.04v1.32h-1.04zM18 526.4h1.04v1.12h-1.04zM28 528.6h1.04v1.62h-1.04zM22 533.1h1.04v1.62h-1.04zM12 546.8h1.04v1.12h-1.04zM18 550.0h1.04v1.12h-1.04z"/>
<path fill="#E49C7E" d="M11 398.6h1.04v1.62h-1.04zM17 400.1h1.04v1.62h-1.04zM28 400.1h1.04v1.62h-1.04zM11 401.6h1.04v1.92h-1.04zM9 403.4h1.04v1.92h-1.04zM10 406.2h1.04v1.62h-1.04zM17 410.2h1.04v2.32h-1.04zM22 414.9h1.04v1.62h-1.04zM26 414.9h1.04v1.62h-1.04zM27 416.4h1.04v1.12h-1.04zM1 427.6h1.04v1.32h-1.04zM14 431.3h1.04v1.62h-1.04zM15 438.0h1.04v2.32h-1.04zM22 438.0h1.04v2.32h-1.04zM21 440.2h1.04v1.12h-1.04zM9 448.7h1.04v1.62h-1.04zM21 454.6h1.04v2.32h-1.04zM6 458.3h1.04v2.32h-1.04zM10 460.5h1.04v2.32h-1.04zM5 471.3h1.04v2.32h-1.04zM24 471.3h1.04v2.32h-1.04zM26 476.9h1.04v1.62h-1.04zM25 480.2h1.04v1.32h-1.04zM18 481.4h1.04v1.62h-1.04zM9 482.9h1.04v2.32h-1.04zM24 485.1h1.04v2.32h-1.04zM28 497.8h1.04v1.32h-1.04zM18 503.2h1.04v2.32h-1.04zM21 505.4h1.04v1.32h-1.04zM20 506.6h1.04v1.62h-1.04zM29 509.3h1.04v1.12h-1.04zM15 522.4h1.04v1.32h-1.04zM23 522.4h1.04v1.32h-1.04zM21 523.6h1.04v1.92h-1.04zM29 523.6h1.04v1.92h-1.04zM27 528.6h1.04v1.62h-1.04zM29 530.1h1.04v1.32h-1.04zM17 541.6h1.04v1.92h-1.04zM21 544.6h1.04v2.32h-1.04zM20 553.2h1.04v0.22h-1.04z"/>
<path fill="#F0BAA8" d="M13 398.6h1.04v1.62h-1.04zM28 398.6h1.04v1.62h-1.04zM29 400.1h1.04v1.62h-1.04zM22 405.2h1.04v1.12h-1.04zM6 406.2h1.04v1.62h-1.04zM22 407.7h1.04v1.12h-1.04zM5 408.7h1.04v1.62h-1.04zM18 408.7h1.04v1.62h-1.04zM11 410.2h1.04v2.32h-1.04zM14 410.2h1.04v2.32h-1.04zM31 412.4h1.04v1.62h-1.04zM6 413.9h1.04v1.12h-1.04zM18 414.9h1.04v1.62h-1.04zM0 416.4h1.04v1.12h-1.04zM13 416.4h1.04v1.12h-1.04zM25 419.2h1.04v2.32h-1.04zM6 423.6h1.04v1.92h-1.04zM18 423.6h1.04v1.92h-1.04zM30 423.6h1.04v1.92h-1.04zM23 425.4h1.04v2.32h-1.04zM6 427.6h1.04v1.32h-1.04zM19 427.6h1.04v1.32h-1.04zM22 427.6h1.04v1.32h-1.04zM31 427.6h1.04v1.32h-1.04zM10 431.3h1.04v1.62h-1.04zM12 431.3h1.04v1.62h-1.04zM20 431.3h1.04v1.62h-1.04zM21 431.3h1.04v1.62h-1.04zM28 431.3h1.04v1.62h-1.04zM5 432.8h1.04v1.92h-1.04zM17 436.8h1.04v1.32h-1.04zM6 440.2h1.04v1.12h-1.04zM24 440.2h1.04v1.12h-1.04zM17 442.4h1.04v1.92h-1.04zM21 442.4h1.04v1.92h-1.04zM25 442.4h1.04v1.92h-1.04zM9 444.2h1.04v1.32h-1.04zM6 447.2h1.04v1.62h-1.04zM15 447.2h1.04v1.62h-1.04zM12 454.6h1.04v2.32h-1.04zM22 454.6h1.04v2.32h-1.04zM29 454.6h1.04v2.32h-1.04zM11 456.8h1.04v1.62h-1.04zM22 456.8h1.04v1.62h-1.04zM29 456.8h1.04v1.62h-1.04zM31 458.3h1.04v2.32h-1.04zM5 460.5h1.04v2.32h-1.04zM6 462.7h1.04v1.12h-1.04zM14 462.7h1.04v1.12h-1.04zM30 462.7h1.04v1.12h-1.04zM8 466.1h1.04v1.62h-1.04zM10 467.6h1.04v2.32h-1.04zM26 467.6h1.04v2.32h-1.04zM23 469.8h1.04v1.62h-1.04zM28 471.3h1.04v2.32h-1.04zM12 473.5h1.04v1.32h-1.04zM24 473.5h1.04v1.32h-1.04zM25 476.9h1.04v1.62h-1.04zM19 480.2h1.04v1.32h-1.04zM26 481.4h1.04v1.62h-1.04zM26 487.3h1.04v2.32h-1.04zM17 492.7h1.04v1.92h-1.04zM5 494.5h1.04v1.62h-1.04zM7 494.5h1.04v1.62h-1.04zM14 494.5h1.04v1.62h-1.04zM4 499.0h1.04v1.12h-1.04zM11 500.0h1.04v1.12h-1.04zM25 500.0h1.04v1.12h-1.04zM14 503.2h1.04v2.32h-1.04zM17 510.3h1.04v2.32h-1.04zM28 510.3h1.04v2.32h-1.04zM29 512.5h1.04v1.92h-1.04zM10 515.3h1.04v1.32h-1.04zM14 515.3h1.04v1.32h-1.04zM19 515.3h1.04v1.32h-1.04zM25 516.5h1.04v1.62h-1.04zM27 520.2h1.04v2.32h-1.04zM16 522.4h1.04v1.32h-1.04zM25 525.4h1.04v1.12h-1.04zM12 526.4h1.04v1.12h-1.04zM5 528.6h1.04v1.62h-1.04zM23 531.3h1.04v1.92h-1.04zM19 534.6h1.04v1.32h-1.04zM24 535.8h1.04v2.32h-1.04zM30 538.0h1.04v1.92h-1.04zM21 541.6h1.04v1.92h-1.04zM23 546.8h1.04v1.12h-1.04zM15 547.8h1.04v1.32h-1.04zM17 549.0h1.04v1.12h-1.04zM18 549.0h1.04v1.12h-1.04zM19 550.0h1.04v1.12h-1.04zM20 550.0h1.04v1.12h-1.04z"/>
<path fill="#F0CCBA" d="M14 398.6h1.04v1.62h-1.04zM13 405.2h1.04v1.12h-1.04zM23 407.7h1.04v1.12h-1.04zM16 408.7h1.04v1.62h-1.04zM29 410.2h1.04v2.32h-1.04zM25 413.9h1.04v1.12h-1.04zM16 414.9h1.04v1.62h-1.04zM24 414.9h1.04v1.62h-1.04zM18 419.2h1.04v2.32h-1.04zM24 419.2h1.04v2.32h-1.04zM25 429.8h1.04v1.62h-1.04zM27 432.8h1.04v1.92h-1.04zM31 436.8h1.04v1.32h-1.04zM28 438.0h1.04v2.32h-1.04zM19 441.2h1.04v1.32h-1.04zM7 442.4h1.04v1.92h-1.04zM13 442.4h1.04v1.92h-1.04zM11 445.4h1.04v1.92h-1.04zM5 447.2h1.04v1.62h-1.04zM13 454.6h1.04v2.32h-1.04zM10 456.8h1.04v1.62h-1.04zM27 458.3h1.04v2.32h-1.04zM12 460.5h1.04v2.32h-1.04zM27 462.7h1.04v1.12h-1.04zM5 463.7h1.04v1.32h-1.04zM1 467.6h1.04v2.32h-1.04zM5 467.6h1.04v2.32h-1.04zM15 469.8h1.04v1.62h-1.04zM6 471.3h1.04v2.32h-1.04zM22 471.3h1.04v2.32h-1.04zM5 473.5h1.04v1.32h-1.04zM6 473.5h1.04v1.32h-1.04zM25 473.5h1.04v1.32h-1.04zM26 473.5h1.04v1.32h-1.04zM7 476.9h1.04v1.62h-1.04zM16 476.9h1.04v1.62h-1.04zM27 480.2h1.04v1.32h-1.04zM28 482.9h1.04v2.32h-1.04zM11 487.3h1.04v2.32h-1.04zM25 487.3h1.04v2.32h-1.04zM17 489.5h1.04v2.32h-1.04zM28 489.5h1.04v2.32h-1.04zM19 492.7h1.04v1.92h-1.04zM18 501.0h1.04v2.32h-1.04zM22 503.2h1.04v2.32h-1.04zM29 505.4h1.04v1.32h-1.04zM10 506.6h1.04v1.62h-1.04zM15 510.3h1.04v2.32h-1.04zM18 510.3h1.04v2.32h-1.04zM15 512.5h1.04v1.92h-1.04zM7 516.5h1.04v1.62h-1.04zM9 516.5h1.04v1.62h-1.04zM29 518.0h1.04v2.32h-1.04zM25 520.2h1.04v2.32h-1.04zM26 527.4h1.04v1.32h-1.04zM30 527.4h1.04v1.32h-1.04zM24 533.1h1.04v1.62h-1.04zM1 534.6h1.04v1.32h-1.04zM10 534.6h1.04v1.32h-1.04zM18 534.6h1.04v1.32h-1.04zM24 534.6h1.04v1.32h-1.04zM11 538.0h1.04v1.92h-1.04zM11 539.8h1.04v1.92h-1.04zM28 539.8h1.04v1.92h-1.04zM4 543.4h1.04v1.32h-1.04zM29 544.6h1.04v2.32h-1.04zM12 547.8h1.04v1.32h-1.04zM4 550.0h1.04v1.12h-1.04zM17 553.2h1.04v0.22h-1.04z"/>
<path fill="#DE9072" d="M17 398.6h1.04v1.62h-1.04zM30 398.6h1.04v1.62h-1.04zM29 406.2h1.04v1.62h-1.04zM31 444.2h1.04v1.32h-1.04zM28 476.9h1.04v1.62h-1.04zM30 510.3h1.04v2.32h-1.04zM17 526.4h1.04v1.12h-1.04zM13 528.6h1.04v1.62h-1.04z"/>
<path fill="#D8846C" d="M20 398.6h1.04v1.62h-1.04zM25 398.6h1.04v1.62h-1.04zM9 401.6h1.04v1.92h-1.04zM4 408.7h1.04v1.62h-1.04zM20 408.7h1.04v1.62h-1.04zM21 414.9h1.04v1.62h-1.04zM20 416.4h1.04v1.12h-1.04zM20 432.8h1.04v1.92h-1.04zM27 441.2h1.04v1.32h-1.04zM29 448.7h1.04v1.62h-1.04zM22 460.5h1.04v2.32h-1.04zM20 462.7h1.04v1.12h-1.04zM10 464.9h1.04v1.32h-1.04zM21 464.9h1.04v1.32h-1.04zM22 466.1h1.04v1.62h-1.04zM24 478.4h1.04v1.92h-1.04zM21 485.1h1.04v2.32h-1.04zM23 510.3h1.04v2.32h-1.04zM31 515.3h1.04v1.32h-1.04zM18 528.6h1.04v1.62h-1.04zM18 531.3h1.04v1.92h-1.04zM23 533.1h1.04v1.62h-1.04zM28 534.6h1.04v1.32h-1.04zM29 534.6h1.04v1.32h-1.04z"/>
<path fill="#EAAE9C" d="M27 398.6h1.04v1.62h-1.04zM9 400.1h1.04v1.62h-1.04zM23 408.7h1.04v1.62h-1.04zM28 410.2h1.04v2.32h-1.04zM18 413.9h1.04v1.12h-1.04zM23 431.3h1.04v1.62h-1.04zM22 441.2h1.04v1.32h-1.04zM16 445.4h1.04v1.92h-1.04zM16 462.7h1.04v1.12h-1.04zM31 462.7h1.04v1.12h-1.04zM7 464.9h1.04v1.32h-1.04zM18 485.1h1.04v2.32h-1.04zM5 487.3h1.04v2.32h-1.04zM4 491.7h1.04v1.12h-1.04zM13 527.4h1.04v1.32h-1.04zM20 541.6h1.04v1.92h-1.04zM12 543.4h1.04v1.32h-1.04zM16 546.8h1.04v1.12h-1.04z"/>
<path fill="#D27260" d="M29 398.6h1.04v1.62h-1.04zM17 401.6h1.04v1.92h-1.04zM29 405.2h1.04v1.12h-1.04zM21 419.2h1.04v2.32h-1.04zM18 444.2h1.04v1.32h-1.04zM6 445.4h1.04v1.92h-1.04zM20 463.7h1.04v1.32h-1.04zM21 478.4h1.04v1.92h-1.04zM21 500.0h1.04v1.12h-1.04zM27 512.5h1.04v1.92h-1.04zM15 528.6h1.04v1.62h-1.04zM19 533.1h1.04v1.62h-1.04zM29 533.1h1.04v1.62h-1.04z"/>
<path fill="#B4363C" d="M31 398.6h1.04v1.62h-1.04zM21 473.5h1.04v1.32h-1.04z"/>
<path fill="#F6EADE" d="M0 400.1h1.04v1.62h-1.04zM0 421.4h1.04v2.32h-1.04zM8 434.6h1.04v2.32h-1.04zM3 454.6h1.04v2.32h-1.04zM6 481.4h1.04v1.62h-1.04zM25 481.4h1.04v1.62h-1.04zM0 520.2h1.04v2.32h-1.04zM26 546.8h1.04v1.12h-1.04zM28 577.0h1.04v1.62h-1.04z"/>
<path fill="#EAF0F0" d="M1 400.1h1.04v1.62h-1.04zM3 406.2h1.04v1.62h-1.04zM1 407.7h1.04v1.12h-1.04zM8 408.7h1.04v1.62h-1.04zM10 408.7h1.04v1.62h-1.04zM2 412.4h1.04v1.62h-1.04zM1 428.8h1.04v1.12h-1.04zM13 429.8h1.04v1.62h-1.04zM0 436.8h1.04v1.32h-1.04zM3 436.8h1.04v1.32h-1.04zM8 436.8h1.04v1.32h-1.04zM9 438.0h1.04v2.32h-1.04zM3 441.2h1.04v1.32h-1.04zM3 442.4h1.04v1.92h-1.04zM2 445.4h1.04v1.92h-1.04zM26 454.6h1.04v2.32h-1.04zM12 469.8h1.04v1.62h-1.04zM11 474.7h1.04v2.32h-1.04zM19 474.7h1.04v2.32h-1.04zM1 489.5h1.04v2.32h-1.04zM0 492.7h1.04v1.92h-1.04zM14 492.7h1.04v1.92h-1.04zM14 496.0h1.04v1.92h-1.04zM9 497.8h1.04v1.32h-1.04zM7 499.0h1.04v1.12h-1.04zM10 499.0h1.04v1.12h-1.04zM3 509.3h1.04v1.12h-1.04zM6 509.3h1.04v1.12h-1.04zM6 510.3h1.04v2.32h-1.04zM9 520.2h1.04v2.32h-1.04zM2 527.4h1.04v1.32h-1.04zM3 533.1h1.04v1.62h-1.04zM7 539.8h1.04v1.92h-1.04zM8 544.6h1.04v2.32h-1.04zM16 544.6h1.04v2.32h-1.04zM14 546.8h1.04v1.12h-1.04zM16 547.8h1.04v1.32h-1.04zM8 550.0h1.04v1.12h-1.04zM9 550.0h1.04v1.12h-1.04zM0 556.9h1.04v1.12h-1.04zM28 556.9h1.04v1.12h-1.04zM16 557.9h1.04v1.32h-1.04zM7 560.3h1.04v1.92h-1.04zM11 560.3h1.04v1.92h-1.04zM22 560.3h1.04v1.92h-1.04zM27 562.1h1.04v1.92h-1.04zM15 563.9h1.04v1.12h-1.04zM28 563.9h1.04v1.12h-1.04zM19 564.9h1.04v1.92h-1.04zM28 564.9h1.04v1.92h-1.04zM4 566.7h1.04v1.32h-1.04zM28 566.7h1.04v1.32h-1.04zM17 569.7h1.04v1.92h-1.04zM6 571.5h1.04v1.12h-1.04zM9 571.5h1.04v1.12h-1.04zM26 572.5h1.04v1.62h-1.04zM3 574.0h1.04v1.62h-1.04zM6 574.0h1.04v1.62h-1.04zM12 574.0h1.04v1.62h-1.04zM24 574.0h1.04v1.62h-1.04zM9 577.0h1.04v1.62h-1.04zM12 577.0h1.04v1.62h-1.04zM14 577.0h1.04v1.62h-1.04zM5 578.5h1.04v1.12h-1.04zM6 578.5h1.04v1.12h-1.04zM1 579.5h1.04v1.92h-1.04zM7 579.5h1.04v1.92h-1.04zM23 581.3h1.04v2.32h-1.04zM1 583.5h1.04v1.32h-1.04zM2 583.5h1.04v1.32h-1.04zM21 583.5h1.04v1.32h-1.04zM4 584.7h1.04v2.32h-1.04zM0 586.9h1.04v1.62h-1.04zM22 588.4h1.04v1.32h-1.04zM7 591.1h1.04v1.62h-1.04zM8 591.1h1.04v1.62h-1.04zM19 592.6h1.04v1.12h-1.04zM5 593.6h1.04v1.32h-1.04zM0 594.8h1.04v1.12h-1.04zM1 594.8h1.04v1.12h-1.04zM3 594.8h1.04v1.12h-1.04zM5 595.8h1.04v1.12h-1.04zM19 598.0h1.04v2.32h-1.04zM0 600.2h1.04v1.32h-1.04zM10 600.2h1.04v1.32h-1.04zM27 600.2h1.04v1.32h-1.04zM2 602.9h1.04v1.92h-1.04zM16 602.9h1.04v1.92h-1.04zM4 604.7h1.04v1.12h-1.04zM3 607.2h1.04v1.62h-1.04zM16 607.2h1.04v1.62h-1.04zM5 610.5h1.04v1.32h-1.04zM7 611.7h1.04v1.62h-1.04zM9 613.2h1.04v2.32h-1.04zM19 613.2h1.04v2.32h-1.04zM1 615.4h1.04v1.92h-1.04zM13 615.4h1.04v1.92h-1.04zM10 621.7h1.04v1.12h-1.04zM18 621.7h1.04v1.12h-1.04zM19 621.7h1.04v1.12h-1.04zM20 621.7h1.04v1.12h-1.04z"/>
<path fill="#EAAE90" d="M18 400.1h1.04v1.62h-1.04zM13 425.4h1.04v2.32h-1.04zM30 431.3h1.04v1.62h-1.04zM30 489.5h1.04v2.32h-1.04zM16 499.0h1.04v1.12h-1.04zM24 510.3h1.04v2.32h-1.04zM29 514.3h1.04v1.12h-1.04zM18 525.4h1.04v1.12h-1.04zM30 531.3h1.04v1.92h-1.04zM0 538.0h1.04v1.92h-1.04z"/>
<path fill="#C04842" d="M31 400.1h1.04v1.62h-1.04z"/>
<path fill="#AE2A30" d="M4 401.6h1.04v1.92h-1.04zM31 492.7h1.04v1.92h-1.04zM31 506.6h1.04v1.62h-1.04zM31 522.4h1.04v1.32h-1.04zM31 533.1h1.04v1.62h-1.04z"/>
<path fill="#D26C5A" d="M20 401.6h1.04v1.92h-1.04zM20 405.2h1.04v1.12h-1.04zM19 406.2h1.04v1.62h-1.04zM27 410.2h1.04v2.32h-1.04zM7 413.9h1.04v1.12h-1.04zM21 423.6h1.04v1.92h-1.04zM20 444.2h1.04v1.32h-1.04zM21 450.2h1.04v2.32h-1.04zM10 463.7h1.04v1.32h-1.04zM24 466.1h1.04v1.62h-1.04zM31 499.0h1.04v1.12h-1.04zM27 509.3h1.04v1.12h-1.04zM31 520.2h1.04v2.32h-1.04zM20 546.8h1.04v1.12h-1.04z"/>
<path fill="#C65A4E" d="M31 401.6h1.04v1.92h-1.04zM21 408.7h1.04v1.62h-1.04zM4 410.2h1.04v2.32h-1.04zM21 417.4h1.04v1.92h-1.04zM21 427.6h1.04v1.32h-1.04zM20 434.6h1.04v2.32h-1.04zM6 444.2h1.04v1.32h-1.04zM17 463.7h1.04v1.32h-1.04zM21 466.1h1.04v1.62h-1.04zM31 485.1h1.04v2.32h-1.04zM31 494.5h1.04v1.62h-1.04zM31 528.6h1.04v1.62h-1.04z"/>
<path fill="#C6D8EA" d="M3 403.4h1.04v1.92h-1.04zM3 456.8h1.04v1.62h-1.04zM3 467.6h1.04v2.32h-1.04zM3 473.5h1.04v1.32h-1.04zM10 555.4h1.04v1.62h-1.04zM15 555.4h1.04v1.62h-1.04zM3 556.9h1.04v1.12h-1.04zM16 556.9h1.04v1.12h-1.04zM13 557.9h1.04v1.32h-1.04zM14 557.9h1.04v1.32h-1.04zM30 557.9h1.04v1.32h-1.04zM12 559.1h1.04v1.32h-1.04zM17 559.1h1.04v1.32h-1.04zM13 560.3h1.04v1.92h-1.04zM19 562.1h1.04v1.92h-1.04zM26 562.1h1.04v1.92h-1.04zM0 563.9h1.04v1.12h-1.04zM14 563.9h1.04v1.12h-1.04zM22 563.9h1.04v1.12h-1.04zM30 563.9h1.04v1.12h-1.04zM10 566.7h1.04v1.32h-1.04zM11 566.7h1.04v1.32h-1.04zM18 566.7h1.04v1.32h-1.04zM23 566.7h1.04v1.32h-1.04zM23 567.9h1.04v1.92h-1.04zM30 567.9h1.04v1.92h-1.04zM4 569.7h1.04v1.92h-1.04zM6 569.7h1.04v1.92h-1.04zM18 569.7h1.04v1.92h-1.04zM27 572.5h1.04v1.62h-1.04zM5 574.0h1.04v1.62h-1.04zM9 575.5h1.04v1.62h-1.04zM10 575.5h1.04v1.62h-1.04zM12 575.5h1.04v1.62h-1.04zM15 575.5h1.04v1.62h-1.04zM21 575.5h1.04v1.62h-1.04zM8 577.0h1.04v1.62h-1.04zM16 577.0h1.04v1.62h-1.04zM9 578.5h1.04v1.12h-1.04zM24 578.5h1.04v1.12h-1.04zM25 578.5h1.04v1.12h-1.04zM4 579.5h1.04v1.92h-1.04zM8 581.3h1.04v2.32h-1.04zM16 581.3h1.04v2.32h-1.04zM0 583.5h1.04v1.32h-1.04zM10 586.9h1.04v1.62h-1.04zM6 588.4h1.04v1.32h-1.04zM2 589.6h1.04v1.62h-1.04zM28 589.6h1.04v1.62h-1.04zM23 591.1h1.04v1.62h-1.04zM5 592.6h1.04v1.12h-1.04zM18 592.6h1.04v1.12h-1.04zM23 592.6h1.04v1.12h-1.04zM24 592.6h1.04v1.12h-1.04zM7 593.6h1.04v1.32h-1.04zM21 593.6h1.04v1.32h-1.04zM31 593.6h1.04v1.32h-1.04zM5 594.8h1.04v1.12h-1.04zM22 594.8h1.04v1.12h-1.04zM28 594.8h1.04v1.12h-1.04zM7 595.8h1.04v1.12h-1.04zM9 595.8h1.04v1.12h-1.04zM9 598.0h1.04v2.32h-1.04zM28 598.0h1.04v2.32h-1.04zM4 600.2h1.04v1.32h-1.04zM9 600.2h1.04v1.32h-1.04zM21 600.2h1.04v1.32h-1.04zM20 602.9h1.04v1.92h-1.04zM11 604.7h1.04v1.12h-1.04zM21 604.7h1.04v1.12h-1.04zM22 605.7h1.04v1.62h-1.04zM29 605.7h1.04v1.62h-1.04zM6 607.2h1.04v1.62h-1.04zM12 607.2h1.04v1.62h-1.04zM31 607.2h1.04v1.62h-1.04zM21 611.7h1.04v1.62h-1.04zM30 618.4h1.04v1.92h-1.04zM7 620.2h1.04v1.62h-1.04zM8 621.7h1.04v1.12h-1.04zM22 621.7h1.04v1.12h-1.04zM24 621.7h1.04v1.12h-1.04zM29 622.7h1.04v1.32h-1.04zM11 623.9h1.04v0.62h-1.04zM16 623.9h1.04v0.62h-1.04zM26 623.9h1.04v0.62h-1.04z"/>
<path fill="#D2725A" d="M20 403.4h1.04v1.92h-1.04zM25 406.2h1.04v1.62h-1.04zM30 406.2h1.04v1.62h-1.04zM4 413.9h1.04v1.12h-1.04zM27 419.2h1.04v2.32h-1.04zM14 427.6h1.04v1.32h-1.04zM20 428.8h1.04v1.12h-1.04zM27 428.8h1.04v1.12h-1.04zM31 434.6h1.04v2.32h-1.04zM27 442.4h1.04v1.92h-1.04zM18 445.4h1.04v1.92h-1.04zM21 447.2h1.04v1.62h-1.04zM20 456.8h1.04v1.62h-1.04zM27 487.3h1.04v2.32h-1.04zM30 494.5h1.04v1.62h-1.04zM18 496.0h1.04v1.92h-1.04zM31 500.0h1.04v1.12h-1.04zM21 501.0h1.04v2.32h-1.04zM17 528.6h1.04v1.62h-1.04zM31 535.8h1.04v2.32h-1.04zM30 539.8h1.04v1.92h-1.04zM31 553.2h1.04v0.22h-1.04z"/>
<path fill="#E4EAF0" d="M3 405.2h1.04v1.12h-1.04zM8 410.2h1.04v2.32h-1.04zM15 423.6h1.04v1.92h-1.04zM0 438.0h1.04v2.32h-1.04zM0 444.2h1.04v1.32h-1.04zM25 448.7h1.04v1.62h-1.04zM25 454.6h1.04v2.32h-1.04zM2 456.8h1.04v1.62h-1.04zM2 462.7h1.04v1.12h-1.04zM0 463.7h1.04v1.32h-1.04zM11 469.8h1.04v1.62h-1.04zM15 473.5h1.04v1.32h-1.04zM0 474.7h1.04v2.32h-1.04zM25 474.7h1.04v2.32h-1.04zM0 476.9h1.04v1.62h-1.04zM2 481.4h1.04v1.62h-1.04zM22 481.4h1.04v1.62h-1.04zM14 491.7h1.04v1.12h-1.04zM10 496.0h1.04v1.92h-1.04zM11 499.0h1.04v1.12h-1.04zM2 501.0h1.04v2.32h-1.04zM8 501.0h1.04v2.32h-1.04zM3 505.4h1.04v1.32h-1.04zM3 508.1h1.04v1.32h-1.04zM5 518.0h1.04v2.32h-1.04zM26 539.8h1.04v1.92h-1.04zM6 543.4h1.04v1.32h-1.04zM3 544.6h1.04v2.32h-1.04zM6 549.0h1.04v1.12h-1.04zM7 549.0h1.04v1.12h-1.04zM2 556.9h1.04v1.12h-1.04zM7 556.9h1.04v1.12h-1.04zM27 556.9h1.04v1.12h-1.04zM30 556.9h1.04v1.12h-1.04zM1 557.9h1.04v1.32h-1.04zM5 557.9h1.04v1.32h-1.04zM12 557.9h1.04v1.32h-1.04zM24 557.9h1.04v1.32h-1.04zM27 557.9h1.04v1.32h-1.04zM29 557.9h1.04v1.32h-1.04zM6 559.1h1.04v1.32h-1.04zM15 559.1h1.04v1.32h-1.04zM16 560.3h1.04v1.92h-1.04zM12 562.1h1.04v1.92h-1.04zM13 562.1h1.04v1.92h-1.04zM4 563.9h1.04v1.12h-1.04zM6 563.9h1.04v1.12h-1.04zM8 563.9h1.04v1.12h-1.04zM20 563.9h1.04v1.12h-1.04zM9 564.9h1.04v1.92h-1.04zM10 564.9h1.04v1.92h-1.04zM14 564.9h1.04v1.92h-1.04zM15 564.9h1.04v1.92h-1.04zM22 564.9h1.04v1.92h-1.04zM20 566.7h1.04v1.32h-1.04zM21 566.7h1.04v1.32h-1.04zM6 567.9h1.04v1.92h-1.04zM9 567.9h1.04v1.92h-1.04zM17 567.9h1.04v1.92h-1.04zM15 569.7h1.04v1.92h-1.04zM24 569.7h1.04v1.92h-1.04zM26 571.5h1.04v1.12h-1.04zM29 571.5h1.04v1.12h-1.04zM30 571.5h1.04v1.12h-1.04zM3 572.5h1.04v1.62h-1.04zM6 572.5h1.04v1.62h-1.04zM15 572.5h1.04v1.62h-1.04zM24 572.5h1.04v1.62h-1.04zM30 572.5h1.04v1.62h-1.04zM26 575.5h1.04v1.62h-1.04zM28 575.5h1.04v1.62h-1.04zM4 577.0h1.04v1.62h-1.04zM15 577.0h1.04v1.62h-1.04zM20 577.0h1.04v1.62h-1.04zM21 577.0h1.04v1.62h-1.04zM29 577.0h1.04v1.62h-1.04zM16 578.5h1.04v1.12h-1.04zM19 578.5h1.04v1.12h-1.04zM26 578.5h1.04v1.12h-1.04zM28 578.5h1.04v1.12h-1.04zM11 579.5h1.04v1.92h-1.04zM26 579.5h1.04v1.92h-1.04zM27 581.3h1.04v2.32h-1.04zM10 583.5h1.04v1.32h-1.04zM13 583.5h1.04v1.32h-1.04zM15 583.5h1.04v1.32h-1.04zM2 584.7h1.04v2.32h-1.04zM6 584.7h1.04v2.32h-1.04zM1 586.9h1.04v1.62h-1.04zM4 586.9h1.04v1.62h-1.04zM9 586.9h1.04v1.62h-1.04zM14 586.9h1.04v1.62h-1.04zM27 588.4h1.04v1.32h-1.04zM4 589.6h1.04v1.62h-1.04zM8 589.6h1.04v1.62h-1.04zM13 589.6h1.04v1.62h-1.04zM24 589.6h1.04v1.62h-1.04zM9 591.1h1.04v1.62h-1.04zM14 591.1h1.04v1.62h-1.04zM22 592.6h1.04v1.12h-1.04zM27 592.6h1.04v1.12h-1.04zM8 595.8h1.04v1.12h-1.04zM11 595.8h1.04v1.12h-1.04zM6 596.8h1.04v1.32h-1.04zM7 596.8h1.04v1.32h-1.04zM14 596.8h1.04v1.32h-1.04zM21 596.8h1.04v1.32h-1.04zM29 598.0h1.04v2.32h-1.04zM30 600.2h1.04v1.32h-1.04zM7 601.4h1.04v1.62h-1.04zM8 601.4h1.04v1.62h-1.04zM13 601.4h1.04v1.62h-1.04zM15 601.4h1.04v1.62h-1.04zM22 601.4h1.04v1.62h-1.04zM28 601.4h1.04v1.62h-1.04zM30 601.4h1.04v1.62h-1.04zM0 602.9h1.04v1.92h-1.04zM13 602.9h1.04v1.92h-1.04zM5 604.7h1.04v1.12h-1.04zM7 604.7h1.04v1.12h-1.04zM12 604.7h1.04v1.12h-1.04zM15 604.7h1.04v1.12h-1.04zM0 605.7h1.04v1.62h-1.04zM3 605.7h1.04v1.62h-1.04zM4 605.7h1.04v1.62h-1.04zM5 605.7h1.04v1.62h-1.04zM15 605.7h1.04v1.62h-1.04zM4 607.2h1.04v1.62h-1.04zM5 607.2h1.04v1.62h-1.04zM28 607.2h1.04v1.62h-1.04zM3 608.7h1.04v1.92h-1.04zM13 608.7h1.04v1.92h-1.04zM28 608.7h1.04v1.92h-1.04zM29 608.7h1.04v1.92h-1.04zM3 610.5h1.04v1.32h-1.04zM17 610.5h1.04v1.32h-1.04zM19 610.5h1.04v1.32h-1.04zM27 610.5h1.04v1.32h-1.04zM28 610.5h1.04v1.32h-1.04zM6 611.7h1.04v1.62h-1.04zM13 611.7h1.04v1.62h-1.04zM22 611.7h1.04v1.62h-1.04zM20 613.2h1.04v2.32h-1.04zM27 613.2h1.04v2.32h-1.04zM20 617.2h1.04v1.32h-1.04zM21 617.2h1.04v1.32h-1.04zM20 618.4h1.04v1.92h-1.04zM11 620.2h1.04v1.62h-1.04zM27 620.2h1.04v1.62h-1.04zM27 622.7h1.04v1.32h-1.04zM8 623.9h1.04v0.62h-1.04zM29 623.9h1.04v0.62h-1.04z"/>
<path fill="#D87E6C" d="M4 405.2h1.04v1.12h-1.04zM29 447.2h1.04v1.62h-1.04zM28 481.4h1.04v1.62h-1.04zM29 503.2h1.04v2.32h-1.04z"/>
<path fill="#D8E4F0" d="M2 406.2h1.04v1.62h-1.04zM3 407.7h1.04v1.12h-1.04zM0 445.4h1.04v1.92h-1.04zM0 448.7h1.04v1.62h-1.04zM25 452.4h1.04v2.32h-1.04zM3 460.5h1.04v2.32h-1.04zM3 474.7h1.04v2.32h-1.04zM1 497.8h1.04v1.32h-1.04zM1 499.0h1.04v1.12h-1.04zM3 506.6h1.04v1.62h-1.04zM6 506.6h1.04v1.62h-1.04zM3 515.3h1.04v1.32h-1.04zM1 520.2h1.04v2.32h-1.04zM7 534.6h1.04v1.32h-1.04zM3 549.0h1.04v1.12h-1.04zM5 550.0h1.04v1.12h-1.04zM1 555.4h1.04v1.62h-1.04zM5 555.4h1.04v1.62h-1.04zM18 555.4h1.04v1.62h-1.04zM19 555.4h1.04v1.62h-1.04zM4 556.9h1.04v1.12h-1.04zM6 556.9h1.04v1.12h-1.04zM10 556.9h1.04v1.12h-1.04zM11 556.9h1.04v1.12h-1.04zM12 556.9h1.04v1.12h-1.04zM22 556.9h1.04v1.12h-1.04zM29 556.9h1.04v1.12h-1.04zM19 557.9h1.04v1.32h-1.04zM28 557.9h1.04v1.32h-1.04zM3 559.1h1.04v1.32h-1.04zM22 559.1h1.04v1.32h-1.04zM28 559.1h1.04v1.32h-1.04zM4 560.3h1.04v1.92h-1.04zM6 560.3h1.04v1.92h-1.04zM15 560.3h1.04v1.92h-1.04zM28 560.3h1.04v1.92h-1.04zM0 562.1h1.04v1.92h-1.04zM4 562.1h1.04v1.92h-1.04zM11 562.1h1.04v1.92h-1.04zM15 562.1h1.04v1.92h-1.04zM1 563.9h1.04v1.12h-1.04zM9 563.9h1.04v1.12h-1.04zM19 563.9h1.04v1.12h-1.04zM29 563.9h1.04v1.12h-1.04zM0 564.9h1.04v1.92h-1.04zM21 564.9h1.04v1.92h-1.04zM30 564.9h1.04v1.92h-1.04zM15 566.7h1.04v1.32h-1.04zM16 566.7h1.04v1.32h-1.04zM4 567.9h1.04v1.92h-1.04zM10 567.9h1.04v1.92h-1.04zM11 567.9h1.04v1.92h-1.04zM25 567.9h1.04v1.92h-1.04zM7 569.7h1.04v1.92h-1.04zM19 569.7h1.04v1.92h-1.04zM20 569.7h1.04v1.92h-1.04zM29 569.7h1.04v1.92h-1.04zM0 571.5h1.04v1.12h-1.04zM4 572.5h1.04v1.62h-1.04zM7 574.0h1.04v1.62h-1.04zM2 575.5h1.04v1.62h-1.04zM13 575.5h1.04v1.62h-1.04zM17 575.5h1.04v1.62h-1.04zM24 575.5h1.04v1.62h-1.04zM5 577.0h1.04v1.62h-1.04zM6 577.0h1.04v1.62h-1.04zM13 578.5h1.04v1.12h-1.04zM14 578.5h1.04v1.12h-1.04zM29 578.5h1.04v1.12h-1.04zM30 578.5h1.04v1.12h-1.04zM15 579.5h1.04v1.92h-1.04zM18 579.5h1.04v1.92h-1.04zM22 579.5h1.04v1.92h-1.04zM27 579.5h1.04v1.92h-1.04zM1 581.3h1.04v2.32h-1.04zM5 581.3h1.04v2.32h-1.04zM14 581.3h1.04v2.32h-1.04zM24 581.3h1.04v2.32h-1.04zM25 581.3h1.04v2.32h-1.04zM26 583.5h1.04v1.32h-1.04zM31 583.5h1.04v1.32h-1.04zM8 584.7h1.04v2.32h-1.04zM10 584.7h1.04v2.32h-1.04zM12 584.7h1.04v2.32h-1.04zM20 584.7h1.04v2.32h-1.04zM21 584.7h1.04v2.32h-1.04zM28 584.7h1.04v2.32h-1.04zM15 586.9h1.04v1.62h-1.04zM19 586.9h1.04v1.62h-1.04zM2 588.4h1.04v1.32h-1.04zM5 588.4h1.04v1.32h-1.04zM17 588.4h1.04v1.32h-1.04zM23 588.4h1.04v1.32h-1.04zM1 589.6h1.04v1.62h-1.04zM3 589.6h1.04v1.62h-1.04zM10 589.6h1.04v1.62h-1.04zM4 591.1h1.04v1.62h-1.04zM13 591.1h1.04v1.62h-1.04zM15 591.1h1.04v1.62h-1.04zM18 591.1h1.04v1.62h-1.04zM29 591.1h1.04v1.62h-1.04zM7 592.6h1.04v1.12h-1.04zM29 592.6h1.04v1.12h-1.04zM30 592.6h1.04v1.12h-1.04zM11 593.6h1.04v1.32h-1.04zM15 593.6h1.04v1.32h-1.04zM17 593.6h1.04v1.32h-1.04zM23 593.6h1.04v1.32h-1.04zM16 594.8h1.04v1.12h-1.04zM17 594.8h1.04v1.12h-1.04zM17 595.8h1.04v1.12h-1.04zM29 595.8h1.04v1.12h-1.04zM4 596.8h1.04v1.32h-1.04zM12 596.8h1.04v1.32h-1.04zM15 596.8h1.04v1.32h-1.04zM10 601.4h1.04v1.62h-1.04zM11 601.4h1.04v1.62h-1.04zM12 601.4h1.04v1.62h-1.04zM5 602.9h1.04v1.92h-1.04zM7 602.9h1.04v1.92h-1.04zM10 602.9h1.04v1.92h-1.04zM9 604.7h1.04v1.12h-1.04zM16 604.7h1.04v1.12h-1.04zM9 605.7h1.04v1.62h-1.04zM14 605.7h1.04v1.62h-1.04zM16 605.7h1.04v1.62h-1.04zM9 607.2h1.04v1.62h-1.04zM5 608.7h1.04v1.92h-1.04zM6 608.7h1.04v1.92h-1.04zM9 608.7h1.04v1.92h-1.04zM10 608.7h1.04v1.92h-1.04zM15 608.7h1.04v1.92h-1.04zM30 608.7h1.04v1.92h-1.04zM8 610.5h1.04v1.32h-1.04zM29 610.5h1.04v1.32h-1.04zM16 611.7h1.04v1.62h-1.04zM20 611.7h1.04v1.62h-1.04zM28 611.7h1.04v1.62h-1.04zM12 613.2h1.04v2.32h-1.04zM29 613.2h1.04v2.32h-1.04zM30 613.2h1.04v2.32h-1.04zM9 617.2h1.04v1.32h-1.04zM18 617.2h1.04v1.32h-1.04zM10 618.4h1.04v1.92h-1.04zM21 618.4h1.04v1.92h-1.04zM24 618.4h1.04v1.92h-1.04zM8 620.2h1.04v1.62h-1.04zM14 620.2h1.04v1.62h-1.04zM19 620.2h1.04v1.62h-1.04zM4 621.7h1.04v1.12h-1.04zM4 622.7h1.04v1.32h-1.04zM5 622.7h1.04v1.32h-1.04zM8 622.7h1.04v1.32h-1.04zM10 622.7h1.04v1.32h-1.04zM15 622.7h1.04v1.32h-1.04zM22 622.7h1.04v1.32h-1.04zM5 623.9h1.04v0.62h-1.04zM6 623.9h1.04v0.62h-1.04zM21 623.9h1.04v0.62h-1.04z"/>
<path fill="#DE8A6C" d="M20 406.2h1.04v1.62h-1.04zM29 434.6h1.04v2.32h-1.04zM23 438.0h1.04v2.32h-1.04z"/>
<path fill="#DEEAF0" d="M1 408.7h1.04v1.62h-1.04zM8 412.4h1.04v1.62h-1.04zM15 441.2h1.04v1.32h-1.04zM0 452.4h1.04v2.32h-1.04zM15 499.0h1.04v1.12h-1.04zM2 506.6h1.04v1.62h-1.04zM9 518.0h1.04v2.32h-1.04zM0 546.8h1.04v1.12h-1.04zM3 547.8h1.04v1.32h-1.04zM0 555.4h1.04v1.62h-1.04zM8 555.4h1.04v1.62h-1.04zM16 555.4h1.04v1.62h-1.04zM20 555.4h1.04v1.62h-1.04zM20 556.9h1.04v1.12h-1.04zM22 557.9h1.04v1.32h-1.04zM1 559.1h1.04v1.32h-1.04zM14 559.1h1.04v1.32h-1.04zM27 559.1h1.04v1.32h-1.04zM10 562.1h1.04v1.92h-1.04zM24 562.1h1.04v1.92h-1.04zM3 563.9h1.04v1.12h-1.04zM1 564.9h1.04v1.92h-1.04zM13 564.9h1.04v1.92h-1.04zM23 564.9h1.04v1.92h-1.04zM0 566.7h1.04v1.32h-1.04zM0 567.9h1.04v1.92h-1.04zM15 567.9h1.04v1.92h-1.04zM20 567.9h1.04v1.92h-1.04zM24 567.9h1.04v1.92h-1.04zM1 569.7h1.04v1.92h-1.04zM2 572.5h1.04v1.62h-1.04zM5 572.5h1.04v1.62h-1.04zM18 572.5h1.04v1.62h-1.04zM23 572.5h1.04v1.62h-1.04zM10 574.0h1.04v1.62h-1.04zM13 574.0h1.04v1.62h-1.04zM14 574.0h1.04v1.62h-1.04zM19 574.0h1.04v1.62h-1.04zM30 574.0h1.04v1.62h-1.04zM1 577.0h1.04v1.62h-1.04zM13 577.0h1.04v1.62h-1.04zM30 577.0h1.04v1.62h-1.04zM8 578.5h1.04v1.12h-1.04zM18 578.5h1.04v1.12h-1.04zM22 578.5h1.04v1.12h-1.04zM9 579.5h1.04v1.92h-1.04zM24 579.5h1.04v1.92h-1.04zM30 579.5h1.04v1.92h-1.04zM3 581.3h1.04v2.32h-1.04zM6 581.3h1.04v2.32h-1.04zM13 581.3h1.04v2.32h-1.04zM21 581.3h1.04v2.32h-1.04zM24 583.5h1.04v1.32h-1.04zM7 584.7h1.04v2.32h-1.04zM14 584.7h1.04v2.32h-1.04zM8 586.9h1.04v1.62h-1.04zM22 586.9h1.04v1.62h-1.04zM28 586.9h1.04v1.62h-1.04zM14 588.4h1.04v1.32h-1.04zM19 588.4h1.04v1.32h-1.04zM19 589.6h1.04v1.62h-1.04zM29 589.6h1.04v1.62h-1.04zM10 591.1h1.04v1.62h-1.04zM19 593.6h1.04v1.32h-1.04zM22 593.6h1.04v1.32h-1.04zM29 593.6h1.04v1.32h-1.04zM11 594.8h1.04v1.12h-1.04zM12 594.8h1.04v1.12h-1.04zM2 595.8h1.04v1.12h-1.04zM12 595.8h1.04v1.12h-1.04zM16 595.8h1.04v1.12h-1.04zM18 595.8h1.04v1.12h-1.04zM23 595.8h1.04v1.12h-1.04zM17 596.8h1.04v1.32h-1.04zM27 596.8h1.04v1.32h-1.04zM2 598.0h1.04v2.32h-1.04zM10 598.0h1.04v2.32h-1.04zM2 600.2h1.04v1.32h-1.04zM23 600.2h1.04v1.32h-1.04zM29 601.4h1.04v1.62h-1.04zM12 602.9h1.04v1.92h-1.04zM0 604.7h1.04v1.12h-1.04zM17 604.7h1.04v1.12h-1.04zM27 605.7h1.04v1.62h-1.04zM0 608.7h1.04v1.92h-1.04zM22 610.5h1.04v1.32h-1.04zM3 611.7h1.04v1.62h-1.04zM2 613.2h1.04v2.32h-1.04zM5 613.2h1.04v2.32h-1.04zM6 613.2h1.04v2.32h-1.04zM20 615.4h1.04v1.92h-1.04zM1 617.2h1.04v1.32h-1.04zM4 617.2h1.04v1.32h-1.04zM29 617.2h1.04v1.32h-1.04zM4 618.4h1.04v1.92h-1.04zM22 618.4h1.04v1.92h-1.04zM27 618.4h1.04v1.92h-1.04zM28 618.4h1.04v1.92h-1.04zM0 620.2h1.04v1.62h-1.04zM22 620.2h1.04v1.62h-1.04zM3 621.7h1.04v1.12h-1.04zM12 621.7h1.04v1.12h-1.04zM12 623.9h1.04v0.62h-1.04zM19 623.9h1.04v0.62h-1.04zM24 623.9h1.04v0.62h-1.04zM25 623.9h1.04v0.62h-1.04z"/>
<path fill="#A8C6DE" d="M1 412.4h1.04v1.62h-1.04zM26 555.4h1.04v1.62h-1.04zM14 556.9h1.04v1.12h-1.04zM18 556.9h1.04v1.12h-1.04zM7 559.1h1.04v1.32h-1.04zM31 562.1h1.04v1.92h-1.04zM25 572.5h1.04v1.62h-1.04zM0 577.0h1.04v1.62h-1.04zM17 578.5h1.04v1.12h-1.04zM29 579.5h1.04v1.92h-1.04zM30 581.3h1.04v2.32h-1.04zM4 588.4h1.04v1.32h-1.04zM17 592.6h1.04v1.12h-1.04zM26 593.6h1.04v1.32h-1.04zM26 598.0h1.04v2.32h-1.04zM24 600.2h1.04v1.32h-1.04zM31 604.7h1.04v1.12h-1.04zM10 605.7h1.04v1.62h-1.04zM12 610.5h1.04v1.32h-1.04zM31 613.2h1.04v2.32h-1.04zM23 617.2h1.04v1.32h-1.04zM24 617.2h1.04v1.32h-1.04zM6 618.4h1.04v1.92h-1.04zM19 618.4h1.04v1.92h-1.04zM1 620.2h1.04v1.62h-1.04zM16 621.7h1.04v1.12h-1.04zM6 622.7h1.04v1.32h-1.04zM10 623.9h1.04v0.62h-1.04z"/>
<path fill="#F0C6AE" d="M0 413.9h1.04v1.12h-1.04zM5 417.4h1.04v1.92h-1.04zM9 447.2h1.04v1.62h-1.04zM26 463.7h1.04v1.32h-1.04zM13 480.2h1.04v1.32h-1.04zM5 485.1h1.04v2.32h-1.04zM17 496.0h1.04v1.92h-1.04zM4 518.0h1.04v2.32h-1.04zM9 525.4h1.04v1.12h-1.04zM5 533.1h1.04v1.62h-1.04zM8 534.6h1.04v1.32h-1.04zM11 543.4h1.04v1.32h-1.04z"/>
<path fill="#CC604E" d="M21 413.9h1.04v1.12h-1.04zM21 416.4h1.04v1.12h-1.04zM27 423.6h1.04v1.92h-1.04zM19 428.8h1.04v1.12h-1.04zM20 438.0h1.04v2.32h-1.04zM31 440.2h1.04v1.12h-1.04zM24 482.9h1.04v2.32h-1.04zM18 487.3h1.04v2.32h-1.04zM31 508.1h1.04v1.32h-1.04zM31 539.8h1.04v1.92h-1.04zM31 546.8h1.04v1.12h-1.04z"/>
<path fill="#C04E48" d="M20 425.4h1.04v2.32h-1.04zM29 438.0h1.04v2.32h-1.04zM23 445.4h1.04v1.92h-1.04zM31 487.3h1.04v2.32h-1.04zM20 539.8h1.04v1.92h-1.04zM31 541.6h1.04v1.92h-1.04z"/>
<path fill="#BA3C3C" d="M27 425.4h1.04v2.32h-1.04zM29 496.0h1.04v1.92h-1.04z"/>
<path fill="#D27860" d="M31 425.4h1.04v2.32h-1.04zM23 436.8h1.04v1.32h-1.04zM29 494.5h1.04v1.62h-1.04zM21 503.2h1.04v2.32h-1.04z"/>
<path fill="#C65448" d="M27 429.8h1.04v1.62h-1.04zM28 494.5h1.04v1.62h-1.04z"/>
<path fill="#D26654" d="M29 436.8h1.04v1.32h-1.04zM20 440.2h1.04v1.12h-1.04z"/>
<path fill="#AE3036" d="M20 442.4h1.04v1.92h-1.04z"/>
<path fill="#DEE4F0" d="M26 445.4h1.04v1.92h-1.04zM26 448.7h1.04v1.62h-1.04zM26 456.8h1.04v1.62h-1.04zM2 480.2h1.04v1.32h-1.04zM1 491.7h1.04v1.12h-1.04zM18 557.9h1.04v1.32h-1.04zM20 557.9h1.04v1.32h-1.04zM30 566.7h1.04v1.32h-1.04zM7 567.9h1.04v1.92h-1.04zM13 567.9h1.04v1.92h-1.04zM12 569.7h1.04v1.92h-1.04zM11 571.5h1.04v1.12h-1.04zM17 571.5h1.04v1.12h-1.04zM11 572.5h1.04v1.62h-1.04zM29 572.5h1.04v1.62h-1.04zM27 574.0h1.04v1.62h-1.04zM3 575.5h1.04v1.62h-1.04zM4 575.5h1.04v1.62h-1.04zM22 575.5h1.04v1.62h-1.04zM30 575.5h1.04v1.62h-1.04zM8 579.5h1.04v1.92h-1.04zM13 579.5h1.04v1.92h-1.04zM14 579.5h1.04v1.92h-1.04zM4 581.3h1.04v2.32h-1.04zM15 584.7h1.04v2.32h-1.04zM16 584.7h1.04v2.32h-1.04zM5 589.6h1.04v1.62h-1.04zM15 589.6h1.04v1.62h-1.04zM5 591.1h1.04v1.62h-1.04zM18 593.6h1.04v1.32h-1.04zM3 595.8h1.04v1.12h-1.04zM3 600.2h1.04v1.32h-1.04zM7 600.2h1.04v1.32h-1.04zM9 601.4h1.04v1.62h-1.04zM19 604.7h1.04v1.12h-1.04zM13 607.2h1.04v1.62h-1.04zM22 607.2h1.04v1.62h-1.04zM19 608.7h1.04v1.92h-1.04zM19 615.4h1.04v1.92h-1.04zM28 615.4h1.04v1.92h-1.04zM29 615.4h1.04v1.92h-1.04zM10 617.2h1.04v1.32h-1.04zM17 617.2h1.04v1.32h-1.04zM22 617.2h1.04v1.32h-1.04zM8 618.4h1.04v1.92h-1.04zM15 620.2h1.04v1.62h-1.04zM30 620.2h1.04v1.62h-1.04zM1 621.7h1.04v1.12h-1.04zM2 621.7h1.04v1.12h-1.04zM29 621.7h1.04v1.12h-1.04zM0 622.7h1.04v1.32h-1.04zM7 623.9h1.04v0.62h-1.04zM28 623.9h1.04v0.62h-1.04z"/>
<path fill="#C0D2EA" d="M0 447.2h1.04v1.62h-1.04zM3 464.9h1.04v1.32h-1.04zM7 543.4h1.04v1.32h-1.04zM27 555.4h1.04v1.62h-1.04zM30 555.4h1.04v1.62h-1.04zM23 556.9h1.04v1.12h-1.04zM10 559.1h1.04v1.32h-1.04zM24 559.1h1.04v1.32h-1.04zM5 560.3h1.04v1.92h-1.04zM14 560.3h1.04v1.92h-1.04zM4 564.9h1.04v1.92h-1.04zM11 569.7h1.04v1.92h-1.04zM13 569.7h1.04v1.92h-1.04zM16 569.7h1.04v1.92h-1.04zM1 572.5h1.04v1.62h-1.04zM16 572.5h1.04v1.62h-1.04zM28 572.5h1.04v1.62h-1.04zM24 577.0h1.04v1.62h-1.04zM20 579.5h1.04v1.92h-1.04zM23 583.5h1.04v1.32h-1.04zM22 584.7h1.04v2.32h-1.04zM26 588.4h1.04v1.32h-1.04zM3 592.6h1.04v1.12h-1.04zM0 593.6h1.04v1.32h-1.04zM6 593.6h1.04v1.32h-1.04zM20 593.6h1.04v1.32h-1.04zM28 593.6h1.04v1.32h-1.04zM21 594.8h1.04v1.12h-1.04zM23 594.8h1.04v1.12h-1.04zM15 595.8h1.04v1.12h-1.04zM16 596.8h1.04v1.32h-1.04zM30 596.8h1.04v1.32h-1.04zM7 598.0h1.04v2.32h-1.04zM11 600.2h1.04v1.32h-1.04zM29 600.2h1.04v1.32h-1.04zM14 602.9h1.04v1.92h-1.04zM7 605.7h1.04v1.62h-1.04zM27 607.2h1.04v1.62h-1.04zM13 610.5h1.04v1.32h-1.04zM8 611.7h1.04v1.62h-1.04zM12 611.7h1.04v1.62h-1.04zM14 611.7h1.04v1.62h-1.04zM8 613.2h1.04v2.32h-1.04zM5 615.4h1.04v1.92h-1.04zM12 615.4h1.04v1.92h-1.04zM27 615.4h1.04v1.92h-1.04zM15 617.2h1.04v1.32h-1.04zM6 620.2h1.04v1.62h-1.04zM13 621.7h1.04v1.12h-1.04zM19 622.7h1.04v1.32h-1.04zM25 622.7h1.04v1.32h-1.04zM26 622.7h1.04v1.32h-1.04zM13 623.9h1.04v0.62h-1.04zM15 623.9h1.04v0.62h-1.04z"/>
<path fill="#C0D8EA" d="M25 447.2h1.04v1.62h-1.04zM25 450.2h1.04v2.32h-1.04zM17 555.4h1.04v1.62h-1.04zM24 555.4h1.04v1.62h-1.04zM25 556.9h1.04v1.12h-1.04zM17 563.9h1.04v1.12h-1.04zM26 563.9h1.04v1.12h-1.04zM16 564.9h1.04v1.92h-1.04zM1 566.7h1.04v1.32h-1.04zM9 566.7h1.04v1.32h-1.04zM25 566.7h1.04v1.32h-1.04zM5 569.7h1.04v1.92h-1.04zM30 569.7h1.04v1.92h-1.04zM22 577.0h1.04v1.62h-1.04zM9 581.3h1.04v2.32h-1.04zM11 581.3h1.04v2.32h-1.04zM22 581.3h1.04v2.32h-1.04zM26 584.7h1.04v2.32h-1.04zM25 586.9h1.04v1.62h-1.04zM23 589.6h1.04v1.62h-1.04zM30 589.6h1.04v1.62h-1.04zM6 591.1h1.04v1.62h-1.04zM25 591.1h1.04v1.62h-1.04zM4 592.6h1.04v1.12h-1.04zM8 592.6h1.04v1.12h-1.04zM10 592.6h1.04v1.12h-1.04zM9 593.6h1.04v1.32h-1.04zM8 594.8h1.04v1.12h-1.04zM18 594.8h1.04v1.12h-1.04zM14 595.8h1.04v1.12h-1.04zM18 596.8h1.04v1.32h-1.04zM17 598.0h1.04v2.32h-1.04zM22 598.0h1.04v2.32h-1.04zM27 598.0h1.04v2.32h-1.04zM6 600.2h1.04v1.32h-1.04zM28 600.2h1.04v1.32h-1.04zM29 602.9h1.04v1.92h-1.04zM8 604.7h1.04v1.12h-1.04zM14 604.7h1.04v1.12h-1.04zM7 608.7h1.04v1.92h-1.04zM12 608.7h1.04v1.92h-1.04zM17 608.7h1.04v1.92h-1.04zM9 611.7h1.04v1.62h-1.04zM17 611.7h1.04v1.62h-1.04zM23 613.2h1.04v2.32h-1.04zM9 615.4h1.04v1.92h-1.04zM12 618.4h1.04v1.92h-1.04zM9 621.7h1.04v1.12h-1.04zM18 622.7h1.04v1.32h-1.04zM30 622.7h1.04v1.32h-1.04zM0 623.9h1.04v0.62h-1.04zM1 623.9h1.04v0.62h-1.04z"/>
<path fill="#BA4842" d="M21 448.7h1.04v1.62h-1.04zM31 523.6h1.04v1.92h-1.04zM31 527.4h1.04v1.32h-1.04z"/>
<path fill="#A8C6E4" d="M0 450.2h1.04v2.32h-1.04zM3 555.4h1.04v1.62h-1.04zM12 555.4h1.04v1.62h-1.04zM8 557.9h1.04v1.32h-1.04zM17 557.9h1.04v1.32h-1.04zM29 564.9h1.04v1.92h-1.04zM10 569.7h1.04v1.92h-1.04zM23 574.0h1.04v1.62h-1.04zM8 583.5h1.04v1.32h-1.04zM12 583.5h1.04v1.32h-1.04zM2 586.9h1.04v1.62h-1.04zM28 602.9h1.04v1.92h-1.04zM30 602.9h1.04v1.92h-1.04zM16 608.7h1.04v1.92h-1.04zM30 610.5h1.04v1.32h-1.04zM18 615.4h1.04v1.92h-1.04zM25 620.2h1.04v1.62h-1.04zM25 621.7h1.04v1.12h-1.04zM11 622.7h1.04v1.32h-1.04z"/>
<path fill="#BAD2E4" d="M26 450.2h1.04v2.32h-1.04zM2 555.4h1.04v1.62h-1.04zM22 555.4h1.04v1.62h-1.04zM25 555.4h1.04v1.62h-1.04zM0 559.1h1.04v1.32h-1.04zM4 559.1h1.04v1.32h-1.04zM13 559.1h1.04v1.32h-1.04zM20 559.1h1.04v1.32h-1.04zM23 559.1h1.04v1.32h-1.04zM26 559.1h1.04v1.32h-1.04zM29 559.1h1.04v1.32h-1.04zM20 560.3h1.04v1.92h-1.04zM23 560.3h1.04v1.92h-1.04zM25 560.3h1.04v1.92h-1.04zM12 563.9h1.04v1.12h-1.04zM18 563.9h1.04v1.12h-1.04zM8 566.7h1.04v1.32h-1.04zM1 567.9h1.04v1.92h-1.04zM27 567.9h1.04v1.92h-1.04zM21 569.7h1.04v1.92h-1.04zM22 569.7h1.04v1.92h-1.04zM23 569.7h1.04v1.92h-1.04zM22 571.5h1.04v1.12h-1.04zM7 572.5h1.04v1.62h-1.04zM17 572.5h1.04v1.62h-1.04zM25 574.0h1.04v1.62h-1.04zM27 577.0h1.04v1.62h-1.04zM12 581.3h1.04v2.32h-1.04zM29 584.7h1.04v2.32h-1.04zM12 586.9h1.04v1.62h-1.04zM23 586.9h1.04v1.62h-1.04zM12 588.4h1.04v1.32h-1.04zM21 588.4h1.04v1.32h-1.04zM31 589.6h1.04v1.62h-1.04zM2 591.1h1.04v1.62h-1.04zM0 592.6h1.04v1.12h-1.04zM10 594.8h1.04v1.12h-1.04zM30 594.8h1.04v1.12h-1.04zM0 595.8h1.04v1.12h-1.04zM11 596.8h1.04v1.32h-1.04zM13 598.0h1.04v2.32h-1.04zM30 598.0h1.04v2.32h-1.04zM17 601.4h1.04v1.62h-1.04zM6 605.7h1.04v1.62h-1.04zM0 607.2h1.04v1.62h-1.04zM21 608.7h1.04v1.92h-1.04zM2 610.5h1.04v1.32h-1.04zM9 610.5h1.04v1.32h-1.04zM0 611.7h1.04v1.62h-1.04zM22 613.2h1.04v2.32h-1.04zM10 615.4h1.04v1.92h-1.04zM16 615.4h1.04v1.92h-1.04zM17 618.4h1.04v1.92h-1.04zM29 620.2h1.04v1.62h-1.04zM17 621.7h1.04v1.12h-1.04zM23 621.7h1.04v1.12h-1.04zM26 621.7h1.04v1.12h-1.04zM24 622.7h1.04v1.32h-1.04zM14 623.9h1.04v0.62h-1.04z"/>
<path fill="#D2E4F0" d="M3 452.4h1.04v2.32h-1.04zM26 452.4h1.04v2.32h-1.04zM15 491.7h1.04v1.12h-1.04zM10 557.9h1.04v1.32h-1.04zM2 559.1h1.04v1.32h-1.04zM7 563.9h1.04v1.12h-1.04zM3 564.9h1.04v1.92h-1.04zM16 567.9h1.04v1.92h-1.04zM18 567.9h1.04v1.92h-1.04zM22 567.9h1.04v1.92h-1.04zM4 571.5h1.04v1.12h-1.04zM9 572.5h1.04v1.62h-1.04zM20 574.0h1.04v1.62h-1.04zM18 575.5h1.04v1.62h-1.04zM4 578.5h1.04v1.12h-1.04zM23 578.5h1.04v1.12h-1.04zM23 579.5h1.04v1.92h-1.04zM28 579.5h1.04v1.92h-1.04zM20 581.3h1.04v2.32h-1.04zM5 583.5h1.04v1.32h-1.04zM25 583.5h1.04v1.32h-1.04zM3 586.9h1.04v1.62h-1.04zM16 588.4h1.04v1.32h-1.04zM29 588.4h1.04v1.32h-1.04zM6 589.6h1.04v1.62h-1.04zM7 589.6h1.04v1.62h-1.04zM31 591.1h1.04v1.62h-1.04zM9 592.6h1.04v1.12h-1.04zM12 592.6h1.04v1.12h-1.04zM21 592.6h1.04v1.12h-1.04zM4 593.6h1.04v1.32h-1.04zM16 593.6h1.04v1.32h-1.04zM30 593.6h1.04v1.32h-1.04zM14 594.8h1.04v1.12h-1.04zM27 594.8h1.04v1.12h-1.04zM13 595.8h1.04v1.12h-1.04zM11 598.0h1.04v2.32h-1.04zM15 598.0h1.04v2.32h-1.04zM11 602.9h1.04v1.92h-1.04zM17 602.9h1.04v1.92h-1.04zM28 605.7h1.04v1.62h-1.04zM11 607.2h1.04v1.62h-1.04zM7 610.5h1.04v1.32h-1.04zM15 610.5h1.04v1.32h-1.04zM10 613.2h1.04v2.32h-1.04zM8 617.2h1.04v1.32h-1.04zM29 618.4h1.04v1.92h-1.04zM28 620.2h1.04v1.62h-1.04zM17 623.9h1.04v0.62h-1.04z"/>
<path fill="#C04E42" d="M21 462.7h1.04v1.12h-1.04zM31 510.3h1.04v2.32h-1.04zM23 535.8h1.04v2.32h-1.04z"/>
<path fill="#B43636" d="M21 463.7h1.04v1.32h-1.04zM31 512.5h1.04v1.92h-1.04z"/>
<path fill="#B4D2E4" d="M3 469.8h1.04v1.62h-1.04zM24 566.7h1.04v1.32h-1.04zM19 567.9h1.04v1.92h-1.04zM15 574.0h1.04v1.62h-1.04zM29 574.0h1.04v1.62h-1.04zM26 581.3h1.04v2.32h-1.04zM10 596.8h1.04v1.32h-1.04zM25 613.2h1.04v2.32h-1.04zM26 617.2h1.04v1.32h-1.04zM7 621.7h1.04v1.12h-1.04zM1 622.7h1.04v1.32h-1.04z"/>
<path fill="#84AED2" d="M3 471.3h1.04v2.32h-1.04zM18 564.9h1.04v1.92h-1.04zM31 577.0h1.04v1.62h-1.04zM0 578.5h1.04v1.12h-1.04zM12 589.6h1.04v1.62h-1.04zM18 602.9h1.04v1.92h-1.04zM31 602.9h1.04v1.92h-1.04zM25 604.7h1.04v1.12h-1.04zM25 607.2h1.04v1.62h-1.04zM26 615.4h1.04v1.92h-1.04zM25 617.2h1.04v1.32h-1.04zM31 618.4h1.04v1.92h-1.04z"/>
<path fill="#D2DEF0" d="M10 489.5h1.04v2.32h-1.04zM30 560.3h1.04v1.92h-1.04zM20 562.1h1.04v1.92h-1.04zM7 564.9h1.04v1.92h-1.04zM17 564.9h1.04v1.92h-1.04zM12 566.7h1.04v1.32h-1.04zM26 566.7h1.04v1.32h-1.04zM0 572.5h1.04v1.62h-1.04zM13 572.5h1.04v1.62h-1.04zM14 572.5h1.04v1.62h-1.04zM0 574.0h1.04v1.62h-1.04zM31 581.3h1.04v2.32h-1.04zM16 583.5h1.04v1.32h-1.04zM13 586.9h1.04v1.62h-1.04zM24 586.9h1.04v1.62h-1.04zM7 588.4h1.04v1.32h-1.04zM28 588.4h1.04v1.32h-1.04zM16 592.6h1.04v1.12h-1.04zM15 594.8h1.04v1.12h-1.04zM1 595.8h1.04v1.12h-1.04zM14 598.0h1.04v2.32h-1.04zM22 602.9h1.04v1.92h-1.04zM23 602.9h1.04v1.92h-1.04zM23 604.7h1.04v1.12h-1.04zM8 607.2h1.04v1.62h-1.04zM30 607.2h1.04v1.62h-1.04zM15 611.7h1.04v1.62h-1.04zM29 611.7h1.04v1.62h-1.04zM1 613.2h1.04v2.32h-1.04zM17 615.4h1.04v1.92h-1.04zM16 617.2h1.04v1.32h-1.04zM15 618.4h1.04v1.92h-1.04zM18 618.4h1.04v1.92h-1.04zM21 620.2h1.04v1.62h-1.04zM0 621.7h1.04v1.12h-1.04zM18 623.9h1.04v0.62h-1.04z"/>
<path fill="#CC5A4E" d="M31 491.7h1.04v1.12h-1.04z"/>
<path fill="#B43036" d="M31 496.0h1.04v1.92h-1.04zM31 538.0h1.04v1.92h-1.04z"/>
<path fill="#BA423C" d="M31 516.5h1.04v1.62h-1.04zM31 534.6h1.04v1.32h-1.04z"/>
<path fill="#B43C3C" d="M31 531.3h1.04v1.92h-1.04z"/>
<path fill="#A2C6DE" d="M6 555.4h1.04v1.62h-1.04zM18 559.1h1.04v1.32h-1.04zM29 560.3h1.04v1.92h-1.04zM29 566.7h1.04v1.32h-1.04zM20 583.5h1.04v1.32h-1.04zM11 584.7h1.04v2.32h-1.04zM9 602.9h1.04v1.92h-1.04z"/>
<path fill="#CCDEEA" d="M7 555.4h1.04v1.62h-1.04zM14 555.4h1.04v1.62h-1.04zM15 556.9h1.04v1.12h-1.04zM19 556.9h1.04v1.12h-1.04zM21 556.9h1.04v1.12h-1.04zM0 557.9h1.04v1.32h-1.04zM7 557.9h1.04v1.32h-1.04zM11 559.1h1.04v1.32h-1.04zM30 559.1h1.04v1.32h-1.04zM3 560.3h1.04v1.92h-1.04zM8 562.1h1.04v1.92h-1.04zM21 562.1h1.04v1.92h-1.04zM23 562.1h1.04v1.92h-1.04zM10 563.9h1.04v1.12h-1.04zM13 563.9h1.04v1.12h-1.04zM24 564.9h1.04v1.92h-1.04zM13 566.7h1.04v1.32h-1.04zM14 566.7h1.04v1.32h-1.04zM8 567.9h1.04v1.92h-1.04zM8 571.5h1.04v1.12h-1.04zM27 571.5h1.04v1.12h-1.04zM12 572.5h1.04v1.62h-1.04zM4 574.0h1.04v1.62h-1.04zM16 574.0h1.04v1.62h-1.04zM20 575.5h1.04v1.62h-1.04zM3 577.0h1.04v1.62h-1.04zM27 578.5h1.04v1.12h-1.04zM31 579.5h1.04v1.92h-1.04zM6 583.5h1.04v1.32h-1.04zM18 584.7h1.04v2.32h-1.04zM30 584.7h1.04v2.32h-1.04zM0 588.4h1.04v1.32h-1.04zM8 588.4h1.04v1.32h-1.04zM14 589.6h1.04v1.62h-1.04zM18 589.6h1.04v1.62h-1.04zM12 591.1h1.04v1.62h-1.04zM22 591.1h1.04v1.62h-1.04zM24 591.1h1.04v1.62h-1.04zM1 592.6h1.04v1.12h-1.04zM2 592.6h1.04v1.12h-1.04zM14 592.6h1.04v1.12h-1.04zM10 593.6h1.04v1.32h-1.04zM7 594.8h1.04v1.12h-1.04zM6 595.8h1.04v1.12h-1.04zM21 595.8h1.04v1.12h-1.04zM22 595.8h1.04v1.12h-1.04zM2 596.8h1.04v1.32h-1.04zM31 598.0h1.04v2.32h-1.04zM12 600.2h1.04v1.32h-1.04zM13 600.2h1.04v1.32h-1.04zM22 600.2h1.04v1.32h-1.04zM6 601.4h1.04v1.62h-1.04zM31 601.4h1.04v1.62h-1.04zM6 602.9h1.04v1.92h-1.04zM8 602.9h1.04v1.92h-1.04zM24 602.9h1.04v1.92h-1.04zM13 604.7h1.04v1.12h-1.04zM27 604.7h1.04v1.12h-1.04zM30 604.7h1.04v1.12h-1.04zM8 605.7h1.04v1.62h-1.04zM11 605.7h1.04v1.62h-1.04zM12 605.7h1.04v1.62h-1.04zM20 607.2h1.04v1.62h-1.04zM27 608.7h1.04v1.92h-1.04zM10 610.5h1.04v1.32h-1.04zM0 613.2h1.04v2.32h-1.04zM21 613.2h1.04v2.32h-1.04zM0 615.4h1.04v1.92h-1.04zM4 615.4h1.04v1.92h-1.04zM7 615.4h1.04v1.92h-1.04zM19 617.2h1.04v1.32h-1.04zM16 618.4h1.04v1.92h-1.04zM4 620.2h1.04v1.62h-1.04zM10 620.2h1.04v1.62h-1.04zM26 620.2h1.04v1.62h-1.04zM6 621.7h1.04v1.12h-1.04zM28 621.7h1.04v1.12h-1.04zM7 622.7h1.04v1.32h-1.04z"/>
<path fill="#548AC0" d="M9 555.4h1.04v1.62h-1.04zM18 604.7h1.04v1.12h-1.04zM25 605.7h1.04v1.62h-1.04zM18 607.2h1.04v1.62h-1.04zM11 608.7h1.04v1.92h-1.04zM11 610.5h1.04v1.32h-1.04z"/>
<path fill="#9CBADE" d="M11 555.4h1.04v1.62h-1.04zM17 562.1h1.04v1.92h-1.04zM3 569.7h1.04v1.92h-1.04zM25 571.5h1.04v1.12h-1.04zM8 574.0h1.04v1.62h-1.04zM20 591.1h1.04v1.62h-1.04zM26 591.1h1.04v1.62h-1.04zM25 601.4h1.04v1.62h-1.04zM22 615.4h1.04v1.92h-1.04zM13 618.4h1.04v1.92h-1.04z"/>
<path fill="#4E7EBA" d="M13 555.4h1.04v1.62h-1.04zM26 611.7h1.04v1.62h-1.04z"/>
<path fill="#84A8D2" d="M21 555.4h1.04v1.62h-1.04zM21 557.9h1.04v1.32h-1.04zM20 586.9h1.04v1.62h-1.04zM25 596.8h1.04v1.32h-1.04zM21 605.7h1.04v1.62h-1.04zM11 613.2h1.04v2.32h-1.04z"/>
<path fill="#A2C0DE" d="M23 555.4h1.04v1.62h-1.04zM24 556.9h1.04v1.12h-1.04zM30 562.1h1.04v1.92h-1.04zM20 564.9h1.04v1.92h-1.04zM25 564.9h1.04v1.92h-1.04zM22 574.0h1.04v1.62h-1.04zM29 575.5h1.04v1.62h-1.04zM12 579.5h1.04v1.92h-1.04zM11 588.4h1.04v1.32h-1.04zM24 593.6h1.04v1.32h-1.04zM18 598.0h1.04v2.32h-1.04zM31 600.2h1.04v1.32h-1.04zM6 604.7h1.04v1.12h-1.04zM30 605.7h1.04v1.62h-1.04zM14 607.2h1.04v1.62h-1.04zM16 610.5h1.04v1.32h-1.04zM30 611.7h1.04v1.62h-1.04zM31 615.4h1.04v1.92h-1.04zM14 618.4h1.04v1.92h-1.04zM14 621.7h1.04v1.12h-1.04z"/>
<path fill="#96BAD8" d="M29 555.4h1.04v1.62h-1.04zM13 556.9h1.04v1.12h-1.04zM19 559.1h1.04v1.32h-1.04zM9 560.3h1.04v1.92h-1.04zM21 572.5h1.04v1.62h-1.04zM16 579.5h1.04v1.92h-1.04zM18 583.5h1.04v1.32h-1.04zM18 588.4h1.04v1.32h-1.04zM26 589.6h1.04v1.62h-1.04zM26 592.6h1.04v1.12h-1.04zM26 596.8h1.04v1.32h-1.04zM21 615.4h1.04v1.92h-1.04zM30 615.4h1.04v1.92h-1.04zM23 618.4h1.04v1.92h-1.04zM21 621.7h1.04v1.12h-1.04z"/>
<path fill="#6C9CCC" d="M31 555.4h1.04v1.62h-1.04zM26 602.9h1.04v1.92h-1.04zM25 615.4h1.04v1.92h-1.04zM11 618.4h1.04v1.92h-1.04zM13 622.7h1.04v1.32h-1.04z"/>
<path fill="#90B4D8" d="M8 556.9h1.04v1.12h-1.04zM26 557.9h1.04v1.32h-1.04zM21 559.1h1.04v1.32h-1.04zM19 566.7h1.04v1.32h-1.04zM31 578.5h1.04v1.12h-1.04zM18 586.9h1.04v1.62h-1.04zM20 588.4h1.04v1.32h-1.04zM20 589.6h1.04v1.62h-1.04zM11 592.6h1.04v1.12h-1.04zM20 592.6h1.04v1.12h-1.04zM25 595.8h1.04v1.12h-1.04zM25 598.0h1.04v2.32h-1.04zM26 600.2h1.04v1.32h-1.04zM23 610.5h1.04v1.32h-1.04zM24 615.4h1.04v1.92h-1.04zM21 622.7h1.04v1.32h-1.04zM23 622.7h1.04v1.32h-1.04z"/>
<path fill="#4272B4" d="M9 556.9h1.04v1.12h-1.04zM18 605.7h1.04v1.62h-1.04z"/>
<path fill="#8AAED8" d="M17 556.9h1.04v1.12h-1.04zM21 560.3h1.04v1.92h-1.04zM10 572.5h1.04v1.62h-1.04zM31 592.6h1.04v1.12h-1.04zM26 595.8h1.04v1.12h-1.04zM6 598.0h1.04v2.32h-1.04zM25 610.5h1.04v1.32h-1.04zM14 615.4h1.04v1.92h-1.04zM0 617.2h1.04v1.32h-1.04zM15 621.7h1.04v1.12h-1.04zM31 622.7h1.04v1.32h-1.04z"/>
<path fill="#96BADE" d="M26 556.9h1.04v1.12h-1.04zM11 563.9h1.04v1.12h-1.04zM10 571.5h1.04v1.12h-1.04zM17 581.3h1.04v2.32h-1.04zM25 611.7h1.04v1.62h-1.04zM31 611.7h1.04v1.62h-1.04z"/>
<path fill="#5A8AC6" d="M31 556.9h1.04v1.12h-1.04zM24 604.7h1.04v1.12h-1.04z"/>
<path fill="#9CC0DE" d="M2 557.9h1.04v1.32h-1.04zM25 557.9h1.04v1.32h-1.04zM25 562.1h1.04v1.92h-1.04zM8 569.7h1.04v1.92h-1.04zM26 569.7h1.04v1.92h-1.04zM25 575.5h1.04v1.62h-1.04zM17 584.7h1.04v2.32h-1.04zM25 584.7h1.04v2.32h-1.04zM9 596.8h1.04v1.32h-1.04zM20 610.5h1.04v1.32h-1.04zM18 613.2h1.04v2.32h-1.04zM0 618.4h1.04v1.92h-1.04zM24 620.2h1.04v1.62h-1.04zM30 621.7h1.04v1.12h-1.04zM20 622.7h1.04v1.32h-1.04z"/>
<path fill="#AECCE4" d="M3 557.9h1.04v1.32h-1.04zM23 557.9h1.04v1.32h-1.04zM17 560.3h1.04v1.92h-1.04zM26 560.3h1.04v1.92h-1.04zM3 562.1h1.04v1.92h-1.04zM20 571.5h1.04v1.12h-1.04zM20 572.5h1.04v1.62h-1.04zM1 574.0h1.04v1.62h-1.04zM16 575.5h1.04v1.62h-1.04zM23 575.5h1.04v1.62h-1.04zM23 577.0h1.04v1.62h-1.04zM10 578.5h1.04v1.12h-1.04zM11 578.5h1.04v1.12h-1.04zM18 581.3h1.04v2.32h-1.04zM9 583.5h1.04v1.32h-1.04zM30 583.5h1.04v1.32h-1.04zM1 584.7h1.04v2.32h-1.04zM23 584.7h1.04v2.32h-1.04zM17 586.9h1.04v1.62h-1.04zM31 586.9h1.04v1.62h-1.04zM24 588.4h1.04v1.32h-1.04zM25 592.6h1.04v1.12h-1.04zM30 595.8h1.04v1.12h-1.04zM29 596.8h1.04v1.32h-1.04zM24 598.0h1.04v2.32h-1.04zM24 601.4h1.04v1.62h-1.04zM15 602.9h1.04v1.92h-1.04zM20 608.7h1.04v1.92h-1.04zM14 613.2h1.04v2.32h-1.04zM6 615.4h1.04v1.92h-1.04zM11 617.2h1.04v1.32h-1.04zM5 621.7h1.04v1.12h-1.04zM31 621.7h1.04v1.12h-1.04z"/>
<path fill="#5A8AC0" d="M9 557.9h1.04v1.32h-1.04zM18 608.7h1.04v1.92h-1.04zM25 608.7h1.04v1.92h-1.04z"/>
<path fill="#B4CCE4" d="M11 557.9h1.04v1.32h-1.04zM18 560.3h1.04v1.92h-1.04zM9 562.1h1.04v1.92h-1.04zM29 562.1h1.04v1.92h-1.04zM27 563.9h1.04v1.12h-1.04zM26 564.9h1.04v1.92h-1.04zM3 566.7h1.04v1.32h-1.04zM17 566.7h1.04v1.32h-1.04zM28 567.9h1.04v1.92h-1.04zM27 569.7h1.04v1.92h-1.04zM8 572.5h1.04v1.62h-1.04zM26 574.0h1.04v1.62h-1.04zM8 575.5h1.04v1.62h-1.04zM27 575.5h1.04v1.62h-1.04zM17 577.0h1.04v1.62h-1.04zM18 577.0h1.04v1.62h-1.04zM12 578.5h1.04v1.12h-1.04zM20 578.5h1.04v1.12h-1.04zM15 581.3h1.04v2.32h-1.04zM29 581.3h1.04v2.32h-1.04zM17 583.5h1.04v1.32h-1.04zM0 584.7h1.04v2.32h-1.04zM9 584.7h1.04v2.32h-1.04zM31 584.7h1.04v2.32h-1.04zM5 586.9h1.04v1.62h-1.04zM16 586.9h1.04v1.62h-1.04zM26 586.9h1.04v1.62h-1.04zM31 588.4h1.04v1.32h-1.04zM9 589.6h1.04v1.62h-1.04zM11 589.6h1.04v1.62h-1.04zM17 589.6h1.04v1.62h-1.04zM21 589.6h1.04v1.62h-1.04zM25 589.6h1.04v1.62h-1.04zM16 591.1h1.04v1.62h-1.04zM17 591.1h1.04v1.62h-1.04zM15 592.6h1.04v1.12h-1.04zM20 595.8h1.04v1.12h-1.04zM24 596.8h1.04v1.32h-1.04zM8 598.0h1.04v2.32h-1.04zM16 598.0h1.04v2.32h-1.04zM8 600.2h1.04v1.32h-1.04zM31 605.7h1.04v1.62h-1.04zM23 607.2h1.04v1.62h-1.04zM24 607.2h1.04v1.62h-1.04zM14 608.7h1.04v1.92h-1.04zM24 608.7h1.04v1.92h-1.04zM27 611.7h1.04v1.62h-1.04zM17 613.2h1.04v2.32h-1.04zM18 620.2h1.04v1.62h-1.04zM30 623.9h1.04v0.62h-1.04zM31 623.9h1.04v0.62h-1.04z"/>
<path fill="#7EA8D2" d="M31 557.9h1.04v1.32h-1.04zM31 574.0h1.04v1.62h-1.04zM1 575.5h1.04v1.62h-1.04zM0 579.5h1.04v1.92h-1.04zM29 594.8h1.04v1.12h-1.04zM26 605.7h1.04v1.62h-1.04zM21 610.5h1.04v1.32h-1.04zM31 610.5h1.04v1.32h-1.04zM24 611.7h1.04v1.62h-1.04zM31 617.2h1.04v1.32h-1.04zM31 620.2h1.04v1.62h-1.04z"/>
<path fill="#78A2CC" d="M9 559.1h1.04v1.32h-1.04zM25 577.0h1.04v1.62h-1.04zM8 596.8h1.04v1.32h-1.04zM20 598.0h1.04v2.32h-1.04zM31 608.7h1.04v1.92h-1.04zM23 611.7h1.04v1.62h-1.04zM26 613.2h1.04v2.32h-1.04z"/>
<path fill="#AEC6E4" d="M16 559.1h1.04v1.32h-1.04zM25 559.1h1.04v1.32h-1.04zM19 560.3h1.04v1.92h-1.04zM8 564.9h1.04v1.92h-1.04zM5 566.7h1.04v1.32h-1.04zM7 566.7h1.04v1.32h-1.04zM22 566.7h1.04v1.32h-1.04zM12 567.9h1.04v1.92h-1.04zM26 567.9h1.04v1.92h-1.04zM0 569.7h1.04v1.92h-1.04zM13 571.5h1.04v1.12h-1.04zM23 571.5h1.04v1.12h-1.04zM17 574.0h1.04v1.62h-1.04zM0 575.5h1.04v1.62h-1.04zM11 586.9h1.04v1.62h-1.04zM9 594.8h1.04v1.12h-1.04zM24 595.8h1.04v1.12h-1.04zM28 595.8h1.04v1.12h-1.04zM31 596.8h1.04v1.32h-1.04zM14 601.4h1.04v1.62h-1.04zM15 615.4h1.04v1.92h-1.04zM30 617.2h1.04v1.32h-1.04zM17 620.2h1.04v1.62h-1.04z"/>
<path fill="#4878BA" d="M31 559.1h1.04v1.32h-1.04zM18 611.7h1.04v1.62h-1.04z"/>
<path fill="#CCDEF0" d="M0 560.3h1.04v1.92h-1.04zM30 586.9h1.04v1.62h-1.04zM3 591.1h1.04v1.62h-1.04zM31 594.8h1.04v1.12h-1.04zM3 623.9h1.04v0.62h-1.04z"/>
<path fill="#BAD2EA" d="M24 560.3h1.04v1.92h-1.04zM27 560.3h1.04v1.92h-1.04zM18 562.1h1.04v1.92h-1.04zM24 563.9h1.04v1.12h-1.04zM29 567.9h1.04v1.92h-1.04zM5 571.5h1.04v1.12h-1.04zM17 579.5h1.04v1.92h-1.04zM5 584.7h1.04v2.32h-1.04zM22 589.6h1.04v1.62h-1.04zM21 598.0h1.04v2.32h-1.04zM20 605.7h1.04v1.62h-1.04zM22 623.9h1.04v0.62h-1.04z"/>
<path fill="#4278B4" d="M31 560.3h1.04v1.92h-1.04zM31 569.7h1.04v1.92h-1.04zM25 600.2h1.04v1.32h-1.04z"/>
<path fill="#78A2D2" d="M21 563.9h1.04v1.12h-1.04zM25 569.7h1.04v1.92h-1.04zM22 572.5h1.04v1.62h-1.04zM25 588.4h1.04v1.32h-1.04zM25 594.8h1.04v1.12h-1.04zM20 601.4h1.04v1.62h-1.04zM14 610.5h1.04v1.32h-1.04zM26 618.4h1.04v1.92h-1.04z"/>
<path fill="#6C96CC" d="M25 563.9h1.04v1.12h-1.04zM18 601.4h1.04v1.62h-1.04z"/>
<path fill="#3066AE" d="M31 563.9h1.04v1.12h-1.04zM31 564.9h1.04v1.92h-1.04z"/>
<path fill="#5484C0" d="M31 566.7h1.04v1.32h-1.04zM31 567.9h1.04v1.92h-1.04zM18 610.5h1.04v1.32h-1.04zM23 615.4h1.04v1.92h-1.04zM23 620.2h1.04v1.62h-1.04zM23 623.9h1.04v0.62h-1.04z"/>
<path fill="#5A90C6" d="M31 571.5h1.04v1.12h-1.04zM26 604.7h1.04v1.12h-1.04z"/>
<path fill="#729CCC" d="M31 572.5h1.04v1.62h-1.04zM15 588.4h1.04v1.32h-1.04zM20 596.8h1.04v1.32h-1.04zM16 620.2h1.04v1.62h-1.04z"/>
<path fill="#6696C6" d="M31 575.5h1.04v1.62h-1.04zM23 605.7h1.04v1.62h-1.04z"/>
<path fill="#96B4D8" d="M25 579.5h1.04v1.92h-1.04z"/>
<path fill="#6090C6" d="M0 581.3h1.04v2.32h-1.04zM25 602.9h1.04v1.92h-1.04zM26 607.2h1.04v1.62h-1.04zM11 615.4h1.04v1.92h-1.04zM14 617.2h1.04v1.32h-1.04zM25 618.4h1.04v1.92h-1.04zM11 621.7h1.04v1.12h-1.04z"/>
<path fill="#8AB4D8" d="M9 588.4h1.04v1.32h-1.04zM30 588.4h1.04v1.32h-1.04zM25 593.6h1.04v1.32h-1.04zM20 594.8h1.04v1.12h-1.04zM24 594.8h1.04v1.12h-1.04zM20 604.7h1.04v1.12h-1.04zM11 611.7h1.04v1.62h-1.04zM14 622.7h1.04v1.32h-1.04z"/>
<path fill="#C6DEEA" d="M21 591.1h1.04v1.62h-1.04zM21 601.4h1.04v1.62h-1.04zM17 605.7h1.04v1.62h-1.04z"/>
<path fill="#4E84BA" d="M26 594.8h1.04v1.12h-1.04zM26 608.7h1.04v1.92h-1.04z"/>
<path fill="#8AAED2" d="M18 600.2h1.04v1.32h-1.04z"/>
<path fill="#487EBA" d="M20 600.2h1.04v1.32h-1.04z"/>
<path fill="#72A2CC" d="M26 601.4h1.04v1.62h-1.04zM21 602.9h1.04v1.92h-1.04z"/>
<path fill="#4E84C0" d="M24 605.7h1.04v1.62h-1.04z"/>
<path fill="#6696CC" d="M23 608.7h1.04v1.92h-1.04z"/>
<path fill="#3C72B4" d="M24 610.5h1.04v1.32h-1.04z"/>
<path fill="#366CAE" d="M26 610.5h1.04v1.32h-1.04z"/>
<path fill="#7EA2D2" d="M24 613.2h1.04v2.32h-1.04z"/>
</g>
<text transform="translate(8.0,468.7) rotate(-90)" font-size="9.1" text-anchor="middle" fill="#111">Cluster 1 (1551)</text>
<text transform="translate(8.0,592.0) rotate(-90)" font-size="9.1" text-anchor="middle" fill="#111">Cluster 2 (672)</text>
<text x="258.2" y="380.3" font-size="7.6" font-weight="bold" fill="#111">Dose</text>
<text x="258.2" y="387.8" font-size="7.4" font-weight="bold" fill="#111">Cmax <tspan font-size="5.6">C1D1</tspan></text>
<text x="258.2" y="394.3" font-size="7.4" font-weight="bold" fill="#111">AUC <tspan font-size="5.6">C1D1</tspan></text>
<defs><linearGradient id="cb" x1="0" y1="0" x2="0" y2="1"><stop offset="0.000" stop-color="#AF2C33"/><stop offset="0.125" stop-color="#D06A55"/><stop offset="0.250" stop-color="#E7A186"/><stop offset="0.375" stop-color="#F6D6C8"/><stop offset="0.500" stop-color="#F5F3F2"/><stop offset="0.625" stop-color="#D5E3EF"/><stop offset="0.750" stop-color="#A2C2DF"/><stop offset="0.875" stop-color="#5B8DC4"/><stop offset="1.000" stop-color="#2F64AB"/></linearGradient></defs>
<rect x="263.0" y="396.0" width="5.3" height="81.7" fill="url(#cb)"/>
<text x="271.60" y="398.20" font-size="6.4" text-anchor="start" fill="#222" >2</text>
<text x="271.60" y="418.62" font-size="6.4" text-anchor="start" fill="#222" >1</text>
<text x="271.60" y="439.05" font-size="6.4" text-anchor="start" fill="#222" >0</text>
<text x="270.00" y="459.47" font-size="6.4" text-anchor="start" fill="#222" >−1</text>
<text x="270.00" y="479.90" font-size="6.4" text-anchor="start" fill="#222" >−2</text>
<text transform="translate(280.2,438.2) rotate(90)" font-size="6.2" text-anchor="middle" fill="#222">Scaled Log<tspan font-size="4.6" dy="1.6">2</tspan><tspan dy="-1.6"> Fold Change</tspan></text>
<text x="260.6" y="486.6" font-size="7.8" font-weight="bold" fill="#111">Dose</text>
<rect x="262.9" y="488.10" width="7.9" height="7.95" fill="#E3784F"/>
<text x="272.20" y="494.10" font-size="6.2" text-anchor="start" fill="#222" >50</text>
<rect x="262.9" y="495.94" width="7.9" height="7.95" fill="#AE9535"/>
<text x="272.20" y="501.94" font-size="6.2" text-anchor="start" fill="#222" >100</text>
<rect x="262.9" y="503.78" width="7.9" height="7.95" fill="#98C84A"/>
<text x="272.20" y="509.78" font-size="6.2" text-anchor="start" fill="#222" >137.5</text>
<rect x="262.9" y="511.62" width="7.9" height="7.95" fill="#6DAD50"/>
<text x="272.20" y="517.62" font-size="6.2" text-anchor="start" fill="#222" >187.5</text>
<rect x="262.9" y="519.46" width="7.9" height="7.95" fill="#5A98D6"/>
<text x="272.20" y="525.46" font-size="6.2" text-anchor="start" fill="#222" >225</text>
<rect x="262.9" y="527.30" width="7.9" height="7.95" fill="#A66DB4"/>
<text x="272.20" y="533.30" font-size="6.2" text-anchor="start" fill="#222" >275</text>
<rect x="262.9" y="535.14" width="7.9" height="7.95" fill="#4B2A89"/>
<text x="272.20" y="541.14" font-size="6.2" text-anchor="start" fill="#222" >375</text>
<text x="260.6" y="554.0" font-size="7.8" font-weight="bold" fill="#111">Cmax <tspan font-size="5.8">C1D1</tspan></text>
<rect x="262.9" y="555.40" width="7.9" height="8.2" fill="#7E5BAE"/>
<rect x="262.9" y="563.43" width="7.9" height="8.2" fill="#8F8FCA"/>
<rect x="262.9" y="571.46" width="7.9" height="8.2" fill="#B5C6E2"/>
<rect x="262.9" y="579.49" width="7.9" height="8.2" fill="#E8F0F7"/>
<text x="272.20" y="561.30" font-size="6.2" text-anchor="start" fill="#222" >1,000</text>
<text x="272.20" y="585.30" font-size="6.2" text-anchor="start" fill="#222" >200</text>
<text x="260.6" y="597.0" font-size="7.8" font-weight="bold" fill="#111">AUC <tspan font-size="5.8">C1D1</tspan></text>
<rect x="262.9" y="598.70" width="7.9" height="7.9" fill="#5EAD6B"/>
<rect x="262.9" y="606.43" width="7.9" height="7.9" fill="#8FC9A0"/>
<rect x="262.9" y="614.16" width="7.9" height="7.9" fill="#BFE0D8"/>
<rect x="262.9" y="621.89" width="7.9" height="7.9" fill="#E3F1F1"/>
<text x="272.20" y="605.30" font-size="6.2" text-anchor="start" fill="#222" >2,500</text>
<text x="272.20" y="628.10" font-size="6.2" text-anchor="start" fill="#222" >500</text>
</svg>
</body></html>
